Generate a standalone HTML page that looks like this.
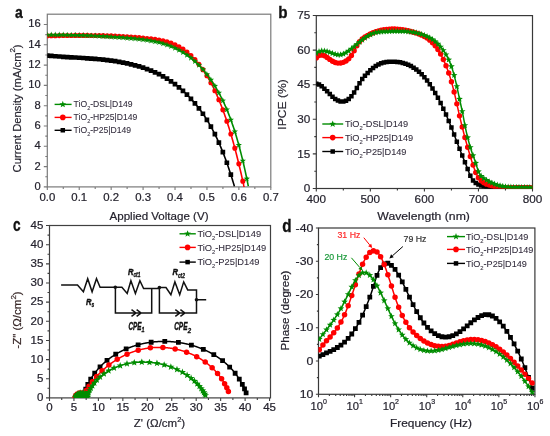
<!DOCTYPE html>
<html><head><meta charset="utf-8"><style>
html,body{margin:0;padding:0;background:#fff;width:550px;height:436px;overflow:hidden}
svg{display:block;filter:blur(0.4px);font-family:"Liberation Sans", sans-serif}
</style></head><body>
<svg width="550" height="436" viewBox="0 0 550 436" font-family='"Liberation Sans", sans-serif'>
<rect width="550" height="436" fill="#ffffff"/>
<defs><clipPath id="ca"><rect x="47.3" y="14.2" width="223.5" height="172.9"/></clipPath><clipPath id="cb"><rect x="316.3" y="15.6" width="216.2" height="173.1"/></clipPath><clipPath id="cc"><rect x="49.5" y="225.5" width="221" height="172.6"/></clipPath><clipPath id="cd"><rect x="318.5" y="228" width="216.4" height="166.5"/></clipPath></defs>
<rect x="47.3" y="14.2" width="223.5" height="172.7" fill="none" stroke="#7a7a7a" stroke-width="1.2"/>
<path d="M43.8,186.9 H47.3M43.8,166.6 H47.3M43.8,146.3 H47.3M43.8,126 H47.3M43.8,105.7 H47.3M43.8,85.4 H47.3M43.8,65.1 H47.3M43.8,44.8 H47.3M43.8,24.5 H47.3" stroke="#7a7a7a" stroke-width="1.1" fill="none"/>
<path d="M45.3,176.75 H47.3M45.3,156.45 H47.3M45.3,136.15 H47.3M45.3,115.85 H47.3M45.3,95.55 H47.3M45.3,75.25 H47.3M45.3,54.95 H47.3M45.3,34.65 H47.3" stroke="#7a7a7a" stroke-width="1.1" fill="none"/>
<path d="M47.3,186.9 V189.9M79.23,186.9 V189.9M111.16,186.9 V189.9M143.09,186.9 V189.9M175.02,186.9 V189.9M206.95,186.9 V189.9M238.88,186.9 V189.9M270.81,186.9 V189.9" stroke="#7a7a7a" stroke-width="1.1" fill="none"/>
<path d="M63.27,186.9 V188.9M95.2,186.9 V188.9M127.12,186.9 V188.9M159.06,186.9 V188.9M190.99,186.9 V188.9M222.92,186.9 V188.9M254.85,186.9 V188.9" stroke="#7a7a7a" stroke-width="1.1" fill="none"/>
<text transform="translate(40.8,189.8) scale(1.12,1.0)" font-size="10" text-anchor="end" fill="#25232e" font-weight="normal" font-style="normal"  stroke="#25232e" stroke-width="0.2">0</text>
<text transform="translate(40.8,169.5) scale(1.12,1.0)" font-size="10" text-anchor="end" fill="#25232e" font-weight="normal" font-style="normal"  stroke="#25232e" stroke-width="0.2">2</text>
<text transform="translate(40.8,149.2) scale(1.12,1.0)" font-size="10" text-anchor="end" fill="#25232e" font-weight="normal" font-style="normal"  stroke="#25232e" stroke-width="0.2">4</text>
<text transform="translate(40.8,128.9) scale(1.12,1.0)" font-size="10" text-anchor="end" fill="#25232e" font-weight="normal" font-style="normal"  stroke="#25232e" stroke-width="0.2">6</text>
<text transform="translate(40.8,108.6) scale(1.12,1.0)" font-size="10" text-anchor="end" fill="#25232e" font-weight="normal" font-style="normal"  stroke="#25232e" stroke-width="0.2">8</text>
<text transform="translate(40.8,88.3) scale(1.12,1.0)" font-size="10" text-anchor="end" fill="#25232e" font-weight="normal" font-style="normal"  stroke="#25232e" stroke-width="0.2">10</text>
<text transform="translate(40.8,68) scale(1.12,1.0)" font-size="10" text-anchor="end" fill="#25232e" font-weight="normal" font-style="normal"  stroke="#25232e" stroke-width="0.2">12</text>
<text transform="translate(40.8,47.7) scale(1.12,1.0)" font-size="10" text-anchor="end" fill="#25232e" font-weight="normal" font-style="normal"  stroke="#25232e" stroke-width="0.2">14</text>
<text transform="translate(40.8,27.4) scale(1.12,1.0)" font-size="10" text-anchor="end" fill="#25232e" font-weight="normal" font-style="normal"  stroke="#25232e" stroke-width="0.2">16</text>
<text transform="translate(47.3,200.5) scale(1.14,1.0)" font-size="10" text-anchor="middle" fill="#25232e" font-weight="normal" font-style="normal"  stroke="#25232e" stroke-width="0.2">0.0</text>
<text transform="translate(79.23,200.5) scale(1.14,1.0)" font-size="10" text-anchor="middle" fill="#25232e" font-weight="normal" font-style="normal"  stroke="#25232e" stroke-width="0.2">0.1</text>
<text transform="translate(111.16,200.5) scale(1.14,1.0)" font-size="10" text-anchor="middle" fill="#25232e" font-weight="normal" font-style="normal"  stroke="#25232e" stroke-width="0.2">0.2</text>
<text transform="translate(143.09,200.5) scale(1.14,1.0)" font-size="10" text-anchor="middle" fill="#25232e" font-weight="normal" font-style="normal"  stroke="#25232e" stroke-width="0.2">0.3</text>
<text transform="translate(175.02,200.5) scale(1.14,1.0)" font-size="10" text-anchor="middle" fill="#25232e" font-weight="normal" font-style="normal"  stroke="#25232e" stroke-width="0.2">0.4</text>
<text transform="translate(206.95,200.5) scale(1.14,1.0)" font-size="10" text-anchor="middle" fill="#25232e" font-weight="normal" font-style="normal"  stroke="#25232e" stroke-width="0.2">0.5</text>
<text transform="translate(238.88,200.5) scale(1.14,1.0)" font-size="10" text-anchor="middle" fill="#25232e" font-weight="normal" font-style="normal"  stroke="#25232e" stroke-width="0.2">0.6</text>
<text transform="translate(270.81,200.5) scale(1.14,1.0)" font-size="10" text-anchor="middle" fill="#25232e" font-weight="normal" font-style="normal"  stroke="#25232e" stroke-width="0.2">0.7</text>
<text x="159" y="220.2" font-size="11.5" text-anchor="middle" fill="#25232e" font-weight="normal" font-style="normal" textLength="99" lengthAdjust="spacingAndGlyphs"  stroke="#25232e" stroke-width="0.2">Applied Voltage (V)</text>
<text transform="translate(20.6,108.4) rotate(-90)" font-size="11.5" text-anchor="middle" fill="#25232e" textLength="128" lengthAdjust="spacingAndGlyphs" stroke="#25232e" stroke-width="0.2">Current Density (mA/cm<tspan font-size="8" dy="-5.5">2</tspan><tspan dy="5.5">)</tspan></text>
<text transform="translate(15,17.7) scale(0.8,0.97)" font-size="17.5" font-weight="bold" fill="#111" stroke="#111" stroke-width="0.35">a</text>
<g clip-path="url(#ca)">
<path d="M47.3,55.54 L47.8,55.59 L48.3,55.63 L48.8,55.68 L49.3,55.73 L49.8,55.77 L50.3,55.82 L50.8,55.86 L51.3,55.9 L51.8,55.95 L52.3,55.99 L52.8,56.03 L53.3,56.07 L53.8,56.11 L54.3,56.15 L54.8,56.19 L55.3,56.23 L55.8,56.27 L56.3,56.31 L56.8,56.35 L57.3,56.38 L57.8,56.42 L58.3,56.45 L58.8,56.49 L59.3,56.53 L59.8,56.56 L60.3,56.6 L60.8,56.63 L61.3,56.66 L61.8,56.7 L62.3,56.73 L62.8,56.76 L63.3,56.8 L63.8,56.83 L64.3,56.86 L64.8,56.89 L65.3,56.92 L65.8,56.95 L66.3,56.99 L66.8,57.02 L67.3,57.05 L67.8,57.08 L68.3,57.11 L68.8,57.14 L69.3,57.17 L69.8,57.2 L70.3,57.23 L70.8,57.26 L71.3,57.29 L71.8,57.32 L72.3,57.35 L72.8,57.38 L73.3,57.41 L73.8,57.44 L74.3,57.47 L74.8,57.5 L75.3,57.53 L75.8,57.56 L76.3,57.59 L76.8,57.62 L77.3,57.65 L77.8,57.68 L78.3,57.71 L78.8,57.74 L79.3,57.77 L79.8,57.8 L80.3,57.83 L80.8,57.86 L81.3,57.89 L81.8,57.92 L82.3,57.95 L82.8,57.99 L83.3,58.02 L83.8,58.05 L84.3,58.08 L84.8,58.12 L85.3,58.15 L85.8,58.18 L86.3,58.22 L86.8,58.25 L87.3,58.29 L87.8,58.32 L88.3,58.36 L88.8,58.39 L89.3,58.43 L89.8,58.46 L90.3,58.5 L90.8,58.54 L91.3,58.58 L91.8,58.62 L92.3,58.66 L92.8,58.7 L93.3,58.74 L93.8,58.78 L94.3,58.82 L94.8,58.86 L95.3,58.9 L95.8,58.94 L96.3,58.99 L96.8,59.03 L97.3,59.08 L97.8,59.12 L98.3,59.17 L98.8,59.22 L99.3,59.26 L99.8,59.31 L100.3,59.36 L100.8,59.41 L101.3,59.46 L101.8,59.51 L102.3,59.56 L102.8,59.62 L103.3,59.67 L103.8,59.73 L104.3,59.78 L104.8,59.84 L105.3,59.89 L105.8,59.95 L106.3,60.01 L106.8,60.07 L107.3,60.13 L107.8,60.19 L108.3,60.25 L108.8,60.32 L109.3,60.38 L109.8,60.45 L110.3,60.51 L110.8,60.58 L111.3,60.65 L111.8,60.72 L112.3,60.79 L112.8,60.86 L113.3,60.93 L113.8,61.01 L114.3,61.08 L114.8,61.16 L115.3,61.24 L115.8,61.31 L116.3,61.39 L116.8,61.47 L117.3,61.56 L117.8,61.64 L118.3,61.72 L118.8,61.81 L119.3,61.89 L119.8,61.98 L120.3,62.07 L120.8,62.16 L121.3,62.25 L121.8,62.35 L122.3,62.44 L122.8,62.54 L123.3,62.63 L123.8,62.73 L124.3,62.83 L124.8,62.93 L125.3,63.04 L125.8,63.14 L126.3,63.25 L126.8,63.35 L127.3,63.46 L127.8,63.57 L128.3,63.68 L128.8,63.79 L129.3,63.91 L129.8,64.03 L130.3,64.14 L130.8,64.26 L131.3,64.38 L131.8,64.5 L132.3,64.63 L132.8,64.75 L133.3,64.88 L133.8,65.01 L134.3,65.14 L134.8,65.27 L135.3,65.41 L135.8,65.54 L136.3,65.68 L136.8,65.82 L137.3,65.96 L137.8,66.1 L138.3,66.24 L138.8,66.39 L139.3,66.54 L139.8,66.69 L140.3,66.84 L140.8,66.99 L141.3,67.15 L141.8,67.3 L142.3,67.46 L142.8,67.62 L143.3,67.79 L143.8,67.95 L144.3,68.12 L144.8,68.29 L145.3,68.46 L145.8,68.64 L146.3,68.81 L146.8,68.99 L147.3,69.17 L147.8,69.36 L148.3,69.55 L148.8,69.73 L149.3,69.93 L149.8,70.12 L150.3,70.32 L150.8,70.52 L151.3,70.72 L151.8,70.93 L152.3,71.13 L152.8,71.34 L153.3,71.56 L153.8,71.78 L154.3,71.99 L154.8,72.22 L155.3,72.44 L155.8,72.67 L156.3,72.9 L156.8,73.14 L157.3,73.38 L157.8,73.62 L158.3,73.86 L158.8,74.11 L159.3,74.36 L159.8,74.62 L160.3,74.88 L160.8,75.14 L161.3,75.4 L161.8,75.67 L162.3,75.94 L162.8,76.22 L163.3,76.5 L163.8,76.78 L164.3,77.07 L164.8,77.36 L165.3,77.65 L165.8,77.95 L166.3,78.26 L166.8,78.56 L167.3,78.87 L167.8,79.19 L168.3,79.5 L168.8,79.83 L169.3,80.15 L169.8,80.48 L170.3,80.82 L170.8,81.16 L171.3,81.5 L171.8,81.85 L172.3,82.2 L172.8,82.56 L173.3,82.92 L173.8,83.28 L174.3,83.65 L174.8,84.03 L175.3,84.41 L175.8,84.79 L176.3,85.18 L176.8,85.57 L177.3,85.97 L177.8,86.37 L178.3,86.78 L178.8,87.19 L179.3,87.61 L179.8,88.03 L180.3,88.46 L180.8,88.89 L181.3,89.33 L181.8,89.77 L182.3,90.22 L182.8,90.67 L183.3,91.13 L183.8,91.59 L184.3,92.06 L184.8,92.53 L185.3,93.01 L185.8,93.49 L186.3,93.98 L186.8,94.48 L187.3,94.98 L187.8,95.49 L188.3,96 L188.8,96.52 L189.3,97.04 L189.8,97.57 L190.3,98.1 L190.8,98.64 L191.3,99.19 L191.8,99.74 L192.3,100.3 L192.8,100.86 L193.3,101.43 L193.8,102.01 L194.3,102.59 L194.8,103.18 L195.3,103.77 L195.8,104.37 L196.3,104.98 L196.8,105.6 L197.3,106.22 L197.8,106.85 L198.3,107.48 L198.8,108.13 L199.3,108.78 L199.8,109.44 L200.3,110.11 L200.8,110.79 L201.3,111.47 L201.8,112.17 L202.3,112.87 L202.8,113.59 L203.3,114.31 L203.8,115.04 L204.3,115.78 L204.8,116.54 L205.3,117.3 L205.8,118.07 L206.3,118.86 L206.8,119.65 L207.3,120.46 L207.8,121.27 L208.3,122.1 L208.8,122.94 L209.3,123.8 L209.8,124.66 L210.3,125.54 L210.8,126.43 L211.3,127.33 L211.8,128.24 L212.3,129.17 L212.8,130.11 L213.3,131.07 L213.8,132.03 L214.3,133.01 L214.8,134.01 L215.3,135.02 L215.8,136.05 L216.3,137.08 L216.8,138.14 L217.3,139.21 L217.8,140.29 L218.3,141.39 L218.8,142.51 L219.3,143.64 L219.8,144.78 L220.3,145.95 L220.8,147.13 L221.3,148.32 L221.8,149.53 L222.3,150.76 L222.8,152.01 L223.3,153.28 L223.8,154.56 L224.3,155.86 L224.8,157.17 L225.3,158.51 L225.8,159.87 L226.3,161.24 L226.8,162.63 L227.3,164.05 L227.8,165.48 L228.3,166.93 L228.8,168.41 L229.3,169.9 L229.8,171.42 L230.3,172.95 L230.8,174.51 L231.3,176.09 L231.8,177.69 L232.3,179.31 L232.8,180.96 L233.3,182.63 L233.8,184.32 L234.3,186.04 L234.4,186.38" fill="none" stroke="#000000" stroke-width="1.6" stroke-linejoin="round"/>
<path d="M44.95,53.19 h4.7 v4.7 h-4.7ZM48.94,53.55 h4.7 v4.7 h-4.7ZM52.93,53.88 h4.7 v4.7 h-4.7ZM56.92,54.17 h4.7 v4.7 h-4.7ZM60.91,54.44 h4.7 v4.7 h-4.7ZM64.9,54.69 h4.7 v4.7 h-4.7ZM68.89,54.94 h4.7 v4.7 h-4.7ZM72.88,55.17 h4.7 v4.7 h-4.7ZM76.87,55.41 h4.7 v4.7 h-4.7ZM80.86,55.66 h4.7 v4.7 h-4.7ZM84.85,55.93 h4.7 v4.7 h-4.7ZM88.84,56.22 h4.7 v4.7 h-4.7ZM92.83,56.54 h4.7 v4.7 h-4.7ZM96.82,56.9 h4.7 v4.7 h-4.7ZM100.81,57.31 h4.7 v4.7 h-4.7ZM104.8,57.76 h4.7 v4.7 h-4.7ZM108.79,58.28 h4.7 v4.7 h-4.7ZM112.78,58.86 h4.7 v4.7 h-4.7ZM116.77,59.51 h4.7 v4.7 h-4.7ZM120.76,60.25 h4.7 v4.7 h-4.7ZM124.75,61.07 h4.7 v4.7 h-4.7ZM128.74,61.98 h4.7 v4.7 h-4.7ZM132.73,63 h4.7 v4.7 h-4.7ZM136.72,64.12 h4.7 v4.7 h-4.7ZM140.71,65.36 h4.7 v4.7 h-4.7ZM144.7,66.73 h4.7 v4.7 h-4.7ZM148.69,68.26 h4.7 v4.7 h-4.7ZM152.68,69.97 h4.7 v4.7 h-4.7ZM156.67,71.87 h4.7 v4.7 h-4.7ZM160.66,73.99 h4.7 v4.7 h-4.7ZM164.65,76.34 h4.7 v4.7 h-4.7ZM168.64,78.94 h4.7 v4.7 h-4.7ZM172.63,81.81 h4.7 v4.7 h-4.7ZM176.62,84.98 h4.7 v4.7 h-4.7ZM180.61,88.46 h4.7 v4.7 h-4.7ZM184.6,92.28 h4.7 v4.7 h-4.7ZM188.59,96.44 h4.7 v4.7 h-4.7ZM192.58,100.98 h4.7 v4.7 h-4.7ZM196.57,105.93 h4.7 v4.7 h-4.7ZM200.56,111.39 h4.7 v4.7 h-4.7ZM204.55,117.46 h4.7 v4.7 h-4.7ZM208.54,124.24 h4.7 v4.7 h-4.7ZM212.53,131.82 h4.7 v4.7 h-4.7ZM216.52,140.31 h4.7 v4.7 h-4.7ZM220.51,149.81 h4.7 v4.7 h-4.7ZM224.5,160.42 h4.7 v4.7 h-4.7ZM228.49,172.28 h4.7 v4.7 h-4.7Z" fill="#000000" stroke="none"/>
<path d="M47.3,35.84 L47.8,35.83 L48.3,35.82 L48.8,35.81 L49.3,35.8 L49.8,35.79 L50.3,35.78 L50.8,35.77 L51.3,35.76 L51.8,35.75 L52.3,35.74 L52.8,35.73 L53.3,35.72 L53.8,35.71 L54.3,35.7 L54.8,35.69 L55.3,35.68 L55.8,35.67 L56.3,35.66 L56.8,35.66 L57.3,35.65 L57.8,35.64 L58.3,35.63 L58.8,35.62 L59.3,35.61 L59.8,35.6 L60.3,35.6 L60.8,35.59 L61.3,35.58 L61.8,35.57 L62.3,35.57 L62.8,35.56 L63.3,35.55 L63.8,35.54 L64.3,35.54 L64.8,35.53 L65.3,35.52 L65.8,35.52 L66.3,35.51 L66.8,35.5 L67.3,35.5 L67.8,35.49 L68.3,35.48 L68.8,35.48 L69.3,35.47 L69.8,35.47 L70.3,35.46 L70.8,35.46 L71.3,35.45 L71.8,35.45 L72.3,35.44 L72.8,35.44 L73.3,35.44 L73.8,35.43 L74.3,35.43 L74.8,35.42 L75.3,35.42 L75.8,35.42 L76.3,35.41 L76.8,35.41 L77.3,35.41 L77.8,35.41 L78.3,35.4 L78.8,35.4 L79.3,35.4 L79.8,35.4 L80.3,35.4 L80.8,35.4 L81.3,35.4 L81.8,35.4 L82.3,35.4 L82.8,35.4 L83.3,35.4 L83.8,35.4 L84.3,35.4 L84.8,35.4 L85.3,35.4 L85.8,35.4 L86.3,35.4 L86.8,35.4 L87.3,35.41 L87.8,35.41 L88.3,35.41 L88.8,35.42 L89.3,35.42 L89.8,35.42 L90.3,35.43 L90.8,35.43 L91.3,35.43 L91.8,35.44 L92.3,35.44 L92.8,35.45 L93.3,35.46 L93.8,35.46 L94.3,35.47 L94.8,35.47 L95.3,35.48 L95.8,35.49 L96.3,35.5 L96.8,35.5 L97.3,35.51 L97.8,35.52 L98.3,35.53 L98.8,35.54 L99.3,35.55 L99.8,35.56 L100.3,35.57 L100.8,35.58 L101.3,35.59 L101.8,35.6 L102.3,35.61 L102.8,35.62 L103.3,35.64 L103.8,35.65 L104.3,35.66 L104.8,35.68 L105.3,35.69 L105.8,35.7 L106.3,35.72 L106.8,35.73 L107.3,35.75 L107.8,35.76 L108.3,35.78 L108.8,35.8 L109.3,35.81 L109.8,35.83 L110.3,35.85 L110.8,35.87 L111.3,35.89 L111.8,35.9 L112.3,35.92 L112.8,35.94 L113.3,35.96 L113.8,35.98 L114.3,36 L114.8,36.03 L115.3,36.05 L115.8,36.07 L116.3,36.09 L116.8,36.12 L117.3,36.14 L117.8,36.16 L118.3,36.19 L118.8,36.21 L119.3,36.24 L119.8,36.26 L120.3,36.29 L120.8,36.32 L121.3,36.34 L121.8,36.37 L122.3,36.4 L122.8,36.43 L123.3,36.46 L123.8,36.49 L124.3,36.52 L124.8,36.55 L125.3,36.58 L125.8,36.61 L126.3,36.64 L126.8,36.67 L127.3,36.71 L127.8,36.74 L128.3,36.77 L128.8,36.81 L129.3,36.84 L129.8,36.88 L130.3,36.91 L130.8,36.95 L131.3,36.99 L131.8,37.02 L132.3,37.06 L132.8,37.1 L133.3,37.14 L133.8,37.18 L134.3,37.22 L134.8,37.26 L135.3,37.3 L135.8,37.34 L136.3,37.38 L136.8,37.43 L137.3,37.47 L137.8,37.51 L138.3,37.56 L138.8,37.6 L139.3,37.65 L139.8,37.7 L140.3,37.74 L140.8,37.79 L141.3,37.84 L141.8,37.89 L142.3,37.94 L142.8,37.98 L143.3,38.04 L143.8,38.09 L144.3,38.14 L144.8,38.19 L145.3,38.24 L145.8,38.3 L146.3,38.35 L146.8,38.4 L147.3,38.46 L147.8,38.51 L148.3,38.57 L148.8,38.63 L149.3,38.68 L149.8,38.74 L150.3,38.8 L150.8,38.86 L151.3,38.92 L151.8,38.98 L152.3,39.04 L152.8,39.11 L153.3,39.17 L153.8,39.24 L154.3,39.3 L154.8,39.37 L155.3,39.44 L155.8,39.52 L156.3,39.59 L156.8,39.67 L157.3,39.74 L157.8,39.83 L158.3,39.91 L158.8,39.99 L159.3,40.08 L159.8,40.17 L160.3,40.26 L160.8,40.36 L161.3,40.46 L161.8,40.56 L162.3,40.66 L162.8,40.77 L163.3,40.88 L163.8,41 L164.3,41.12 L164.8,41.24 L165.3,41.37 L165.8,41.5 L166.3,41.63 L166.8,41.77 L167.3,41.91 L167.8,42.06 L168.3,42.21 L168.8,42.36 L169.3,42.52 L169.8,42.69 L170.3,42.86 L170.8,43.03 L171.3,43.21 L171.8,43.4 L172.3,43.59 L172.8,43.79 L173.3,43.99 L173.8,44.19 L174.3,44.41 L174.8,44.63 L175.3,44.85 L175.8,45.08 L176.3,45.32 L176.8,45.56 L177.3,45.81 L177.8,46.07 L178.3,46.33 L178.8,46.6 L179.3,46.87 L179.8,47.16 L180.3,47.45 L180.8,47.74 L181.3,48.05 L181.8,48.36 L182.3,48.68 L182.8,49 L183.3,49.34 L183.8,49.68 L184.3,50.03 L184.8,50.39 L185.3,50.75 L185.8,51.13 L186.3,51.51 L186.8,51.9 L187.3,52.3 L187.8,52.71 L188.3,53.12 L188.8,53.55 L189.3,53.98 L189.8,54.43 L190.3,54.88 L190.8,55.34 L191.3,55.81 L191.8,56.29 L192.3,56.78 L192.8,57.28 L193.3,57.79 L193.8,58.31 L194.3,58.84 L194.8,59.38 L195.3,59.93 L195.8,60.49 L196.3,61.06 L196.8,61.64 L197.3,62.23 L197.8,62.84 L198.3,63.45 L198.8,64.08 L199.3,64.71 L199.8,65.36 L200.3,66.02 L200.8,66.69 L201.3,67.37 L201.8,68.06 L202.3,68.76 L202.8,69.48 L203.3,70.21 L203.8,70.95 L204.3,71.7 L204.8,72.46 L205.3,73.24 L205.8,74.03 L206.3,74.83 L206.8,75.65 L207.3,76.47 L207.8,77.32 L208.3,78.17 L208.8,79.04 L209.3,79.92 L209.8,80.81 L210.3,81.72 L210.8,82.65 L211.3,83.59 L211.8,84.54 L212.3,85.51 L212.8,86.49 L213.3,87.49 L213.8,88.51 L214.3,89.54 L214.8,90.59 L215.3,91.65 L215.8,92.73 L216.3,93.83 L216.8,94.94 L217.3,96.07 L217.8,97.22 L218.3,98.38 L218.8,99.57 L219.3,100.77 L219.8,101.99 L220.3,103.23 L220.8,104.48 L221.3,105.76 L221.8,107.05 L222.3,108.36 L222.8,109.7 L223.3,111.05 L223.8,112.42 L224.3,113.81 L224.8,115.23 L225.3,116.66 L225.8,118.11 L226.3,119.59 L226.8,121.08 L227.3,122.6 L227.8,124.14 L228.3,125.7 L228.8,127.28 L229.3,128.88 L229.8,130.51 L230.3,132.16 L230.8,133.83 L231.3,135.53 L231.8,137.25 L232.3,138.99 L232.8,140.75 L233.3,142.54 L233.8,144.35 L234.3,146.18 L234.8,148.04 L235.3,149.93 L235.8,151.83 L236.3,153.76 L236.8,155.72 L237.3,157.69 L237.8,159.7 L238.3,161.73 L238.8,163.78 L239.3,165.85 L239.8,167.96 L240.3,170.08 L240.8,172.23 L241.3,174.41 L241.8,176.61 L242.3,178.84 L242.8,181.09 L243.3,183.37 L243.8,185.67 L244.2,186.9" fill="none" stroke="#ff0000" stroke-width="1.6" stroke-linejoin="round"/>
<path d="M44.75,35.84 a2.55,2.55 0 1,0 5.1,0 a2.55,2.55 0 1,0 -5.1,0ZM48.74,35.76 a2.55,2.55 0 1,0 5.1,0 a2.55,2.55 0 1,0 -5.1,0ZM52.73,35.68 a2.55,2.55 0 1,0 5.1,0 a2.55,2.55 0 1,0 -5.1,0ZM56.72,35.61 a2.55,2.55 0 1,0 5.1,0 a2.55,2.55 0 1,0 -5.1,0ZM60.71,35.55 a2.55,2.55 0 1,0 5.1,0 a2.55,2.55 0 1,0 -5.1,0ZM64.7,35.5 a2.55,2.55 0 1,0 5.1,0 a2.55,2.55 0 1,0 -5.1,0ZM68.69,35.45 a2.55,2.55 0 1,0 5.1,0 a2.55,2.55 0 1,0 -5.1,0ZM72.68,35.42 a2.55,2.55 0 1,0 5.1,0 a2.55,2.55 0 1,0 -5.1,0ZM76.67,35.4 a2.55,2.55 0 1,0 5.1,0 a2.55,2.55 0 1,0 -5.1,0ZM80.66,35.4 a2.55,2.55 0 1,0 5.1,0 a2.55,2.55 0 1,0 -5.1,0ZM84.65,35.41 a2.55,2.55 0 1,0 5.1,0 a2.55,2.55 0 1,0 -5.1,0ZM88.64,35.43 a2.55,2.55 0 1,0 5.1,0 a2.55,2.55 0 1,0 -5.1,0ZM92.63,35.48 a2.55,2.55 0 1,0 5.1,0 a2.55,2.55 0 1,0 -5.1,0ZM96.62,35.55 a2.55,2.55 0 1,0 5.1,0 a2.55,2.55 0 1,0 -5.1,0ZM100.61,35.63 a2.55,2.55 0 1,0 5.1,0 a2.55,2.55 0 1,0 -5.1,0ZM104.6,35.74 a2.55,2.55 0 1,0 5.1,0 a2.55,2.55 0 1,0 -5.1,0ZM108.59,35.88 a2.55,2.55 0 1,0 5.1,0 a2.55,2.55 0 1,0 -5.1,0ZM112.58,36.04 a2.55,2.55 0 1,0 5.1,0 a2.55,2.55 0 1,0 -5.1,0ZM116.57,36.23 a2.55,2.55 0 1,0 5.1,0 a2.55,2.55 0 1,0 -5.1,0ZM120.56,36.44 a2.55,2.55 0 1,0 5.1,0 a2.55,2.55 0 1,0 -5.1,0ZM124.55,36.69 a2.55,2.55 0 1,0 5.1,0 a2.55,2.55 0 1,0 -5.1,0ZM128.54,36.97 a2.55,2.55 0 1,0 5.1,0 a2.55,2.55 0 1,0 -5.1,0ZM132.53,37.28 a2.55,2.55 0 1,0 5.1,0 a2.55,2.55 0 1,0 -5.1,0ZM136.52,37.63 a2.55,2.55 0 1,0 5.1,0 a2.55,2.55 0 1,0 -5.1,0ZM140.51,38.01 a2.55,2.55 0 1,0 5.1,0 a2.55,2.55 0 1,0 -5.1,0ZM144.5,38.43 a2.55,2.55 0 1,0 5.1,0 a2.55,2.55 0 1,0 -5.1,0ZM148.49,38.89 a2.55,2.55 0 1,0 5.1,0 a2.55,2.55 0 1,0 -5.1,0ZM152.48,39.41 a2.55,2.55 0 1,0 5.1,0 a2.55,2.55 0 1,0 -5.1,0ZM156.47,40.03 a2.55,2.55 0 1,0 5.1,0 a2.55,2.55 0 1,0 -5.1,0ZM160.46,40.82 a2.55,2.55 0 1,0 5.1,0 a2.55,2.55 0 1,0 -5.1,0ZM164.45,41.82 a2.55,2.55 0 1,0 5.1,0 a2.55,2.55 0 1,0 -5.1,0ZM168.44,43.1 a2.55,2.55 0 1,0 5.1,0 a2.55,2.55 0 1,0 -5.1,0ZM172.43,44.71 a2.55,2.55 0 1,0 5.1,0 a2.55,2.55 0 1,0 -5.1,0ZM176.42,46.69 a2.55,2.55 0 1,0 5.1,0 a2.55,2.55 0 1,0 -5.1,0ZM180.41,49.11 a2.55,2.55 0 1,0 5.1,0 a2.55,2.55 0 1,0 -5.1,0ZM184.4,52.02 a2.55,2.55 0 1,0 5.1,0 a2.55,2.55 0 1,0 -5.1,0ZM188.39,55.47 a2.55,2.55 0 1,0 5.1,0 a2.55,2.55 0 1,0 -5.1,0ZM192.38,59.52 a2.55,2.55 0 1,0 5.1,0 a2.55,2.55 0 1,0 -5.1,0ZM196.37,64.23 a2.55,2.55 0 1,0 5.1,0 a2.55,2.55 0 1,0 -5.1,0ZM200.36,69.64 a2.55,2.55 0 1,0 5.1,0 a2.55,2.55 0 1,0 -5.1,0ZM204.35,75.81 a2.55,2.55 0 1,0 5.1,0 a2.55,2.55 0 1,0 -5.1,0ZM208.34,82.82 a2.55,2.55 0 1,0 5.1,0 a2.55,2.55 0 1,0 -5.1,0ZM212.33,90.76 a2.55,2.55 0 1,0 5.1,0 a2.55,2.55 0 1,0 -5.1,0ZM216.32,99.73 a2.55,2.55 0 1,0 5.1,0 a2.55,2.55 0 1,0 -5.1,0ZM220.31,109.86 a2.55,2.55 0 1,0 5.1,0 a2.55,2.55 0 1,0 -5.1,0ZM224.3,121.23 a2.55,2.55 0 1,0 5.1,0 a2.55,2.55 0 1,0 -5.1,0ZM228.29,133.97 a2.55,2.55 0 1,0 5.1,0 a2.55,2.55 0 1,0 -5.1,0ZM232.28,148.16 a2.55,2.55 0 1,0 5.1,0 a2.55,2.55 0 1,0 -5.1,0ZM236.27,163.86 a2.55,2.55 0 1,0 5.1,0 a2.55,2.55 0 1,0 -5.1,0ZM240.26,181.13 a2.55,2.55 0 1,0 5.1,0 a2.55,2.55 0 1,0 -5.1,0Z" fill="#ff0000" stroke="none"/>
<path d="M47.3,34.8 L47.8,34.8 L48.3,34.8 L48.8,34.8 L49.3,34.8 L49.8,34.8 L50.3,34.81 L50.8,34.81 L51.3,34.81 L51.8,34.81 L52.3,34.81 L52.8,34.81 L53.3,34.81 L53.8,34.82 L54.3,34.82 L54.8,34.82 L55.3,34.83 L55.8,34.83 L56.3,34.83 L56.8,34.84 L57.3,34.84 L57.8,34.84 L58.3,34.85 L58.8,34.85 L59.3,34.86 L59.8,34.86 L60.3,34.87 L60.8,34.88 L61.3,34.88 L61.8,34.89 L62.3,34.89 L62.8,34.9 L63.3,34.91 L63.8,34.91 L64.3,34.92 L64.8,34.93 L65.3,34.94 L65.8,34.95 L66.3,34.95 L66.8,34.96 L67.3,34.97 L67.8,34.98 L68.3,34.99 L68.8,35 L69.3,35.01 L69.8,35.02 L70.3,35.03 L70.8,35.04 L71.3,35.05 L71.8,35.06 L72.3,35.07 L72.8,35.09 L73.3,35.1 L73.8,35.11 L74.3,35.12 L74.8,35.14 L75.3,35.15 L75.8,35.16 L76.3,35.17 L76.8,35.19 L77.3,35.2 L77.8,35.22 L78.3,35.23 L78.8,35.25 L79.3,35.26 L79.8,35.28 L80.3,35.29 L80.8,35.31 L81.3,35.32 L81.8,35.34 L82.3,35.36 L82.8,35.37 L83.3,35.39 L83.8,35.41 L84.3,35.43 L84.8,35.44 L85.3,35.46 L85.8,35.48 L86.3,35.5 L86.8,35.52 L87.3,35.54 L87.8,35.56 L88.3,35.58 L88.8,35.6 L89.3,35.62 L89.8,35.64 L90.3,35.66 L90.8,35.68 L91.3,35.7 L91.8,35.72 L92.3,35.75 L92.8,35.77 L93.3,35.79 L93.8,35.81 L94.3,35.84 L94.8,35.86 L95.3,35.88 L95.8,35.91 L96.3,35.93 L96.8,35.96 L97.3,35.98 L97.8,36.01 L98.3,36.03 L98.8,36.06 L99.3,36.08 L99.8,36.11 L100.3,36.14 L100.8,36.16 L101.3,36.19 L101.8,36.22 L102.3,36.25 L102.8,36.27 L103.3,36.3 L103.8,36.33 L104.3,36.36 L104.8,36.39 L105.3,36.42 L105.8,36.45 L106.3,36.48 L106.8,36.51 L107.3,36.54 L107.8,36.57 L108.3,36.6 L108.8,36.63 L109.3,36.66 L109.8,36.7 L110.3,36.73 L110.8,36.76 L111.3,36.79 L111.8,36.83 L112.3,36.86 L112.8,36.9 L113.3,36.93 L113.8,36.96 L114.3,37 L114.8,37.03 L115.3,37.07 L115.8,37.11 L116.3,37.14 L116.8,37.18 L117.3,37.21 L117.8,37.25 L118.3,37.29 L118.8,37.33 L119.3,37.36 L119.8,37.4 L120.3,37.44 L120.8,37.48 L121.3,37.52 L121.8,37.56 L122.3,37.6 L122.8,37.64 L123.3,37.68 L123.8,37.72 L124.3,37.76 L124.8,37.8 L125.3,37.84 L125.8,37.88 L126.3,37.93 L126.8,37.97 L127.3,38.01 L127.8,38.05 L128.3,38.1 L128.8,38.14 L129.3,38.19 L129.8,38.23 L130.3,38.27 L130.8,38.32 L131.3,38.36 L131.8,38.41 L132.3,38.46 L132.8,38.5 L133.3,38.55 L133.8,38.6 L134.3,38.64 L134.8,38.69 L135.3,38.74 L135.8,38.79 L136.3,38.84 L136.8,38.89 L137.3,38.94 L137.8,38.99 L138.3,39.04 L138.8,39.09 L139.3,39.15 L139.8,39.2 L140.3,39.25 L140.8,39.31 L141.3,39.37 L141.8,39.43 L142.3,39.49 L142.8,39.55 L143.3,39.61 L143.8,39.67 L144.3,39.73 L144.8,39.8 L145.3,39.87 L145.8,39.93 L146.3,40 L146.8,40.07 L147.3,40.15 L147.8,40.22 L148.3,40.3 L148.8,40.38 L149.3,40.46 L149.8,40.54 L150.3,40.62 L150.8,40.71 L151.3,40.79 L151.8,40.88 L152.3,40.97 L152.8,41.07 L153.3,41.16 L153.8,41.26 L154.3,41.36 L154.8,41.46 L155.3,41.56 L155.8,41.67 L156.3,41.78 L156.8,41.89 L157.3,42.01 L157.8,42.12 L158.3,42.24 L158.8,42.36 L159.3,42.49 L159.8,42.62 L160.3,42.75 L160.8,42.88 L161.3,43.01 L161.8,43.15 L162.3,43.3 L162.8,43.44 L163.3,43.59 L163.8,43.74 L164.3,43.89 L164.8,44.05 L165.3,44.21 L165.8,44.38 L166.3,44.54 L166.8,44.71 L167.3,44.89 L167.8,45.07 L168.3,45.25 L168.8,45.43 L169.3,45.62 L169.8,45.81 L170.3,46.01 L170.8,46.21 L171.3,46.41 L171.8,46.62 L172.3,46.83 L172.8,47.05 L173.3,47.27 L173.8,47.49 L174.3,47.72 L174.8,47.95 L175.3,48.19 L175.8,48.43 L176.3,48.67 L176.8,48.92 L177.3,49.17 L177.8,49.43 L178.3,49.69 L178.8,49.96 L179.3,50.23 L179.8,50.51 L180.3,50.79 L180.8,51.08 L181.3,51.37 L181.8,51.66 L182.3,51.96 L182.8,52.27 L183.3,52.58 L183.8,52.89 L184.3,53.21 L184.8,53.54 L185.3,53.87 L185.8,54.2 L186.3,54.54 L186.8,54.89 L187.3,55.24 L187.8,55.6 L188.3,55.96 L188.8,56.33 L189.3,56.7 L189.8,57.08 L190.3,57.47 L190.8,57.86 L191.3,58.26 L191.8,58.66 L192.3,59.07 L192.8,59.49 L193.3,59.92 L193.8,60.35 L194.3,60.78 L194.8,61.23 L195.3,61.68 L195.8,62.14 L196.3,62.6 L196.8,63.08 L197.3,63.56 L197.8,64.05 L198.3,64.54 L198.8,65.04 L199.3,65.56 L199.8,66.07 L200.3,66.6 L200.8,67.14 L201.3,67.68 L201.8,68.23 L202.3,68.79 L202.8,69.36 L203.3,69.94 L203.8,70.53 L204.3,71.12 L204.8,71.73 L205.3,72.34 L205.8,72.96 L206.3,73.59 L206.8,74.23 L207.3,74.89 L207.8,75.55 L208.3,76.22 L208.8,76.9 L209.3,77.59 L209.8,78.29 L210.3,78.99 L210.8,79.72 L211.3,80.45 L211.8,81.19 L212.3,81.94 L212.8,82.7 L213.3,83.47 L213.8,84.26 L214.3,85.05 L214.8,85.86 L215.3,86.67 L215.8,87.5 L216.3,88.34 L216.8,89.2 L217.3,90.06 L217.8,90.94 L218.3,91.84 L218.8,92.74 L219.3,93.67 L219.8,94.6 L220.3,95.55 L220.8,96.52 L221.3,97.5 L221.8,98.5 L222.3,99.52 L222.8,100.55 L223.3,101.6 L223.8,102.67 L224.3,103.75 L224.8,104.86 L225.3,105.98 L225.8,107.12 L226.3,108.28 L226.8,109.46 L227.3,110.66 L227.8,111.88 L228.3,113.13 L228.8,114.39 L229.3,115.68 L229.8,116.99 L230.3,118.33 L230.8,119.69 L231.3,121.07 L231.8,122.48 L232.3,123.91 L232.8,125.37 L233.3,126.86 L233.8,128.37 L234.3,129.91 L234.8,131.47 L235.3,133.07 L235.8,134.69 L236.3,136.35 L236.8,138.03 L237.3,139.74 L237.8,141.49 L238.3,143.26 L238.8,145.07 L239.3,146.91 L239.8,148.78 L240.3,150.68 L240.8,152.62 L241.3,154.6 L241.8,156.6 L242.3,158.65 L242.8,160.73 L243.3,162.84 L243.8,164.99 L244.3,167.18 L244.8,169.41 L245.3,171.68 L245.8,173.98 L246.3,176.33 L246.8,178.71 L247.3,181.13 L247.8,183.6 L248.3,186.11 L248.3,186.11" fill="none" stroke="#008c00" stroke-width="1.6" stroke-linejoin="round"/>
<path d="M47.3,31.5 L48.11,33.68 L50.44,33.78 L48.62,35.23 L49.24,37.47 L47.3,36.19 L45.36,37.47 L45.98,35.23 L44.16,33.78 L46.49,33.68ZM51.29,31.51 L52.1,33.69 L54.43,33.79 L52.61,35.24 L53.23,37.48 L51.29,36.19 L49.35,37.48 L49.97,35.24 L48.15,33.79 L50.48,33.69ZM55.28,31.53 L56.09,33.7 L58.42,33.81 L56.6,35.25 L57.22,37.5 L55.28,36.21 L53.34,37.5 L53.96,35.25 L52.14,33.81 L54.47,33.7ZM59.27,31.56 L60.08,33.74 L62.41,33.84 L60.59,35.29 L61.21,37.53 L59.27,36.24 L57.33,37.53 L57.95,35.29 L56.13,33.84 L58.46,33.74ZM63.26,31.61 L64.07,33.79 L66.4,33.89 L64.58,35.33 L65.2,37.58 L63.26,36.29 L61.32,37.58 L61.94,35.33 L60.12,33.89 L62.45,33.79ZM67.25,31.67 L68.06,33.85 L70.39,33.95 L68.57,35.4 L69.19,37.64 L67.25,36.36 L65.31,37.64 L65.93,35.4 L64.11,33.95 L66.44,33.85ZM71.24,31.75 L72.05,33.93 L74.38,34.03 L72.56,35.48 L73.18,37.72 L71.24,36.44 L69.3,37.72 L69.92,35.48 L68.1,34.03 L70.43,33.93ZM75.23,31.85 L76.04,34.02 L78.37,34.13 L76.55,35.57 L77.17,37.82 L75.23,36.53 L73.29,37.82 L73.91,35.57 L72.09,34.13 L74.42,34.02ZM79.22,31.96 L80.03,34.14 L82.36,34.24 L80.54,35.69 L81.16,37.93 L79.22,36.64 L77.28,37.93 L77.9,35.69 L76.08,34.24 L78.41,34.14ZM83.21,32.09 L84.02,34.27 L86.35,34.37 L84.53,35.82 L85.15,38.06 L83.21,36.77 L81.27,38.06 L81.89,35.82 L80.07,34.37 L82.4,34.27ZM87.2,32.23 L88.01,34.41 L90.34,34.51 L88.52,35.96 L89.14,38.2 L87.2,36.92 L85.26,38.2 L85.88,35.96 L84.06,34.51 L86.39,34.41ZM91.19,32.4 L92,34.58 L94.33,34.68 L92.51,36.13 L93.13,38.37 L91.19,37.08 L89.25,38.37 L89.87,36.13 L88.05,34.68 L90.38,34.58ZM95.18,32.58 L95.99,34.76 L98.32,34.86 L96.5,36.31 L97.12,38.55 L95.18,37.26 L93.24,38.55 L93.86,36.31 L92.04,34.86 L94.37,34.76ZM99.17,32.78 L99.98,34.96 L102.31,35.06 L100.49,36.51 L101.11,38.75 L99.17,37.46 L97.23,38.75 L97.85,36.51 L96.03,35.06 L98.36,34.96ZM103.16,32.99 L103.97,35.17 L106.3,35.27 L104.48,36.72 L105.1,38.96 L103.16,37.68 L101.22,38.96 L101.84,36.72 L100.02,35.27 L102.35,35.17ZM107.15,33.23 L107.96,35.41 L110.29,35.51 L108.47,36.96 L109.09,39.2 L107.15,37.92 L105.21,39.2 L105.83,36.96 L104.01,35.51 L106.34,35.41ZM111.14,33.48 L111.95,35.66 L114.28,35.76 L112.46,37.21 L113.08,39.45 L111.14,38.17 L109.2,39.45 L109.82,37.21 L108,35.76 L110.33,35.66ZM115.13,33.76 L115.94,35.94 L118.27,36.04 L116.45,37.49 L117.07,39.73 L115.13,38.44 L113.19,39.73 L113.81,37.49 L111.99,36.04 L114.32,35.94ZM119.12,34.05 L119.93,36.23 L122.26,36.33 L120.44,37.78 L121.06,40.02 L119.12,38.74 L117.18,40.02 L117.8,37.78 L115.98,36.33 L118.31,36.23ZM123.11,34.36 L123.92,36.54 L126.25,36.64 L124.43,38.09 L125.05,40.33 L123.11,39.05 L121.17,40.33 L121.79,38.09 L119.97,36.64 L122.3,36.54ZM127.1,34.69 L127.91,36.87 L130.24,36.97 L128.42,38.42 L129.04,40.66 L127.1,39.38 L125.16,40.66 L125.78,38.42 L123.96,36.97 L126.29,36.87ZM131.09,35.05 L131.9,37.22 L134.23,37.33 L132.41,38.77 L133.03,41.02 L131.09,39.73 L129.15,41.02 L129.77,38.77 L127.95,37.33 L130.28,37.22ZM135.08,35.42 L135.89,37.6 L138.22,37.7 L136.4,39.15 L137.02,41.39 L135.08,40.1 L133.14,41.39 L133.76,39.15 L131.94,37.7 L134.27,37.6ZM139.07,35.82 L139.88,38 L142.21,38.1 L140.39,39.55 L141.01,41.79 L139.07,40.51 L137.13,41.79 L137.75,39.55 L135.93,38.1 L138.26,38ZM143.06,36.28 L143.87,38.46 L146.2,38.56 L144.38,40.01 L145,42.25 L143.06,40.96 L141.12,42.25 L141.74,40.01 L139.92,38.56 L142.25,38.46ZM147.05,36.81 L147.86,38.99 L150.19,39.09 L148.37,40.54 L148.99,42.78 L147.05,41.5 L145.11,42.78 L145.73,40.54 L143.91,39.09 L146.24,38.99ZM151.04,37.45 L151.85,39.63 L154.18,39.73 L152.36,41.17 L152.98,43.42 L151.04,42.13 L149.1,43.42 L149.72,41.17 L147.9,39.73 L150.23,39.63ZM155.03,38.21 L155.84,40.39 L158.17,40.49 L156.35,41.94 L156.97,44.18 L155.03,42.89 L153.09,44.18 L153.71,41.94 L151.89,40.49 L154.22,40.39ZM159.02,39.12 L159.83,41.3 L162.16,41.4 L160.34,42.85 L160.96,45.09 L159.02,43.8 L157.08,45.09 L157.7,42.85 L155.88,41.4 L158.21,41.3ZM163.01,40.2 L163.82,42.38 L166.15,42.48 L164.33,43.93 L164.95,46.17 L163.01,44.89 L161.07,46.17 L161.69,43.93 L159.87,42.48 L162.2,42.38ZM167,41.48 L167.81,43.66 L170.14,43.76 L168.32,45.21 L168.94,47.45 L167,46.17 L165.06,47.45 L165.68,45.21 L163.86,43.76 L166.19,43.66ZM170.99,42.99 L171.8,45.17 L174.13,45.27 L172.31,46.71 L172.93,48.96 L170.99,47.67 L169.05,48.96 L169.67,46.71 L167.85,45.27 L170.18,45.17ZM174.98,44.74 L175.79,46.91 L178.12,47.02 L176.3,48.46 L176.92,50.71 L174.98,49.42 L173.04,50.71 L173.66,48.46 L171.84,47.02 L174.17,46.91ZM178.97,46.75 L179.78,48.93 L182.11,49.03 L180.29,50.48 L180.91,52.72 L178.97,51.44 L177.03,52.72 L177.65,50.48 L175.83,49.03 L178.16,48.93ZM182.96,49.07 L183.77,51.24 L186.1,51.35 L184.28,52.79 L184.9,55.04 L182.96,53.75 L181.02,55.04 L181.64,52.79 L179.82,51.35 L182.15,51.24ZM186.95,51.7 L187.76,53.87 L190.09,53.98 L188.27,55.42 L188.89,57.67 L186.95,56.38 L185.01,57.67 L185.63,55.42 L183.81,53.98 L186.14,53.87ZM190.94,54.67 L191.75,56.85 L194.08,56.95 L192.26,58.4 L192.88,60.64 L190.94,59.36 L189,60.64 L189.62,58.4 L187.8,56.95 L190.13,56.85ZM194.93,58.05 L195.74,60.22 L198.07,60.33 L196.25,61.77 L196.87,64.01 L194.93,62.73 L192.99,64.01 L193.61,61.77 L191.79,60.33 L194.12,60.22ZM198.92,61.87 L199.73,64.05 L202.06,64.15 L200.24,65.59 L200.86,67.84 L198.92,66.55 L196.98,67.84 L197.6,65.59 L195.78,64.15 L198.11,64.05ZM202.91,66.19 L203.72,68.37 L206.05,68.47 L204.23,69.92 L204.85,72.16 L202.91,70.87 L200.97,72.16 L201.59,69.92 L199.77,68.47 L202.1,68.37ZM206.9,71.06 L207.71,73.24 L210.04,73.34 L208.22,74.79 L208.84,77.03 L206.9,75.75 L204.96,77.03 L205.58,74.79 L203.76,73.34 L206.09,73.24ZM210.89,76.55 L211.7,78.72 L214.03,78.83 L212.21,80.27 L212.83,82.52 L210.89,81.23 L208.95,82.52 L209.57,80.27 L207.75,78.83 L210.08,78.72ZM214.88,82.69 L215.69,84.86 L218.02,84.97 L216.2,86.41 L216.82,88.66 L214.88,87.37 L212.94,88.66 L213.56,86.41 L211.74,84.97 L214.07,84.86ZM218.87,89.57 L219.68,91.75 L222.01,91.85 L220.19,93.3 L220.81,95.54 L218.87,94.26 L216.93,95.54 L217.55,93.3 L215.73,91.85 L218.06,91.75ZM222.86,97.37 L223.67,99.55 L226,99.66 L224.18,101.1 L224.8,103.34 L222.86,102.06 L220.92,103.34 L221.54,101.1 L219.72,99.66 L222.05,99.55ZM226.85,106.28 L227.66,108.46 L229.99,108.56 L228.17,110.01 L228.79,112.25 L226.85,110.97 L224.91,112.25 L225.53,110.01 L223.71,108.56 L226.04,108.46ZM230.84,116.5 L231.65,118.68 L233.98,118.78 L232.16,120.23 L232.78,122.47 L230.84,121.18 L228.9,122.47 L229.52,120.23 L227.7,118.78 L230.03,118.68ZM234.83,128.27 L235.64,130.45 L237.97,130.55 L236.15,132 L236.77,134.24 L234.83,132.96 L232.89,134.24 L233.51,132 L231.69,130.55 L234.02,130.45ZM238.82,141.84 L239.63,144.02 L241.96,144.12 L240.14,145.57 L240.76,147.81 L238.82,146.53 L236.88,147.81 L237.5,145.57 L235.68,144.12 L238.01,144.02ZM242.81,157.47 L243.62,159.65 L245.95,159.75 L244.13,161.2 L244.75,163.44 L242.81,162.15 L240.87,163.44 L241.49,161.2 L239.67,159.75 L242,159.65ZM246.8,175.41 L247.61,177.59 L249.94,177.69 L248.12,179.14 L248.74,181.38 L246.8,180.1 L244.86,181.38 L245.48,179.14 L243.66,177.69 L245.99,177.59Z" fill="#008c00" stroke="none"/>
</g>
<path d="M54.6,104.4 L71.6,104.4" fill="none" stroke="#008c00" stroke-width="1.4" stroke-linejoin="round"/>
<path d="M62.8,100.8 L63.69,103.18 L66.22,103.29 L64.24,104.87 L64.92,107.31 L62.8,105.91 L60.68,107.31 L61.36,104.87 L59.38,103.29 L61.91,103.18Z" fill="#008c00" stroke="none"/>
<text x="73.6" y="107.4" font-size="8.6" fill="#322c3c" stroke="#322c3c" stroke-width="0.08">TiO<tspan font-size="5.5" dy="2.8">2</tspan><tspan dy="-2.8">-DSL|D149</tspan></text>
<path d="M54.6,117.4 L71.6,117.4" fill="none" stroke="#ff0000" stroke-width="1.4" stroke-linejoin="round"/>
<path d="M60,117.4 a2.8,2.8 0 1,0 5.6,0 a2.8,2.8 0 1,0 -5.6,0Z" fill="#ff0000" stroke="none"/>
<text x="73.6" y="120.4" font-size="8.6" fill="#322c3c" stroke="#322c3c" stroke-width="0.08">TiO<tspan font-size="5.5" dy="2.8">2</tspan><tspan dy="-2.8">-HP25|D149</tspan></text>
<path d="M54.6,130.3 L71.6,130.3" fill="none" stroke="#000000" stroke-width="1.4" stroke-linejoin="round"/>
<path d="M60.55,128.05 h4.5 v4.5 h-4.5Z" fill="#000000" stroke="none"/>
<text x="73.6" y="133.3" font-size="8.6" fill="#322c3c" stroke="#322c3c" stroke-width="0.08">TiO<tspan font-size="5.5" dy="2.8">2</tspan><tspan dy="-2.8">-P25|D149</tspan></text>
<rect x="316.3" y="15.6" width="216.2" height="172.9" fill="none" stroke="#383838" stroke-width="1.2"/>
<path d="M312.8,188.5 H316.3M312.8,153.9 H316.3M312.8,119.29 H316.3M312.8,84.69 H316.3M312.8,50.08 H316.3M312.8,15.47 H316.3" stroke="#383838" stroke-width="1.1" fill="none"/>
<path d="M314.3,171.2 H316.3M314.3,136.59 H316.3M314.3,101.99 H316.3M314.3,67.38 H316.3M314.3,32.78 H316.3" stroke="#383838" stroke-width="1.1" fill="none"/>
<path d="M316.3,188.5 V191.5M370.35,188.5 V191.5M424.4,188.5 V191.5M478.45,188.5 V191.5M532.5,188.5 V191.5" stroke="#383838" stroke-width="1.1" fill="none"/>
<path d="M343.32,188.5 V190.5M397.38,188.5 V190.5M451.43,188.5 V190.5M505.48,188.5 V190.5" stroke="#383838" stroke-width="1.1" fill="none"/>
<text transform="translate(310.2,192.3) scale(1.02,1.0)" font-size="11.5" text-anchor="end" fill="#25232e" font-weight="normal" font-style="normal"  stroke="#25232e" stroke-width="0.2">0</text>
<text transform="translate(310.2,157.7) scale(1.02,1.0)" font-size="11.5" text-anchor="end" fill="#25232e" font-weight="normal" font-style="normal"  stroke="#25232e" stroke-width="0.2">15</text>
<text transform="translate(310.2,123.09) scale(1.02,1.0)" font-size="11.5" text-anchor="end" fill="#25232e" font-weight="normal" font-style="normal"  stroke="#25232e" stroke-width="0.2">30</text>
<text transform="translate(310.2,88.48) scale(1.02,1.0)" font-size="11.5" text-anchor="end" fill="#25232e" font-weight="normal" font-style="normal"  stroke="#25232e" stroke-width="0.2">45</text>
<text transform="translate(310.2,53.88) scale(1.02,1.0)" font-size="11.5" text-anchor="end" fill="#25232e" font-weight="normal" font-style="normal"  stroke="#25232e" stroke-width="0.2">60</text>
<text transform="translate(310.2,19.27) scale(1.02,1.0)" font-size="11.5" text-anchor="end" fill="#25232e" font-weight="normal" font-style="normal"  stroke="#25232e" stroke-width="0.2">75</text>
<text transform="translate(316.3,203.4) scale(1.02,1.0)" font-size="11.5" text-anchor="middle" fill="#25232e" font-weight="normal" font-style="normal"  stroke="#25232e" stroke-width="0.2">400</text>
<text transform="translate(370.35,203.4) scale(1.02,1.0)" font-size="11.5" text-anchor="middle" fill="#25232e" font-weight="normal" font-style="normal"  stroke="#25232e" stroke-width="0.2">500</text>
<text transform="translate(424.4,203.4) scale(1.02,1.0)" font-size="11.5" text-anchor="middle" fill="#25232e" font-weight="normal" font-style="normal"  stroke="#25232e" stroke-width="0.2">600</text>
<text transform="translate(478.45,203.4) scale(1.02,1.0)" font-size="11.5" text-anchor="middle" fill="#25232e" font-weight="normal" font-style="normal"  stroke="#25232e" stroke-width="0.2">700</text>
<text transform="translate(532.5,203.4) scale(1.02,1.0)" font-size="11.5" text-anchor="middle" fill="#25232e" font-weight="normal" font-style="normal"  stroke="#25232e" stroke-width="0.2">800</text>
<text x="423.6" y="220.4" font-size="11.5" text-anchor="middle" fill="#25232e" font-weight="normal" font-style="normal" textLength="92.6" lengthAdjust="spacingAndGlyphs"  stroke="#25232e" stroke-width="0.2">Wavelength (nm)</text>
<text transform="translate(286.2,104.5) rotate(-90)" font-size="11.5" text-anchor="middle" fill="#25232e" textLength="50.3" lengthAdjust="spacingAndGlyphs" stroke="#25232e" stroke-width="0.2">IPCE (%)</text>
<text transform="translate(278.3,18.2) scale(0.87,0.98)" font-size="17.5" font-weight="bold" fill="#111" stroke="#111" stroke-width="0.35">b</text>
<g clip-path="url(#cb)">
<path d="M316.3,83.68 L316.8,83.77 L317.3,83.91 L317.8,84.07 L318.3,84.27 L318.8,84.5 L319.3,84.75 L319.8,85.04 L320.3,85.35 L320.8,85.68 L321.3,86.03 L321.8,86.41 L322.3,86.81 L322.8,87.22 L323.3,87.65 L323.8,88.1 L324.3,88.55 L324.8,89.02 L325.3,89.51 L325.8,89.99 L326.3,90.49 L326.8,90.99 L327.3,91.5 L327.8,92.01 L328.3,92.52 L328.8,93.03 L329.3,93.54 L329.8,94.05 L330.3,94.55 L330.8,95.04 L331.3,95.53 L331.8,96.01 L332.3,96.48 L332.8,96.93 L333.3,97.37 L333.8,97.8 L334.3,98.2 L334.8,98.59 L335.3,98.96 L335.8,99.31 L336.3,99.64 L336.8,99.94 L337.3,100.22 L337.8,100.47 L338.3,100.7 L338.8,100.91 L339.3,101.09 L339.8,101.24 L340.3,101.36 L340.8,101.46 L341.3,101.53 L341.8,101.58 L342.3,101.59 L342.8,101.58 L343.3,101.53 L343.8,101.46 L344.3,101.36 L344.8,101.22 L345.3,101.05 L345.8,100.86 L346.3,100.63 L346.8,100.36 L347.3,100.07 L347.8,99.74 L348.3,99.37 L348.8,98.97 L349.3,98.54 L349.8,98.07 L350.3,97.56 L350.8,97.02 L351.3,96.44 L351.8,95.83 L352.3,95.17 L352.8,94.48 L353.3,93.75 L353.8,92.99 L354.3,92.2 L354.8,91.38 L355.3,90.55 L355.8,89.7 L356.3,88.83 L356.8,87.96 L357.3,87.08 L357.8,86.21 L358.3,85.33 L358.8,84.47 L359.3,83.61 L359.8,82.77 L360.3,81.95 L360.8,81.15 L361.3,80.37 L361.8,79.63 L362.3,78.93 L362.8,78.26 L363.3,77.64 L363.8,77.06 L364.3,76.51 L364.8,75.99 L365.3,75.48 L365.8,74.97 L366.3,74.45 L366.8,73.94 L367.3,73.42 L367.8,72.9 L368.3,72.38 L368.8,71.87 L369.3,71.37 L369.8,70.87 L370.3,70.38 L370.8,69.9 L371.3,69.43 L371.8,68.97 L372.3,68.53 L372.8,68.11 L373.3,67.71 L373.8,67.32 L374.3,66.95 L374.8,66.59 L375.3,66.26 L375.8,65.93 L376.3,65.63 L376.8,65.33 L377.3,65.06 L377.8,64.79 L378.3,64.54 L378.8,64.31 L379.3,64.08 L379.8,63.87 L380.3,63.68 L380.8,63.49 L381.3,63.32 L381.8,63.15 L382.3,63 L382.8,62.86 L383.3,62.73 L383.8,62.61 L384.3,62.5 L384.8,62.4 L385.3,62.3 L385.8,62.22 L386.3,62.14 L386.8,62.07 L387.3,62.01 L387.8,61.96 L388.3,61.91 L388.8,61.87 L389.3,61.84 L389.8,61.81 L390.3,61.78 L390.8,61.76 L391.3,61.75 L391.8,61.74 L392.3,61.73 L392.8,61.73 L393.3,61.74 L393.8,61.75 L394.3,61.76 L394.8,61.78 L395.3,61.81 L395.8,61.84 L396.3,61.88 L396.8,61.92 L397.3,61.97 L397.8,62.03 L398.3,62.09 L398.8,62.16 L399.3,62.23 L399.8,62.31 L400.3,62.4 L400.8,62.5 L401.3,62.6 L401.8,62.71 L402.3,62.83 L402.8,62.95 L403.3,63.08 L403.8,63.22 L404.3,63.37 L404.8,63.52 L405.3,63.69 L405.8,63.86 L406.3,64.04 L406.8,64.23 L407.3,64.43 L407.8,64.63 L408.3,64.85 L408.8,65.07 L409.3,65.3 L409.8,65.55 L410.3,65.8 L410.8,66.06 L411.3,66.33 L411.8,66.61 L412.3,66.9 L412.8,67.2 L413.3,67.51 L413.8,67.83 L414.3,68.16 L414.8,68.51 L415.3,68.86 L415.8,69.22 L416.3,69.6 L416.8,69.98 L417.3,70.38 L417.8,70.79 L418.3,71.21 L418.8,71.64 L419.3,72.08 L419.8,72.54 L420.3,73 L420.8,73.48 L421.3,73.97 L421.8,74.48 L422.3,74.99 L422.8,75.52 L423.3,76.06 L423.8,76.62 L424.3,77.18 L424.8,77.76 L425.3,78.36 L425.8,78.96 L426.3,79.58 L426.8,80.22 L427.3,80.87 L427.8,81.53 L428.3,82.2 L428.8,82.89 L429.3,83.59 L429.8,84.31 L430.3,85.04 L430.8,85.78 L431.3,86.54 L431.8,87.31 L432.3,88.09 L432.8,88.89 L433.3,89.7 L433.8,90.52 L434.3,91.35 L434.8,92.2 L435.3,93.07 L435.8,93.94 L436.3,94.83 L436.8,95.73 L437.3,96.64 L437.8,97.57 L438.3,98.51 L438.8,99.46 L439.3,100.42 L439.8,101.4 L440.3,102.39 L440.8,103.39 L441.3,104.41 L441.8,105.43 L442.3,106.47 L442.8,107.53 L443.3,108.59 L443.8,109.67 L444.3,110.76 L444.8,111.86 L445.3,112.97 L445.8,114.1 L446.3,115.24 L446.8,116.39 L447.3,117.55 L447.8,118.72 L448.3,119.91 L448.8,121.1 L449.3,122.31 L449.8,123.54 L450.3,124.77 L450.8,126.01 L451.3,127.27 L451.8,128.54 L452.3,129.82 L452.8,131.11 L453.3,132.41 L453.8,133.72 L454.3,135.03 L454.8,136.35 L455.3,137.67 L455.8,138.99 L456.3,140.32 L456.8,141.64 L457.3,142.96 L457.8,144.28 L458.3,145.6 L458.8,146.9 L459.3,148.2 L459.8,149.49 L460.3,150.77 L460.8,152.03 L461.3,153.29 L461.8,154.52 L462.3,155.75 L462.8,156.97 L463.3,158.18 L463.8,159.39 L464.3,160.6 L464.8,161.82 L465.3,163.04 L465.8,164.28 L466.3,165.54 L466.8,166.82 L467.3,168.12 L467.8,169.44 L468.3,170.76 L468.8,172.06 L469.3,173.34 L469.8,174.57 L470.3,175.75 L470.8,176.85 L471.3,177.86 L471.8,178.77 L472.3,179.56 L472.8,180.26 L473.3,180.86 L473.8,181.39 L474.3,181.85 L474.8,182.25 L475.3,182.62 L475.8,182.95 L476.3,183.26 L476.8,183.56 L477.3,183.84 L477.8,184.1 L478.3,184.35 L478.8,184.58 L479.3,184.8 L479.8,185 L480.3,185.2 L480.8,185.38 L481.3,185.55 L481.8,185.71 L482.3,185.86 L482.8,186 L483.3,186.13 L483.8,186.26 L484.3,186.38 L484.8,186.49 L485.3,186.6 L485.8,186.71 L486.3,186.81 L486.8,186.9 L487.3,186.99 L487.8,187.08 L488.3,187.16 L488.8,187.24 L489.3,187.32 L489.8,187.39 L490.3,187.45 L490.8,187.52 L491.3,187.58 L491.8,187.63 L492.3,187.68 L492.8,187.73 L493.3,187.78 L493.8,187.82 L494.3,187.86 L494.8,187.89 L495.3,187.93 L495.8,187.96 L496.3,187.98 L496.8,188.01 L497.3,188.03 L497.8,188.05 L498.3,188.06 L498.8,188.08 L499.3,188.09 L499.8,188.1 L500.3,188.11 L500.8,188.11 L501.3,188.12 L501.8,188.12 L502.3,188.12 L502.8,188.11 L503.3,188.11 L503.8,188.1 L504.3,188.1 L504.8,188.09 L505.3,188.08 L505.8,188.07 L506.3,188.06 L506.8,188.04 L507.3,188.03 L507.8,188.01 L508.3,188 L508.8,187.98 L509.3,187.96 L509.8,187.94 L510.3,187.93 L510.8,187.91 L511.3,187.89 L511.8,187.87 L512.3,187.85 L512.8,187.83 L513.3,187.81 L513.8,187.79 L514.3,187.77 L514.8,187.75 L515.3,187.73 L515.8,187.71 L516.3,187.69 L516.8,187.68 L517.3,187.66 L517.8,187.64 L518.3,187.63 L518.8,187.61 L519.3,187.6 L519.8,187.59 L520.3,187.58 L520.8,187.57 L521.3,187.56 L521.8,187.55 L522.3,187.55 L522.8,187.54 L523.3,187.54 L523.8,187.54 L524.3,187.54 L524.8,187.54 L525.3,187.55 L525.8,187.56 L526.3,187.57 L526.8,187.58 L527.3,187.59 L527.8,187.61 L528.3,187.63 L528.8,187.65 L529.3,187.67 L529.8,187.7 L530.3,187.73 L530.8,187.77 L531.3,187.8 L531.8,187.84 L532.3,187.88" fill="none" stroke="#000000" stroke-width="1.5" stroke-linejoin="round"/>
<path d="M314.05,81.43 h4.5 v4.5 h-4.5ZM316.75,82.35 h4.5 v4.5 h-4.5ZM319.45,84.09 h4.5 v4.5 h-4.5ZM322.16,86.4 h4.5 v4.5 h-4.5ZM324.86,89.06 h4.5 v4.5 h-4.5ZM327.56,91.81 h4.5 v4.5 h-4.5ZM330.26,94.42 h4.5 v4.5 h-4.5ZM332.97,96.65 h4.5 v4.5 h-4.5ZM335.67,98.28 h4.5 v4.5 h-4.5ZM338.37,99.18 h4.5 v4.5 h-4.5ZM341.07,99.28 h4.5 v4.5 h-4.5ZM343.78,98.51 h4.5 v4.5 h-4.5ZM346.48,96.78 h4.5 v4.5 h-4.5ZM349.18,94.03 h4.5 v4.5 h-4.5ZM351.88,90.21 h4.5 v4.5 h-4.5ZM354.59,85.65 h4.5 v4.5 h-4.5ZM357.29,80.95 h4.5 v4.5 h-4.5ZM359.99,76.76 h4.5 v4.5 h-4.5ZM362.69,73.59 h4.5 v4.5 h-4.5ZM365.4,70.81 h4.5 v4.5 h-4.5ZM368.1,68.08 h4.5 v4.5 h-4.5ZM370.8,65.66 h4.5 v4.5 h-4.5ZM373.5,63.71 h4.5 v4.5 h-4.5ZM376.21,62.22 h4.5 v4.5 h-4.5ZM378.91,61.11 h4.5 v4.5 h-4.5ZM381.61,60.35 h4.5 v4.5 h-4.5ZM384.31,59.86 h4.5 v4.5 h-4.5ZM387.02,59.59 h4.5 v4.5 h-4.5ZM389.72,59.49 h4.5 v4.5 h-4.5ZM392.42,59.53 h4.5 v4.5 h-4.5ZM395.12,59.73 h4.5 v4.5 h-4.5ZM397.83,60.11 h4.5 v4.5 h-4.5ZM400.53,60.7 h4.5 v4.5 h-4.5ZM403.23,61.5 h4.5 v4.5 h-4.5ZM405.94,62.55 h4.5 v4.5 h-4.5ZM408.64,63.85 h4.5 v4.5 h-4.5ZM411.34,65.45 h4.5 v4.5 h-4.5ZM414.04,67.34 h4.5 v4.5 h-4.5ZM416.75,69.56 h4.5 v4.5 h-4.5ZM419.45,72.12 h4.5 v4.5 h-4.5ZM422.15,75.05 h4.5 v4.5 h-4.5ZM424.85,78.36 h4.5 v4.5 h-4.5ZM427.56,82.07 h4.5 v4.5 h-4.5ZM430.26,86.17 h4.5 v4.5 h-4.5ZM432.96,90.66 h4.5 v4.5 h-4.5ZM435.66,95.53 h4.5 v4.5 h-4.5ZM438.37,100.77 h4.5 v4.5 h-4.5ZM441.07,106.38 h4.5 v4.5 h-4.5ZM443.77,112.35 h4.5 v4.5 h-4.5ZM446.47,118.67 h4.5 v4.5 h-4.5ZM449.18,125.34 h4.5 v4.5 h-4.5ZM451.88,132.33 h4.5 v4.5 h-4.5ZM454.58,139.47 h4.5 v4.5 h-4.5ZM457.28,146.55 h4.5 v4.5 h-4.5ZM459.99,153.34 h4.5 v4.5 h-4.5ZM462.69,159.9 h4.5 v4.5 h-4.5ZM465.39,166.77 h4.5 v4.5 h-4.5ZM468.09,173.6 h4.5 v4.5 h-4.5ZM470.8,178.31 h4.5 v4.5 h-4.5ZM473.5,180.67 h4.5 v4.5 h-4.5ZM476.2,182.17 h4.5 v4.5 h-4.5ZM478.9,183.25 h4.5 v4.5 h-4.5ZM481.61,184.02 h4.5 v4.5 h-4.5ZM484.31,184.61 h4.5 v4.5 h-4.5ZM487.01,185.06 h4.5 v4.5 h-4.5ZM489.71,185.4 h4.5 v4.5 h-4.5ZM492.41,185.63 h4.5 v4.5 h-4.5ZM495.12,185.78 h4.5 v4.5 h-4.5ZM497.82,185.85 h4.5 v4.5 h-4.5ZM500.52,185.86 h4.5 v4.5 h-4.5ZM503.23,185.83 h4.5 v4.5 h-4.5ZM505.93,185.75 h4.5 v4.5 h-4.5ZM508.63,185.65 h4.5 v4.5 h-4.5ZM511.33,185.55 h4.5 v4.5 h-4.5ZM514.03,185.44 h4.5 v4.5 h-4.5ZM516.74,185.36 h4.5 v4.5 h-4.5ZM519.44,185.3 h4.5 v4.5 h-4.5ZM522.14,185.29 h4.5 v4.5 h-4.5ZM524.85,185.34 h4.5 v4.5 h-4.5ZM527.55,185.45 h4.5 v4.5 h-4.5ZM530.25,185.65 h4.5 v4.5 h-4.5Z" fill="#000000" stroke="none"/>
<path d="M316.3,57.9 L316.8,57.3 L317.3,56.77 L317.8,56.32 L318.3,55.94 L318.8,55.63 L319.3,55.38 L319.8,55.19 L320.3,55.06 L320.8,54.99 L321.3,54.96 L321.8,54.99 L322.3,55.06 L322.8,55.17 L323.3,55.32 L323.8,55.51 L324.3,55.73 L324.8,55.98 L325.3,56.26 L325.8,56.56 L326.3,56.88 L326.8,57.21 L327.3,57.56 L327.8,57.92 L328.3,58.29 L328.8,58.66 L329.3,59.03 L329.8,59.41 L330.3,59.77 L330.8,60.13 L331.3,60.47 L331.8,60.8 L332.3,61.12 L332.8,61.41 L333.3,61.68 L333.8,61.92 L334.3,62.15 L334.8,62.35 L335.3,62.53 L335.8,62.68 L336.3,62.82 L336.8,62.93 L337.3,63.02 L337.8,63.09 L338.3,63.13 L338.8,63.16 L339.3,63.16 L339.8,63.14 L340.3,63.09 L340.8,63.03 L341.3,62.94 L341.8,62.83 L342.3,62.7 L342.8,62.55 L343.3,62.38 L343.8,62.18 L344.3,61.96 L344.8,61.72 L345.3,61.46 L345.8,61.18 L346.3,60.86 L346.8,60.52 L347.3,60.15 L347.8,59.74 L348.3,59.29 L348.8,58.8 L349.3,58.27 L349.8,57.69 L350.3,57.06 L350.8,56.37 L351.3,55.63 L351.8,54.84 L352.3,54.01 L352.8,53.14 L353.3,52.25 L353.8,51.33 L354.3,50.41 L354.8,49.47 L355.3,48.55 L355.8,47.63 L356.3,46.73 L356.8,45.85 L357.3,45.01 L357.8,44.21 L358.3,43.46 L358.8,42.76 L359.3,42.1 L359.8,41.49 L360.3,40.91 L360.8,40.37 L361.3,39.87 L361.8,39.4 L362.3,38.96 L362.8,38.54 L363.3,38.15 L363.8,37.78 L364.3,37.42 L364.8,37.09 L365.3,36.76 L365.8,36.44 L366.3,36.13 L366.8,35.83 L367.3,35.54 L367.8,35.26 L368.3,34.98 L368.8,34.71 L369.3,34.45 L369.8,34.2 L370.3,33.96 L370.8,33.72 L371.3,33.49 L371.8,33.26 L372.3,33.05 L372.8,32.84 L373.3,32.63 L373.8,32.44 L374.3,32.25 L374.8,32.06 L375.3,31.89 L375.8,31.72 L376.3,31.55 L376.8,31.39 L377.3,31.24 L377.8,31.09 L378.3,30.95 L378.8,30.81 L379.3,30.68 L379.8,30.55 L380.3,30.43 L380.8,30.32 L381.3,30.21 L381.8,30.1 L382.3,30 L382.8,29.9 L383.3,29.81 L383.8,29.73 L384.3,29.64 L384.8,29.57 L385.3,29.5 L385.8,29.43 L386.3,29.37 L386.8,29.31 L387.3,29.25 L387.8,29.2 L388.3,29.16 L388.8,29.12 L389.3,29.09 L389.8,29.05 L390.3,29.03 L390.8,29.01 L391.3,28.99 L391.8,28.98 L392.3,28.97 L392.8,28.96 L393.3,28.96 L393.8,28.97 L394.3,28.98 L394.8,28.99 L395.3,29.01 L395.8,29.03 L396.3,29.05 L396.8,29.08 L397.3,29.11 L397.8,29.15 L398.3,29.19 L398.8,29.24 L399.3,29.29 L399.8,29.34 L400.3,29.4 L400.8,29.46 L401.3,29.52 L401.8,29.59 L402.3,29.66 L402.8,29.74 L403.3,29.82 L403.8,29.9 L404.3,29.99 L404.8,30.08 L405.3,30.18 L405.8,30.28 L406.3,30.38 L406.8,30.48 L407.3,30.59 L407.8,30.7 L408.3,30.82 L408.8,30.94 L409.3,31.06 L409.8,31.19 L410.3,31.31 L410.8,31.45 L411.3,31.58 L411.8,31.72 L412.3,31.86 L412.8,32.01 L413.3,32.16 L413.8,32.31 L414.3,32.46 L414.8,32.62 L415.3,32.78 L415.8,32.95 L416.3,33.11 L416.8,33.28 L417.3,33.46 L417.8,33.63 L418.3,33.81 L418.8,33.99 L419.3,34.18 L419.8,34.37 L420.3,34.57 L420.8,34.78 L421.3,34.99 L421.8,35.21 L422.3,35.43 L422.8,35.67 L423.3,35.91 L423.8,36.16 L424.3,36.43 L424.8,36.7 L425.3,36.98 L425.8,37.28 L426.3,37.59 L426.8,37.91 L427.3,38.25 L427.8,38.6 L428.3,38.96 L428.8,39.34 L429.3,39.73 L429.8,40.14 L430.3,40.57 L430.8,41.02 L431.3,41.48 L431.8,41.96 L432.3,42.46 L432.8,42.98 L433.3,43.52 L433.8,44.08 L434.3,44.66 L434.8,45.26 L435.3,45.89 L435.8,46.54 L436.3,47.21 L436.8,47.91 L437.3,48.63 L437.8,49.37 L438.3,50.14 L438.8,50.94 L439.3,51.77 L439.8,52.62 L440.3,53.5 L440.8,54.4 L441.3,55.34 L441.8,56.31 L442.3,57.31 L442.8,58.33 L443.3,59.39 L443.8,60.48 L444.3,61.61 L444.8,62.76 L445.3,63.95 L445.8,65.17 L446.3,66.43 L446.8,67.73 L447.3,69.06 L447.8,70.43 L448.3,71.84 L448.8,73.3 L449.3,74.8 L449.8,76.35 L450.3,77.95 L450.8,79.6 L451.3,81.3 L451.8,83.05 L452.3,84.87 L452.8,86.74 L453.3,88.67 L453.8,90.67 L454.3,92.72 L454.8,94.84 L455.3,97.01 L455.8,99.22 L456.3,101.45 L456.8,103.71 L457.3,105.96 L457.8,108.21 L458.3,110.45 L458.8,112.65 L459.3,114.83 L459.8,116.98 L460.3,119.1 L460.8,121.19 L461.3,123.26 L461.8,125.3 L462.3,127.31 L462.8,129.3 L463.3,131.27 L463.8,133.21 L464.3,135.12 L464.8,137.01 L465.3,138.88 L465.8,140.72 L466.3,142.55 L466.8,144.35 L467.3,146.12 L467.8,147.88 L468.3,149.61 L468.8,151.33 L469.3,153.02 L469.8,154.7 L470.3,156.35 L470.8,157.99 L471.3,159.61 L471.8,161.2 L472.3,162.78 L472.8,164.33 L473.3,165.85 L473.8,167.32 L474.3,168.74 L474.8,170.11 L475.3,171.4 L475.8,172.62 L476.3,173.76 L476.8,174.81 L477.3,175.76 L477.8,176.62 L478.3,177.4 L478.8,178.11 L479.3,178.75 L479.8,179.34 L480.3,179.89 L480.8,180.4 L481.3,180.87 L481.8,181.3 L482.3,181.71 L482.8,182.08 L483.3,182.43 L483.8,182.75 L484.3,183.05 L484.8,183.32 L485.3,183.57 L485.8,183.81 L486.3,184.03 L486.8,184.23 L487.3,184.42 L487.8,184.6 L488.3,184.78 L488.8,184.95 L489.3,185.11 L489.8,185.26 L490.3,185.41 L490.8,185.56 L491.3,185.69 L491.8,185.83 L492.3,185.95 L492.8,186.07 L493.3,186.19 L493.8,186.3 L494.3,186.41 L494.8,186.51 L495.3,186.6 L495.8,186.7 L496.3,186.78 L496.8,186.87 L497.3,186.94 L497.8,187.02 L498.3,187.09 L498.8,187.15 L499.3,187.21 L499.8,187.27 L500.3,187.33 L500.8,187.38 L501.3,187.42 L501.8,187.47 L502.3,187.51 L502.8,187.54 L503.3,187.58 L503.8,187.61 L504.3,187.63 L504.8,187.66 L505.3,187.68 L505.8,187.7 L506.3,187.72 L506.8,187.73 L507.3,187.75 L507.8,187.76 L508.3,187.76 L508.8,187.77 L509.3,187.77 L509.8,187.78 L510.3,187.78 L510.8,187.78 L511.3,187.78 L511.8,187.77 L512.3,187.77 L512.8,187.76 L513.3,187.76 L513.8,187.75 L514.3,187.74 L514.8,187.73 L515.3,187.72 L515.8,187.72 L516.3,187.71 L516.8,187.7 L517.3,187.69 L517.8,187.67 L518.3,187.66 L518.8,187.65 L519.3,187.64 L519.8,187.64 L520.3,187.63 L520.8,187.62 L521.3,187.61 L521.8,187.6 L522.3,187.6 L522.8,187.59 L523.3,187.59 L523.8,187.59 L524.3,187.59 L524.8,187.59 L525.3,187.59 L525.8,187.6 L526.3,187.6 L526.8,187.61 L527.3,187.62 L527.8,187.63 L528.3,187.64 L528.8,187.66 L529.3,187.68 L529.8,187.7 L530.3,187.72 L530.8,187.75 L531.3,187.78 L531.8,187.81 L532.3,187.85" fill="none" stroke="#ff0000" stroke-width="1.5" stroke-linejoin="round"/>
<path d="M313.6,57.9 a2.7,2.7 0 1,0 5.4,0 a2.7,2.7 0 1,0 -5.4,0ZM316.3,55.52 a2.7,2.7 0 1,0 5.4,0 a2.7,2.7 0 1,0 -5.4,0ZM319,54.98 a2.7,2.7 0 1,0 5.4,0 a2.7,2.7 0 1,0 -5.4,0ZM321.71,55.78 a2.7,2.7 0 1,0 5.4,0 a2.7,2.7 0 1,0 -5.4,0ZM324.41,57.43 a2.7,2.7 0 1,0 5.4,0 a2.7,2.7 0 1,0 -5.4,0ZM327.11,59.41 a2.7,2.7 0 1,0 5.4,0 a2.7,2.7 0 1,0 -5.4,0ZM329.81,61.24 a2.7,2.7 0 1,0 5.4,0 a2.7,2.7 0 1,0 -5.4,0ZM332.52,62.5 a2.7,2.7 0 1,0 5.4,0 a2.7,2.7 0 1,0 -5.4,0ZM335.22,63.1 a2.7,2.7 0 1,0 5.4,0 a2.7,2.7 0 1,0 -5.4,0ZM337.92,63.05 a2.7,2.7 0 1,0 5.4,0 a2.7,2.7 0 1,0 -5.4,0ZM340.62,62.37 a2.7,2.7 0 1,0 5.4,0 a2.7,2.7 0 1,0 -5.4,0ZM343.33,61.04 a2.7,2.7 0 1,0 5.4,0 a2.7,2.7 0 1,0 -5.4,0ZM346.03,58.87 a2.7,2.7 0 1,0 5.4,0 a2.7,2.7 0 1,0 -5.4,0ZM348.73,55.43 a2.7,2.7 0 1,0 5.4,0 a2.7,2.7 0 1,0 -5.4,0ZM351.44,50.71 a2.7,2.7 0 1,0 5.4,0 a2.7,2.7 0 1,0 -5.4,0ZM354.14,45.79 a2.7,2.7 0 1,0 5.4,0 a2.7,2.7 0 1,0 -5.4,0ZM356.84,41.8 a2.7,2.7 0 1,0 5.4,0 a2.7,2.7 0 1,0 -5.4,0ZM359.54,39.01 a2.7,2.7 0 1,0 5.4,0 a2.7,2.7 0 1,0 -5.4,0ZM362.25,36.99 a2.7,2.7 0 1,0 5.4,0 a2.7,2.7 0 1,0 -5.4,0ZM364.95,35.34 a2.7,2.7 0 1,0 5.4,0 a2.7,2.7 0 1,0 -5.4,0ZM367.65,33.93 a2.7,2.7 0 1,0 5.4,0 a2.7,2.7 0 1,0 -5.4,0ZM370.35,32.73 a2.7,2.7 0 1,0 5.4,0 a2.7,2.7 0 1,0 -5.4,0ZM373.06,31.73 a2.7,2.7 0 1,0 5.4,0 a2.7,2.7 0 1,0 -5.4,0ZM375.76,30.91 a2.7,2.7 0 1,0 5.4,0 a2.7,2.7 0 1,0 -5.4,0ZM378.46,30.24 a2.7,2.7 0 1,0 5.4,0 a2.7,2.7 0 1,0 -5.4,0ZM381.16,29.72 a2.7,2.7 0 1,0 5.4,0 a2.7,2.7 0 1,0 -5.4,0ZM383.87,29.33 a2.7,2.7 0 1,0 5.4,0 a2.7,2.7 0 1,0 -5.4,0ZM386.57,29.09 a2.7,2.7 0 1,0 5.4,0 a2.7,2.7 0 1,0 -5.4,0ZM389.27,28.97 a2.7,2.7 0 1,0 5.4,0 a2.7,2.7 0 1,0 -5.4,0ZM391.97,28.99 a2.7,2.7 0 1,0 5.4,0 a2.7,2.7 0 1,0 -5.4,0ZM394.68,29.12 a2.7,2.7 0 1,0 5.4,0 a2.7,2.7 0 1,0 -5.4,0ZM397.38,29.37 a2.7,2.7 0 1,0 5.4,0 a2.7,2.7 0 1,0 -5.4,0ZM400.08,29.74 a2.7,2.7 0 1,0 5.4,0 a2.7,2.7 0 1,0 -5.4,0ZM402.78,30.21 a2.7,2.7 0 1,0 5.4,0 a2.7,2.7 0 1,0 -5.4,0ZM405.49,30.79 a2.7,2.7 0 1,0 5.4,0 a2.7,2.7 0 1,0 -5.4,0ZM408.19,31.47 a2.7,2.7 0 1,0 5.4,0 a2.7,2.7 0 1,0 -5.4,0ZM410.89,32.25 a2.7,2.7 0 1,0 5.4,0 a2.7,2.7 0 1,0 -5.4,0ZM413.59,33.11 a2.7,2.7 0 1,0 5.4,0 a2.7,2.7 0 1,0 -5.4,0ZM416.3,34.07 a2.7,2.7 0 1,0 5.4,0 a2.7,2.7 0 1,0 -5.4,0ZM419,35.16 a2.7,2.7 0 1,0 5.4,0 a2.7,2.7 0 1,0 -5.4,0ZM421.7,36.48 a2.7,2.7 0 1,0 5.4,0 a2.7,2.7 0 1,0 -5.4,0ZM424.4,38.11 a2.7,2.7 0 1,0 5.4,0 a2.7,2.7 0 1,0 -5.4,0ZM427.11,40.15 a2.7,2.7 0 1,0 5.4,0 a2.7,2.7 0 1,0 -5.4,0ZM429.81,42.67 a2.7,2.7 0 1,0 5.4,0 a2.7,2.7 0 1,0 -5.4,0ZM432.51,45.78 a2.7,2.7 0 1,0 5.4,0 a2.7,2.7 0 1,0 -5.4,0ZM435.21,49.54 a2.7,2.7 0 1,0 5.4,0 a2.7,2.7 0 1,0 -5.4,0ZM437.92,54.07 a2.7,2.7 0 1,0 5.4,0 a2.7,2.7 0 1,0 -5.4,0ZM440.62,59.43 a2.7,2.7 0 1,0 5.4,0 a2.7,2.7 0 1,0 -5.4,0ZM443.32,65.72 a2.7,2.7 0 1,0 5.4,0 a2.7,2.7 0 1,0 -5.4,0ZM446.02,73.07 a2.7,2.7 0 1,0 5.4,0 a2.7,2.7 0 1,0 -5.4,0ZM448.73,81.73 a2.7,2.7 0 1,0 5.4,0 a2.7,2.7 0 1,0 -5.4,0ZM451.43,92.01 a2.7,2.7 0 1,0 5.4,0 a2.7,2.7 0 1,0 -5.4,0ZM454.13,103.84 a2.7,2.7 0 1,0 5.4,0 a2.7,2.7 0 1,0 -5.4,0ZM456.83,115.83 a2.7,2.7 0 1,0 5.4,0 a2.7,2.7 0 1,0 -5.4,0ZM459.54,127.05 a2.7,2.7 0 1,0 5.4,0 a2.7,2.7 0 1,0 -5.4,0ZM462.24,137.53 a2.7,2.7 0 1,0 5.4,0 a2.7,2.7 0 1,0 -5.4,0ZM464.94,147.32 a2.7,2.7 0 1,0 5.4,0 a2.7,2.7 0 1,0 -5.4,0ZM467.64,156.49 a2.7,2.7 0 1,0 5.4,0 a2.7,2.7 0 1,0 -5.4,0ZM470.35,165.08 a2.7,2.7 0 1,0 5.4,0 a2.7,2.7 0 1,0 -5.4,0ZM473.05,172.5 a2.7,2.7 0 1,0 5.4,0 a2.7,2.7 0 1,0 -5.4,0ZM475.75,177.62 a2.7,2.7 0 1,0 5.4,0 a2.7,2.7 0 1,0 -5.4,0ZM478.45,180.73 a2.7,2.7 0 1,0 5.4,0 a2.7,2.7 0 1,0 -5.4,0ZM481.16,182.78 a2.7,2.7 0 1,0 5.4,0 a2.7,2.7 0 1,0 -5.4,0ZM483.86,184.13 a2.7,2.7 0 1,0 5.4,0 a2.7,2.7 0 1,0 -5.4,0ZM486.56,185.09 a2.7,2.7 0 1,0 5.4,0 a2.7,2.7 0 1,0 -5.4,0ZM489.26,185.87 a2.7,2.7 0 1,0 5.4,0 a2.7,2.7 0 1,0 -5.4,0ZM491.96,186.48 a2.7,2.7 0 1,0 5.4,0 a2.7,2.7 0 1,0 -5.4,0ZM494.67,186.95 a2.7,2.7 0 1,0 5.4,0 a2.7,2.7 0 1,0 -5.4,0ZM497.37,187.3 a2.7,2.7 0 1,0 5.4,0 a2.7,2.7 0 1,0 -5.4,0ZM500.07,187.54 a2.7,2.7 0 1,0 5.4,0 a2.7,2.7 0 1,0 -5.4,0ZM502.78,187.69 a2.7,2.7 0 1,0 5.4,0 a2.7,2.7 0 1,0 -5.4,0ZM505.48,187.76 a2.7,2.7 0 1,0 5.4,0 a2.7,2.7 0 1,0 -5.4,0ZM508.18,187.78 a2.7,2.7 0 1,0 5.4,0 a2.7,2.7 0 1,0 -5.4,0ZM510.88,187.75 a2.7,2.7 0 1,0 5.4,0 a2.7,2.7 0 1,0 -5.4,0ZM513.58,187.71 a2.7,2.7 0 1,0 5.4,0 a2.7,2.7 0 1,0 -5.4,0ZM516.29,187.65 a2.7,2.7 0 1,0 5.4,0 a2.7,2.7 0 1,0 -5.4,0ZM518.99,187.61 a2.7,2.7 0 1,0 5.4,0 a2.7,2.7 0 1,0 -5.4,0ZM521.69,187.59 a2.7,2.7 0 1,0 5.4,0 a2.7,2.7 0 1,0 -5.4,0ZM524.39,187.61 a2.7,2.7 0 1,0 5.4,0 a2.7,2.7 0 1,0 -5.4,0ZM527.1,187.7 a2.7,2.7 0 1,0 5.4,0 a2.7,2.7 0 1,0 -5.4,0ZM529.8,187.86 a2.7,2.7 0 1,0 5.4,0 a2.7,2.7 0 1,0 -5.4,0Z" fill="#ff0000" stroke="none"/>
<path d="M316.3,53.31 L316.8,52.91 L317.3,52.55 L317.8,52.22 L318.3,51.94 L318.8,51.68 L319.3,51.47 L319.8,51.28 L320.3,51.13 L320.8,51.01 L321.3,50.92 L321.8,50.85 L322.3,50.82 L322.8,50.8 L323.3,50.81 L323.8,50.84 L324.3,50.89 L324.8,50.96 L325.3,51.05 L325.8,51.15 L326.3,51.27 L326.8,51.4 L327.3,51.54 L327.8,51.69 L328.3,51.85 L328.8,52.02 L329.3,52.19 L329.8,52.37 L330.3,52.55 L330.8,52.74 L331.3,52.92 L331.8,53.1 L332.3,53.28 L332.8,53.46 L333.3,53.63 L333.8,53.79 L334.3,53.94 L334.8,54.09 L335.3,54.22 L335.8,54.34 L336.3,54.44 L336.8,54.54 L337.3,54.61 L337.8,54.67 L338.3,54.71 L338.8,54.74 L339.3,54.74 L339.8,54.73 L340.3,54.7 L340.8,54.64 L341.3,54.57 L341.8,54.47 L342.3,54.35 L342.8,54.21 L343.3,54.04 L343.8,53.85 L344.3,53.64 L344.8,53.4 L345.3,53.14 L345.8,52.87 L346.3,52.57 L346.8,52.26 L347.3,51.93 L347.8,51.59 L348.3,51.24 L348.8,50.88 L349.3,50.5 L349.8,50.12 L350.3,49.73 L350.8,49.34 L351.3,48.94 L351.8,48.54 L352.3,48.13 L352.8,47.72 L353.3,47.31 L353.8,46.9 L354.3,46.49 L354.8,46.07 L355.3,45.65 L355.8,45.24 L356.3,44.82 L356.8,44.4 L357.3,43.99 L357.8,43.57 L358.3,43.16 L358.8,42.75 L359.3,42.34 L359.8,41.93 L360.3,41.53 L360.8,41.13 L361.3,40.73 L361.8,40.34 L362.3,39.95 L362.8,39.57 L363.3,39.19 L363.8,38.82 L364.3,38.45 L364.8,38.09 L365.3,37.74 L365.8,37.4 L366.3,37.06 L366.8,36.73 L367.3,36.41 L367.8,36.1 L368.3,35.8 L368.8,35.5 L369.3,35.22 L369.8,34.95 L370.3,34.69 L370.8,34.44 L371.3,34.2 L371.8,33.97 L372.3,33.76 L372.8,33.56 L373.3,33.37 L373.8,33.19 L374.3,33.03 L374.8,32.88 L375.3,32.74 L375.8,32.6 L376.3,32.48 L376.8,32.37 L377.3,32.27 L377.8,32.17 L378.3,32.09 L378.8,32.01 L379.3,31.94 L379.8,31.87 L380.3,31.81 L380.8,31.76 L381.3,31.72 L381.8,31.67 L382.3,31.64 L382.8,31.6 L383.3,31.57 L383.8,31.55 L384.3,31.53 L384.8,31.5 L385.3,31.48 L385.8,31.47 L386.3,31.45 L386.8,31.43 L387.3,31.42 L387.8,31.4 L388.3,31.39 L388.8,31.37 L389.3,31.35 L389.8,31.34 L390.3,31.32 L390.8,31.3 L391.3,31.29 L391.8,31.27 L392.3,31.26 L392.8,31.25 L393.3,31.23 L393.8,31.22 L394.3,31.21 L394.8,31.2 L395.3,31.19 L395.8,31.18 L396.3,31.17 L396.8,31.17 L397.3,31.17 L397.8,31.16 L398.3,31.16 L398.8,31.16 L399.3,31.16 L399.8,31.17 L400.3,31.17 L400.8,31.18 L401.3,31.19 L401.8,31.2 L402.3,31.22 L402.8,31.23 L403.3,31.25 L403.8,31.27 L404.3,31.3 L404.8,31.32 L405.3,31.35 L405.8,31.39 L406.3,31.42 L406.8,31.46 L407.3,31.5 L407.8,31.54 L408.3,31.59 L408.8,31.64 L409.3,31.7 L409.8,31.75 L410.3,31.81 L410.8,31.88 L411.3,31.95 L411.8,32.02 L412.3,32.09 L412.8,32.17 L413.3,32.26 L413.8,32.35 L414.3,32.44 L414.8,32.54 L415.3,32.64 L415.8,32.74 L416.3,32.85 L416.8,32.97 L417.3,33.09 L417.8,33.21 L418.3,33.34 L418.8,33.47 L419.3,33.61 L419.8,33.76 L420.3,33.9 L420.8,34.06 L421.3,34.22 L421.8,34.38 L422.3,34.56 L422.8,34.73 L423.3,34.91 L423.8,35.1 L424.3,35.3 L424.8,35.5 L425.3,35.7 L425.8,35.91 L426.3,36.13 L426.8,36.36 L427.3,36.59 L427.8,36.83 L428.3,37.07 L428.8,37.33 L429.3,37.59 L429.8,37.86 L430.3,38.14 L430.8,38.43 L431.3,38.73 L431.8,39.04 L432.3,39.37 L432.8,39.7 L433.3,40.05 L433.8,40.41 L434.3,40.78 L434.8,41.17 L435.3,41.57 L435.8,41.99 L436.3,42.42 L436.8,42.87 L437.3,43.34 L437.8,43.82 L438.3,44.32 L438.8,44.83 L439.3,45.37 L439.8,45.92 L440.3,46.49 L440.8,47.08 L441.3,47.7 L441.8,48.33 L442.3,48.98 L442.8,49.66 L443.3,50.36 L443.8,51.08 L444.3,51.82 L444.8,52.59 L445.3,53.38 L445.8,54.2 L446.3,55.05 L446.8,55.93 L447.3,56.85 L447.8,57.82 L448.3,58.83 L448.8,59.89 L449.3,61 L449.8,62.18 L450.3,63.41 L450.8,64.71 L451.3,66.08 L451.8,67.52 L452.3,69.04 L452.8,70.64 L453.3,72.32 L453.8,74.08 L454.3,75.91 L454.8,77.83 L455.3,79.81 L455.8,81.87 L456.3,84 L456.8,86.2 L457.3,88.46 L457.8,90.79 L458.3,93.16 L458.8,95.54 L459.3,97.91 L459.8,100.23 L460.3,102.5 L460.8,104.74 L461.3,106.98 L461.8,109.27 L462.3,111.65 L462.8,114.14 L463.3,116.73 L463.8,119.38 L464.3,122.03 L464.8,124.62 L465.3,127.11 L465.8,129.51 L466.3,131.81 L466.8,134.02 L467.3,136.14 L467.8,138.17 L468.3,140.13 L468.8,142.01 L469.3,143.82 L469.8,145.56 L470.3,147.24 L470.8,148.86 L471.3,150.43 L471.8,151.94 L472.3,153.41 L472.8,154.84 L473.3,156.23 L473.8,157.59 L474.3,158.95 L474.8,160.32 L475.3,161.73 L475.8,163.21 L476.3,164.77 L476.8,166.43 L477.3,168.1 L477.8,169.68 L478.3,171.1 L478.8,172.32 L479.3,173.37 L479.8,174.28 L480.3,175.05 L480.8,175.71 L481.3,176.27 L481.8,176.76 L482.3,177.19 L482.8,177.58 L483.3,177.95 L483.8,178.32 L484.3,178.67 L484.8,179.01 L485.3,179.35 L485.8,179.67 L486.3,179.99 L486.8,180.3 L487.3,180.6 L487.8,180.89 L488.3,181.17 L488.8,181.45 L489.3,181.71 L489.8,181.97 L490.3,182.22 L490.8,182.46 L491.3,182.7 L491.8,182.93 L492.3,183.14 L492.8,183.36 L493.3,183.56 L493.8,183.76 L494.3,183.95 L494.8,184.13 L495.3,184.31 L495.8,184.48 L496.3,184.64 L496.8,184.8 L497.3,184.95 L497.8,185.09 L498.3,185.23 L498.8,185.36 L499.3,185.49 L499.8,185.61 L500.3,185.73 L500.8,185.84 L501.3,185.94 L501.8,186.04 L502.3,186.14 L502.8,186.23 L503.3,186.31 L503.8,186.39 L504.3,186.47 L504.8,186.54 L505.3,186.61 L505.8,186.67 L506.3,186.73 L506.8,186.79 L507.3,186.84 L507.8,186.89 L508.3,186.93 L508.8,186.97 L509.3,187.01 L509.8,187.05 L510.3,187.08 L510.8,187.11 L511.3,187.14 L511.8,187.16 L512.3,187.18 L512.8,187.2 L513.3,187.22 L513.8,187.24 L514.3,187.25 L514.8,187.26 L515.3,187.27 L515.8,187.28 L516.3,187.29 L516.8,187.3 L517.3,187.3 L517.8,187.31 L518.3,187.31 L518.8,187.31 L519.3,187.31 L519.8,187.32 L520.3,187.32 L520.8,187.32 L521.3,187.32 L521.8,187.32 L522.3,187.32 L522.8,187.33 L523.3,187.33 L523.8,187.33 L524.3,187.34 L524.8,187.34 L525.3,187.35 L525.8,187.35 L526.3,187.36 L526.8,187.37 L527.3,187.38 L527.8,187.4 L528.3,187.41 L528.8,187.43 L529.3,187.45 L529.8,187.47 L530.3,187.49 L530.8,187.51 L531.3,187.54 L531.8,187.57 L532.3,187.61" fill="none" stroke="#008c00" stroke-width="1.5" stroke-linejoin="round"/>
<path d="M316.3,49.81 L317.16,52.12 L319.63,52.23 L317.7,53.77 L318.36,56.15 L316.3,54.78 L314.24,56.15 L314.9,53.77 L312.97,52.23 L315.44,52.12ZM319,48.09 L319.87,50.4 L322.33,50.51 L320.4,52.05 L321.06,54.42 L319,53.06 L316.95,54.42 L317.6,52.05 L315.67,50.51 L318.14,50.4ZM321.7,47.37 L322.57,49.68 L325.03,49.78 L323.1,51.32 L323.76,53.7 L321.7,52.34 L319.65,53.7 L320.31,51.32 L318.38,49.78 L320.84,49.68ZM324.41,47.4 L325.27,49.72 L327.74,49.82 L325.81,51.36 L326.46,53.74 L324.41,52.37 L322.35,53.74 L323.01,51.36 L321.08,49.82 L323.54,49.72ZM327.11,47.98 L327.97,50.29 L330.44,50.4 L328.51,51.94 L329.17,54.32 L327.11,52.95 L325.05,54.32 L325.71,51.94 L323.78,50.4 L326.25,50.29ZM329.81,48.88 L330.68,51.19 L333.14,51.3 L331.21,52.83 L331.87,55.21 L329.81,53.85 L327.76,55.21 L328.41,52.83 L326.48,51.3 L328.95,51.19ZM332.51,49.86 L333.38,52.17 L335.84,52.28 L333.91,53.81 L334.57,56.19 L332.51,54.83 L330.46,56.19 L331.12,53.81 L329.19,52.28 L331.65,52.17ZM335.22,50.7 L336.08,53.01 L338.55,53.12 L336.62,54.65 L337.27,57.03 L335.22,55.67 L333.16,57.03 L333.82,54.65 L331.89,53.12 L334.35,53.01ZM337.92,51.18 L338.78,53.49 L341.25,53.6 L339.32,55.14 L339.98,57.51 L337.92,56.15 L335.86,57.51 L336.52,55.14 L334.59,53.6 L337.06,53.49ZM340.62,51.16 L341.49,53.48 L343.95,53.58 L342.02,55.12 L342.68,57.5 L340.62,56.13 L338.57,57.5 L339.22,55.12 L337.29,53.58 L339.76,53.48ZM343.32,50.53 L344.19,52.85 L346.65,52.95 L344.72,54.49 L345.38,56.87 L343.32,55.5 L341.27,56.87 L341.93,54.49 L340,52.95 L342.46,52.85ZM346.03,49.24 L346.89,51.55 L349.36,51.65 L347.43,53.19 L348.08,55.57 L346.03,54.21 L343.97,55.57 L344.63,53.19 L342.7,51.65 L345.16,51.55ZM348.73,47.43 L349.59,49.74 L352.06,49.85 L350.13,51.38 L350.79,53.76 L348.73,52.4 L346.67,53.76 L347.33,51.38 L345.4,49.85 L347.87,49.74ZM351.43,45.33 L352.3,47.65 L354.76,47.75 L352.83,49.29 L353.49,51.67 L351.43,50.3 L349.38,51.67 L350.03,49.29 L348.1,47.75 L350.57,47.65ZM354.13,43.12 L355,45.43 L357.46,45.54 L355.53,47.08 L356.19,49.46 L354.13,48.09 L352.08,49.46 L352.74,47.08 L350.81,45.54 L353.27,45.43ZM356.84,40.87 L357.7,43.18 L360.17,43.29 L358.24,44.83 L358.89,47.2 L356.84,45.84 L354.78,47.2 L355.44,44.83 L353.51,43.29 L355.97,43.18ZM359.54,38.64 L360.4,40.95 L362.87,41.06 L360.94,42.6 L361.6,44.97 L359.54,43.61 L357.48,44.97 L358.14,42.6 L356.21,41.06 L358.68,40.95ZM362.24,36.49 L363.11,38.81 L365.57,38.91 L363.64,40.45 L364.3,42.83 L362.24,41.46 L360.19,42.83 L360.84,40.45 L358.91,38.91 L361.38,38.81ZM364.94,34.49 L365.81,36.8 L368.27,36.91 L366.34,38.45 L367,40.82 L364.94,39.46 L362.89,40.82 L363.55,38.45 L361.62,36.91 L364.08,36.8ZM367.65,32.69 L368.51,35 L370.98,35.11 L369.05,36.65 L369.7,39.02 L367.65,37.66 L365.59,39.02 L366.25,36.65 L364.32,35.11 L366.78,35ZM370.35,31.16 L371.21,33.47 L373.68,33.58 L371.75,35.12 L372.41,37.5 L370.35,36.13 L368.29,37.5 L368.95,35.12 L367.02,33.58 L369.49,33.47ZM373.05,29.96 L373.92,32.27 L376.38,32.38 L374.45,33.92 L375.11,36.29 L373.05,34.93 L371,36.29 L371.65,33.92 L369.72,32.38 L372.19,32.27ZM375.75,29.12 L376.62,31.43 L379.08,31.53 L377.15,33.07 L377.81,35.45 L375.75,34.09 L373.7,35.45 L374.36,33.07 L372.43,31.53 L374.89,31.43ZM378.46,28.56 L379.32,30.87 L381.79,30.98 L379.86,32.51 L380.51,34.89 L378.46,33.53 L376.4,34.89 L377.06,32.51 L375.13,30.98 L377.59,30.87ZM381.16,28.23 L382.02,30.54 L384.49,30.65 L382.56,32.18 L383.22,34.56 L381.16,33.2 L379.1,34.56 L379.76,32.18 L377.83,30.65 L380.3,30.54ZM383.86,28.05 L384.73,30.36 L387.19,30.46 L385.26,32 L385.92,34.38 L383.86,33.02 L381.81,34.38 L382.46,32 L380.53,30.46 L383,30.36ZM386.56,27.94 L387.43,30.25 L389.89,30.36 L387.96,31.9 L388.62,34.27 L386.56,32.91 L384.51,34.27 L385.17,31.9 L383.24,30.36 L385.7,30.25ZM389.27,27.85 L390.13,30.16 L392.6,30.27 L390.67,31.81 L391.32,34.19 L389.27,32.82 L387.21,34.19 L387.87,31.81 L385.94,30.27 L388.4,30.16ZM391.97,27.77 L392.83,30.08 L395.3,30.19 L393.37,31.72 L394.03,34.1 L391.97,32.74 L389.91,34.1 L390.57,31.72 L388.64,30.19 L391.11,30.08ZM394.67,27.7 L395.54,30.01 L398,30.12 L396.07,31.66 L396.73,34.03 L394.67,32.67 L392.62,34.03 L393.27,31.66 L391.34,30.12 L393.81,30.01ZM397.38,27.66 L398.24,29.98 L400.7,30.08 L398.77,31.62 L399.43,34 L397.38,32.63 L395.32,34 L395.98,31.62 L394.05,30.08 L396.51,29.98ZM400.08,27.67 L400.94,29.98 L403.41,30.09 L401.48,31.62 L402.13,34 L400.08,32.64 L398.02,34 L398.68,31.62 L396.75,30.09 L399.21,29.98ZM402.78,27.73 L403.64,30.04 L406.11,30.15 L404.18,31.69 L404.84,34.06 L402.78,32.7 L400.72,34.06 L401.38,31.69 L399.45,30.15 L401.92,30.04ZM405.48,27.87 L406.35,30.18 L408.81,30.28 L406.88,31.82 L407.54,34.2 L405.48,32.84 L403.43,34.2 L404.08,31.82 L402.15,30.28 L404.62,30.18ZM408.19,28.08 L409.05,30.39 L411.51,30.5 L409.58,32.03 L410.24,34.41 L408.19,33.05 L406.13,34.41 L406.79,32.03 L404.86,30.5 L407.32,30.39ZM410.89,28.39 L411.75,30.7 L414.22,30.81 L412.29,32.34 L412.94,34.72 L410.89,33.36 L408.83,34.72 L409.49,32.34 L407.56,30.81 L410.02,30.7ZM413.59,28.81 L414.45,31.12 L416.92,31.23 L414.99,32.76 L415.65,35.14 L413.59,33.78 L411.53,35.14 L412.19,32.76 L410.26,31.23 L412.73,31.12ZM416.29,29.35 L417.16,31.66 L419.62,31.77 L417.69,33.3 L418.35,35.68 L416.29,34.32 L414.24,35.68 L414.89,33.3 L412.96,31.77 L415.43,31.66ZM419,30.03 L419.86,32.34 L422.32,32.44 L420.39,33.98 L421.05,36.36 L419,35 L416.94,36.36 L417.6,33.98 L415.67,32.44 L418.13,32.34ZM421.7,30.85 L422.56,33.16 L425.03,33.27 L423.1,34.8 L423.75,37.18 L421.7,35.82 L419.64,37.18 L420.3,34.8 L418.37,33.27 L420.83,33.16ZM424.4,31.84 L425.26,34.15 L427.73,34.25 L425.8,35.79 L426.46,38.17 L424.4,36.81 L422.34,38.17 L423,35.79 L421.07,34.25 L423.54,34.15ZM427.1,33 L427.97,35.31 L430.43,35.41 L428.5,36.95 L429.16,39.33 L427.1,37.97 L425.05,39.33 L425.7,36.95 L423.77,35.41 L426.24,35.31ZM429.81,34.36 L430.67,36.67 L433.13,36.78 L431.2,38.32 L431.86,40.69 L429.81,39.33 L427.75,40.69 L428.41,38.32 L426.48,36.78 L428.94,36.67ZM432.51,36 L433.37,38.31 L435.84,38.42 L433.91,39.96 L434.56,42.34 L432.51,40.97 L430.45,42.34 L431.11,39.96 L429.18,38.42 L431.64,38.31ZM435.21,38 L436.07,40.31 L438.54,40.42 L436.61,41.95 L437.27,44.33 L435.21,42.97 L433.15,44.33 L433.81,41.95 L431.88,40.42 L434.35,40.31ZM437.91,40.43 L438.78,42.74 L441.24,42.85 L439.31,44.38 L439.97,46.76 L437.91,45.4 L435.86,46.76 L436.51,44.38 L434.58,42.85 L437.05,42.74ZM440.62,43.36 L441.48,45.67 L443.94,45.78 L442.01,47.32 L442.67,49.69 L440.62,48.33 L438.56,49.69 L439.22,47.32 L437.29,45.78 L439.75,45.67ZM443.32,46.88 L444.18,49.19 L446.65,49.3 L444.72,50.84 L445.37,53.21 L443.32,51.85 L441.26,53.21 L441.92,50.84 L439.99,49.3 L442.45,49.19ZM446.02,51.07 L446.88,53.38 L449.35,53.49 L447.42,55.02 L448.08,57.4 L446.02,56.04 L443.96,57.4 L444.62,55.02 L442.69,53.49 L445.16,53.38ZM448.72,56.22 L449.59,58.53 L452.05,58.64 L450.12,60.18 L450.78,62.55 L448.72,61.19 L446.67,62.55 L447.32,60.18 L445.39,58.64 L447.86,58.53ZM451.43,62.93 L452.29,65.24 L454.75,65.35 L452.82,66.89 L453.48,69.26 L451.43,67.9 L449.37,69.26 L450.03,66.89 L448.1,65.35 L450.56,65.24ZM454.13,71.77 L454.99,74.08 L457.46,74.19 L455.53,75.72 L456.18,78.1 L454.13,76.74 L452.07,78.1 L452.73,75.72 L450.8,74.19 L453.26,74.08ZM456.83,82.83 L457.69,85.14 L460.16,85.25 L458.23,86.79 L458.89,89.16 L456.83,87.8 L454.77,89.16 L455.43,86.79 L453.5,85.25 L455.97,85.14ZM459.53,95.49 L460.4,97.81 L462.86,97.91 L460.93,99.45 L461.59,101.83 L459.53,100.46 L457.48,101.83 L458.13,99.45 L456.2,97.91 L458.67,97.81ZM462.24,107.83 L463.1,110.14 L465.56,110.25 L463.63,111.79 L464.29,114.16 L462.24,112.8 L460.18,114.16 L460.84,111.79 L458.91,110.25 L461.37,110.14ZM464.94,121.81 L465.8,124.13 L468.27,124.23 L466.34,125.77 L466.99,128.15 L464.94,126.78 L462.88,128.15 L463.54,125.77 L461.61,124.23 L464.07,124.13ZM467.64,134.03 L468.5,136.34 L470.97,136.45 L469.04,137.98 L469.7,140.36 L467.64,139 L465.58,140.36 L466.24,137.98 L464.31,136.45 L466.78,136.34ZM470.34,143.88 L471.21,146.19 L473.67,146.3 L471.74,147.83 L472.4,150.21 L470.34,148.85 L468.29,150.21 L468.94,147.83 L467.01,146.3 L469.48,146.19ZM473.05,152.03 L473.91,154.34 L476.37,154.44 L474.44,155.98 L475.1,158.36 L473.05,157 L470.99,158.36 L471.65,155.98 L469.72,154.44 L472.18,154.34ZM475.75,159.55 L476.61,161.86 L479.08,161.97 L477.15,163.5 L477.8,165.88 L475.75,164.52 L473.69,165.88 L474.35,163.5 L472.42,161.97 L474.88,161.86ZM478.45,167.98 L479.31,170.29 L481.78,170.4 L479.85,171.94 L480.51,174.31 L478.45,172.95 L476.39,174.31 L477.05,171.94 L475.12,170.4 L477.59,170.29ZM481.15,172.62 L482.02,174.93 L484.48,175.03 L482.55,176.57 L483.21,178.95 L481.15,177.59 L479.1,178.95 L479.75,176.57 L477.82,175.03 L480.29,174.93ZM483.86,174.85 L484.72,177.17 L487.18,177.27 L485.25,178.81 L485.91,181.19 L483.86,179.82 L481.8,181.19 L482.46,178.81 L480.53,177.27 L482.99,177.17ZM486.56,176.65 L487.42,178.96 L489.89,179.07 L487.96,180.6 L488.61,182.98 L486.56,181.62 L484.5,182.98 L485.16,180.6 L483.23,179.07 L485.69,178.96ZM489.26,178.19 L490.12,180.5 L492.59,180.61 L490.66,182.15 L491.32,184.52 L489.26,183.16 L487.2,184.52 L487.86,182.15 L485.93,180.61 L488.4,180.5ZM491.96,179.5 L492.83,181.81 L495.29,181.92 L493.36,183.45 L494.02,185.83 L491.96,184.47 L489.91,185.83 L490.56,183.45 L488.63,181.92 L491.1,181.81ZM494.66,180.58 L495.53,182.89 L497.99,183 L496.06,184.54 L496.72,186.91 L494.66,185.55 L492.61,186.91 L493.27,184.54 L491.34,183 L493.8,182.89ZM497.37,181.47 L498.23,183.78 L500.7,183.89 L498.77,185.42 L499.42,187.8 L497.37,186.44 L495.31,187.8 L495.97,185.42 L494.04,183.89 L496.5,183.78ZM500.07,182.17 L500.93,184.48 L503.4,184.59 L501.47,186.13 L502.13,188.51 L500.07,187.14 L498.01,188.51 L498.67,186.13 L496.74,184.59 L499.21,184.48ZM502.77,182.72 L503.64,185.03 L506.1,185.14 L504.17,186.68 L504.83,189.05 L502.77,187.69 L500.72,189.05 L501.37,186.68 L499.44,185.14 L501.91,185.03ZM505.48,183.13 L506.34,185.44 L508.8,185.55 L506.87,187.08 L507.53,189.46 L505.48,188.1 L503.42,189.46 L504.08,187.08 L502.15,185.55 L504.61,185.44ZM508.18,183.42 L509.04,185.73 L511.51,185.84 L509.58,187.37 L510.23,189.75 L508.18,188.39 L506.12,189.75 L506.78,187.37 L504.85,185.84 L507.31,185.73ZM510.88,183.61 L511.74,185.92 L514.21,186.03 L512.28,187.57 L512.94,189.94 L510.88,188.58 L508.82,189.94 L509.48,187.57 L507.55,186.03 L510.02,185.92ZM513.58,183.73 L514.45,186.04 L516.91,186.15 L514.98,187.68 L515.64,190.06 L513.58,188.7 L511.53,190.06 L512.18,187.68 L510.25,186.15 L512.72,186.04ZM516.28,183.79 L517.15,186.1 L519.61,186.21 L517.68,187.74 L518.34,190.12 L516.28,188.76 L514.23,190.12 L514.89,187.74 L512.96,186.21 L515.42,186.1ZM518.99,183.81 L519.85,186.12 L522.32,186.23 L520.39,187.77 L521.04,190.14 L518.99,188.78 L516.93,190.14 L517.59,187.77 L515.66,186.23 L518.12,186.12ZM521.69,183.82 L522.55,186.13 L525.02,186.24 L523.09,187.78 L523.75,190.15 L521.69,188.79 L519.63,190.15 L520.29,187.78 L518.36,186.24 L520.83,186.13ZM524.39,183.84 L525.26,186.15 L527.72,186.26 L525.79,187.79 L526.45,190.17 L524.39,188.81 L522.34,190.17 L522.99,187.79 L521.06,186.26 L523.53,186.15ZM527.1,183.88 L527.96,186.19 L530.42,186.3 L528.49,187.83 L529.15,190.21 L527.1,188.85 L525.04,190.21 L525.7,187.83 L523.77,186.3 L526.23,186.19ZM529.8,183.97 L530.66,186.28 L533.13,186.38 L531.2,187.92 L531.85,190.3 L529.8,188.94 L527.74,190.3 L528.4,187.92 L526.47,186.38 L528.93,186.28ZM532.5,184.12 L533.36,186.43 L535.83,186.54 L533.9,188.08 L534.56,190.45 L532.5,189.09 L530.44,190.45 L531.1,188.08 L529.17,186.54 L531.64,186.43Z" fill="#008c00" stroke="none"/>
</g>
<path d="M322.3,124 L343.2,124" fill="none" stroke="#008c00" stroke-width="1.4" stroke-linejoin="round"/>
<path d="M332.7,120.4 L333.59,122.78 L336.12,122.89 L334.14,124.47 L334.82,126.91 L332.7,125.51 L330.58,126.91 L331.26,124.47 L329.28,122.89 L331.81,122.78Z" fill="#008c00" stroke="none"/>
<text x="345" y="127.3" font-size="9.2" fill="#322c3c" stroke="#322c3c" stroke-width="0.08">TiO<tspan font-size="5.8" dy="3.0">2</tspan><tspan dy="-3.0">-DSL|D149</tspan></text>
<path d="M322.3,137.6 L343.2,137.6" fill="none" stroke="#ff0000" stroke-width="1.4" stroke-linejoin="round"/>
<path d="M329.9,137.6 a2.8,2.8 0 1,0 5.6,0 a2.8,2.8 0 1,0 -5.6,0Z" fill="#ff0000" stroke="none"/>
<text x="345" y="140.9" font-size="9.2" fill="#322c3c" stroke="#322c3c" stroke-width="0.08">TiO<tspan font-size="5.8" dy="3.0">2</tspan><tspan dy="-3.0">-HP25|D149</tspan></text>
<path d="M322.3,151.5 L343.2,151.5" fill="none" stroke="#000000" stroke-width="1.4" stroke-linejoin="round"/>
<path d="M330.45,149.25 h4.5 v4.5 h-4.5Z" fill="#000000" stroke="none"/>
<text x="345" y="154.8" font-size="9.2" fill="#322c3c" stroke="#322c3c" stroke-width="0.08">TiO<tspan font-size="5.8" dy="3.0">2</tspan><tspan dy="-3.0">-P25|D149</tspan></text>
<rect x="49.5" y="225.5" width="221" height="172.4" fill="none" stroke="#404040" stroke-width="1.2"/>
<path d="M46,397.9 H49.5M46,378.75 H49.5M46,359.6 H49.5M46,340.45 H49.5M46,321.3 H49.5M46,302.15 H49.5M46,283 H49.5M46,263.85 H49.5M46,244.7 H49.5M46,225.55 H49.5" stroke="#404040" stroke-width="1.1" fill="none"/>
<path d="M47.5,388.32 H49.5M47.5,369.17 H49.5M47.5,350.02 H49.5M47.5,330.88 H49.5M47.5,311.72 H49.5M47.5,292.57 H49.5M47.5,273.42 H49.5M47.5,254.27 H49.5M47.5,235.12 H49.5" stroke="#404040" stroke-width="1.1" fill="none"/>
<path d="M49.5,397.9 V400.9M73.95,397.9 V400.9M98.4,397.9 V400.9M122.85,397.9 V400.9M147.3,397.9 V400.9M171.75,397.9 V400.9M196.2,397.9 V400.9M220.65,397.9 V400.9M245.1,397.9 V400.9M269.55,397.9 V400.9" stroke="#404040" stroke-width="1.1" fill="none"/>
<path d="M61.73,397.9 V399.9M86.17,397.9 V399.9M110.62,397.9 V399.9M135.07,397.9 V399.9M159.52,397.9 V399.9M183.97,397.9 V399.9M208.42,397.9 V399.9M232.88,397.9 V399.9M257.32,397.9 V399.9" stroke="#404040" stroke-width="1.1" fill="none"/>
<text transform="translate(43.4,401.2) scale(1.12,1.0)" font-size="10.3" text-anchor="end" fill="#25232e" font-weight="normal" font-style="normal"  stroke="#25232e" stroke-width="0.2">0</text>
<text transform="translate(49.5,411.3) scale(1.12,1.0)" font-size="10.3" text-anchor="middle" fill="#25232e" font-weight="normal" font-style="normal"  stroke="#25232e" stroke-width="0.2">0</text>
<text transform="translate(43.4,382.05) scale(1.12,1.0)" font-size="10.3" text-anchor="end" fill="#25232e" font-weight="normal" font-style="normal"  stroke="#25232e" stroke-width="0.2">5</text>
<text transform="translate(73.95,411.3) scale(1.12,1.0)" font-size="10.3" text-anchor="middle" fill="#25232e" font-weight="normal" font-style="normal"  stroke="#25232e" stroke-width="0.2">5</text>
<text transform="translate(43.4,362.9) scale(1.12,1.0)" font-size="10.3" text-anchor="end" fill="#25232e" font-weight="normal" font-style="normal"  stroke="#25232e" stroke-width="0.2">10</text>
<text transform="translate(98.4,411.3) scale(1.12,1.0)" font-size="10.3" text-anchor="middle" fill="#25232e" font-weight="normal" font-style="normal"  stroke="#25232e" stroke-width="0.2">10</text>
<text transform="translate(43.4,343.75) scale(1.12,1.0)" font-size="10.3" text-anchor="end" fill="#25232e" font-weight="normal" font-style="normal"  stroke="#25232e" stroke-width="0.2">15</text>
<text transform="translate(122.85,411.3) scale(1.12,1.0)" font-size="10.3" text-anchor="middle" fill="#25232e" font-weight="normal" font-style="normal"  stroke="#25232e" stroke-width="0.2">15</text>
<text transform="translate(43.4,324.6) scale(1.12,1.0)" font-size="10.3" text-anchor="end" fill="#25232e" font-weight="normal" font-style="normal"  stroke="#25232e" stroke-width="0.2">20</text>
<text transform="translate(147.3,411.3) scale(1.12,1.0)" font-size="10.3" text-anchor="middle" fill="#25232e" font-weight="normal" font-style="normal"  stroke="#25232e" stroke-width="0.2">20</text>
<text transform="translate(43.4,305.45) scale(1.12,1.0)" font-size="10.3" text-anchor="end" fill="#25232e" font-weight="normal" font-style="normal"  stroke="#25232e" stroke-width="0.2">25</text>
<text transform="translate(171.75,411.3) scale(1.12,1.0)" font-size="10.3" text-anchor="middle" fill="#25232e" font-weight="normal" font-style="normal"  stroke="#25232e" stroke-width="0.2">25</text>
<text transform="translate(43.4,286.3) scale(1.12,1.0)" font-size="10.3" text-anchor="end" fill="#25232e" font-weight="normal" font-style="normal"  stroke="#25232e" stroke-width="0.2">30</text>
<text transform="translate(196.2,411.3) scale(1.12,1.0)" font-size="10.3" text-anchor="middle" fill="#25232e" font-weight="normal" font-style="normal"  stroke="#25232e" stroke-width="0.2">30</text>
<text transform="translate(43.4,267.15) scale(1.12,1.0)" font-size="10.3" text-anchor="end" fill="#25232e" font-weight="normal" font-style="normal"  stroke="#25232e" stroke-width="0.2">35</text>
<text transform="translate(220.65,411.3) scale(1.12,1.0)" font-size="10.3" text-anchor="middle" fill="#25232e" font-weight="normal" font-style="normal"  stroke="#25232e" stroke-width="0.2">35</text>
<text transform="translate(43.4,248) scale(1.12,1.0)" font-size="10.3" text-anchor="end" fill="#25232e" font-weight="normal" font-style="normal"  stroke="#25232e" stroke-width="0.2">40</text>
<text transform="translate(245.1,411.3) scale(1.12,1.0)" font-size="10.3" text-anchor="middle" fill="#25232e" font-weight="normal" font-style="normal"  stroke="#25232e" stroke-width="0.2">40</text>
<text transform="translate(43.4,228.85) scale(1.12,1.0)" font-size="10.3" text-anchor="end" fill="#25232e" font-weight="normal" font-style="normal"  stroke="#25232e" stroke-width="0.2">45</text>
<text transform="translate(269.55,411.3) scale(1.12,1.0)" font-size="10.3" text-anchor="middle" fill="#25232e" font-weight="normal" font-style="normal"  stroke="#25232e" stroke-width="0.2">45</text>
<text x="159.5" y="426.6" font-size="11.5" text-anchor="middle" fill="#25232e" stroke="#25232e" stroke-width="0.2">Z' (&#937;/cm<tspan font-size="7.5" dy="-4.5">2</tspan><tspan dy="4.5">)</tspan></text>
<text transform="translate(21.2,320) rotate(-90)" font-size="11.5" text-anchor="middle" fill="#3a2a2a" stroke="#3a2a2a" stroke-width="0.2">-Z" (&#937;/cm<tspan font-size="8" dy="-5.5">2</tspan><tspan dy="5.5">)</tspan></text>
<text transform="translate(12.9,230.6) scale(0.78,1.03)" font-size="17.5" font-weight="bold" fill="#111" stroke="#111" stroke-width="0.35">c</text>
<g clip-path="url(#cc)">
<path d="M76,397.9 L76.03,397.45 L76.12,397 L76.26,396.56 L76.46,396.14 L76.72,395.73 L77.02,395.36 L77.37,395.01 L77.76,394.7 L78.19,394.42 L78.66,394.19 L79.15,394 L79.66,393.85 L80.19,393.76 L80.73,393.71 L81.27,393.71 L81.81,393.76 L82.34,393.85 L82.85,394 L83.34,394.19 L83.81,394.42 L84.24,394.7 L84.63,395.01 L84.98,395.36 L85.28,395.73 L85.54,396.14 L85.74,396.56 L85.88,397 L85.97,397.45 L86,397.9 L84.25,393.06 L84.37,392.71 L84.49,392.36 L84.61,392.01 L84.74,391.67 L84.87,391.32 L85,390.98 L85.13,390.63 L85.26,390.29 L85.39,389.95 L85.52,389.61 L85.66,389.27 L85.8,388.94 L85.94,388.6 L86.08,388.27 L86.22,387.93 L86.36,387.6 L86.5,387.27 L86.65,386.94 L86.8,386.61 L86.95,386.29 L87.1,385.96 L87.25,385.63 L87.4,385.31 L87.55,384.99 L87.71,384.67 L87.87,384.35 L88.02,384.03 L88.18,383.71 L88.34,383.39 L88.51,383.08 L88.67,382.77 L88.83,382.45 L89,382.14 L89.17,381.83 L89.34,381.52 L89.51,381.21 L89.68,380.91 L89.85,380.6 L90.02,380.3 L90.2,379.99 L90.38,379.69 L90.55,379.39 L90.73,379.09 L90.91,378.79 L91.1,378.5 L91.28,378.2 L91.46,377.91 L91.65,377.61 L91.83,377.32 L92.02,377.03 L92.21,376.74 L92.4,376.45 L92.59,376.16 L92.79,375.88 L92.98,375.59 L93.18,375.31 L93.37,375.02 L93.57,374.74 L93.77,374.46 L93.97,374.18 L94.17,373.91 L94.37,373.63 L94.58,373.35 L94.78,373.08 L94.99,372.81 L95.19,372.53 L95.4,372.26 L95.61,371.99 L95.82,371.73 L96.03,371.46 L96.25,371.19 L96.46,370.93 L96.68,370.66 L96.89,370.4 L97.11,370.14 L97.33,369.88 L97.55,369.62 L97.77,369.36 L97.99,369.11 L98.21,368.85 L98.44,368.6 L98.66,368.35 L98.89,368.09 L99.12,367.84 L99.34,367.6 L99.57,367.35 L99.8,367.1 L100.04,366.86 L100.27,366.61 L100.5,366.37 L100.74,366.13 L100.97,365.88 L101.21,365.65 L101.45,365.41 L101.69,365.17 L101.93,364.93 L102.17,364.7 L102.41,364.47 L102.65,364.23 L102.89,364 L103.14,363.77 L103.39,363.54 L103.63,363.31 L103.88,363.09 L104.13,362.86 L104.38,362.64 L104.63,362.42 L104.88,362.19 L105.13,361.97 L105.39,361.75 L105.64,361.54 L105.9,361.32 L106.15,361.1 L106.41,360.89 L106.67,360.68 L106.93,360.46 L107.19,360.25 L107.45,360.04 L107.71,359.83 L107.97,359.63 L108.24,359.42 L108.5,359.22 L108.77,359.01 L109.03,358.81 L109.3,358.61 L109.57,358.41 L109.84,358.21 L110.11,358.01 L110.38,357.81 L110.65,357.62 L110.92,357.42 L111.19,357.23 L111.47,357.04 L111.74,356.85 L112.02,356.66 L112.29,356.47 L112.57,356.28 L112.85,356.1 L113.13,355.91 L113.41,355.73 L113.69,355.54 L113.97,355.36 L114.25,355.18 L114.53,355 L114.82,354.83 L115.1,354.65 L115.39,354.47 L115.67,354.3 L115.96,354.13 L116.25,353.95 L116.53,353.78 L116.82,353.61 L117.11,353.45 L117.4,353.28 L117.69,353.11 L117.99,352.95 L118.28,352.78 L118.57,352.62 L118.86,352.46 L119.16,352.3 L119.45,352.14 L119.75,351.98 L120.05,351.83 L120.34,351.67 L120.64,351.52 L120.94,351.36 L121.24,351.21 L121.54,351.06 L121.84,350.91 L122.14,350.76 L122.44,350.62 L122.75,350.47 L123.05,350.33 L123.35,350.18 L123.66,350.04 L123.96,349.9 L124.27,349.76 L124.58,349.62 L124.88,349.48 L125.19,349.35 L125.5,349.21 L125.81,349.08 L126.12,348.94 L126.43,348.81 L126.74,348.68 L127.05,348.55 L127.36,348.42 L127.67,348.29 L127.98,348.17 L128.3,348.04 L128.61,347.92 L128.93,347.8 L129.24,347.68 L129.56,347.56 L129.87,347.44 L130.19,347.32 L130.51,347.2 L130.82,347.09 L131.14,346.97 L131.46,346.86 L131.78,346.75 L132.1,346.64 L132.42,346.53 L132.74,346.42 L133.06,346.31 L133.38,346.21 L133.7,346.1 L134.03,346 L134.35,345.89 L134.67,345.79 L135,345.69 L135.32,345.59 L135.64,345.5 L135.97,345.4 L136.29,345.3 L136.62,345.21 L136.95,345.12 L137.27,345.02 L137.6,344.93 L137.93,344.84 L138.26,344.75 L138.59,344.67 L138.91,344.58 L139.24,344.5 L139.57,344.41 L139.9,344.33 L140.23,344.25 L140.56,344.17 L140.89,344.09 L141.23,344.01 L141.56,343.93 L141.89,343.86 L142.22,343.78 L142.55,343.71 L142.89,343.64 L143.22,343.57 L143.55,343.5 L143.89,343.43 L144.22,343.36 L144.56,343.29 L144.89,343.23 L145.23,343.16 L145.56,343.1 L145.9,343.04 L146.24,342.98 L146.57,342.92 L146.91,342.86 L147.25,342.8 L147.58,342.75 L147.92,342.69 L148.26,342.64 L148.6,342.59 L148.93,342.53 L149.27,342.48 L149.61,342.43 L149.95,342.39 L150.29,342.34 L150.63,342.29 L150.97,342.25 L151.31,342.21 L151.65,342.16 L151.99,342.12 L152.33,342.08 L152.67,342.05 L153.01,342.01 L153.35,341.97 L153.69,341.94 L154.03,341.9 L154.37,341.87 L154.71,341.84 L155.06,341.81 L155.4,341.78 L155.74,341.75 L156.08,341.72 L156.42,341.7 L156.77,341.67 L157.11,341.65 L157.45,341.63 L157.79,341.6 L158.14,341.58 L158.48,341.56 L158.82,341.55 L159.17,341.53 L159.51,341.51 L159.85,341.5 L160.2,341.49 L160.54,341.47 L160.88,341.46 L161.23,341.45 L161.57,341.45 L161.91,341.44 L162.26,341.43 L162.6,341.43 L162.95,341.42 L163.29,341.42 L163.63,341.42 L163.98,341.42 L164.32,341.42 L164.66,341.42 L165.01,341.42 L165.35,341.43 L165.7,341.43 L166.04,341.44 L166.38,341.44 L166.73,341.45 L167.07,341.46 L167.42,341.47 L167.76,341.49 L168.1,341.5 L168.45,341.51 L168.79,341.53 L169.14,341.55 L169.48,341.56 L169.82,341.58 L170.17,341.6 L170.51,341.62 L170.85,341.65 L171.2,341.67 L171.54,341.69 L171.88,341.72 L172.23,341.75 L172.57,341.77 L172.91,341.8 L173.25,341.83 L173.6,341.87 L173.94,341.9 L174.28,341.93 L174.62,341.97 L174.97,342 L175.31,342.04 L175.65,342.08 L175.99,342.12 L176.33,342.16 L176.67,342.2 L177.02,342.24 L177.36,342.29 L177.7,342.33 L178.04,342.38 L178.38,342.43 L178.72,342.47 L179.06,342.52 L179.4,342.58 L179.74,342.63 L180.08,342.68 L180.42,342.74 L180.76,342.79 L181.1,342.85 L181.43,342.9 L181.77,342.96 L182.11,343.02 L182.45,343.08 L182.79,343.15 L183.12,343.21 L183.46,343.28 L183.8,343.34 L184.14,343.41 L184.47,343.48 L184.81,343.54 L185.14,343.62 L185.48,343.69 L185.81,343.76 L186.15,343.83 L186.48,343.91 L186.82,343.98 L187.15,344.06 L187.49,344.14 L187.82,344.22 L188.15,344.3 L188.49,344.38 L188.82,344.46 L189.15,344.55 L189.48,344.63 L189.81,344.72 L190.14,344.8 L190.47,344.89 L190.81,344.98 L191.13,345.07 L191.46,345.17 L191.79,345.26 L192.12,345.35 L192.45,345.45 L192.78,345.54 L193.11,345.64 L193.43,345.74 L193.76,345.84 L194.09,345.94 L194.41,346.04 L194.74,346.15 L195.06,346.25 L195.39,346.35 L195.71,346.46 L196.04,346.57 L196.36,346.68 L196.68,346.79 L197.01,346.9 L197.33,347.01 L197.65,347.12 L197.97,347.24 L198.29,347.35 L198.61,347.47 L198.93,347.59 L199.25,347.71 L199.57,347.83 L199.89,347.95 L200.2,348.07 L200.52,348.19 L200.84,348.32 L201.15,348.44 L201.47,348.57 L201.78,348.7 L202.1,348.83 L202.41,348.96 L202.73,349.09 L203.04,349.22 L203.35,349.36 L203.66,349.49 L203.97,349.63 L204.28,349.76 L204.59,349.9 L204.9,350.04 L205.21,350.18 L205.52,350.32 L205.83,350.46 L206.13,350.61 L206.44,350.75 L206.75,350.9 L207.05,351.05 L207.36,351.19 L207.66,351.34 L207.96,351.49 L208.27,351.64 L208.57,351.8 L208.87,351.95 L209.17,352.11 L209.47,352.26 L209.77,352.42 L210.07,352.58 L210.37,352.74 L210.66,352.9 L210.96,353.06 L211.26,353.22 L211.55,353.38 L211.85,353.55 L212.14,353.72 L212.43,353.88 L212.73,354.05 L213.02,354.22 L213.31,354.39 L213.6,354.56 L213.89,354.74 L214.18,354.91 L214.47,355.08 L214.75,355.26 L215.04,355.44 L215.33,355.62 L215.61,355.79 L215.9,355.98 L216.18,356.16 L216.46,356.34 L216.74,356.52 L217.03,356.71 L217.31,356.89 L217.59,357.08 L217.86,357.27 L218.14,357.46 L218.42,357.65 L218.7,357.84 L218.97,358.03 L219.25,358.23 L219.52,358.42 L219.79,358.62 L220.07,358.82 L220.34,359.02 L220.61,359.22 L220.88,359.42 L221.15,359.62 L221.42,359.82 L221.68,360.02 L221.95,360.23 L222.21,360.44 L222.48,360.64 L222.74,360.85 L223.01,361.06 L223.27,361.27 L223.53,361.48 L223.79,361.7 L224.05,361.91 L224.31,362.12 L224.56,362.34 L224.82,362.56 L225.08,362.78 L225.33,363 L225.58,363.22 L225.84,363.44 L226.09,363.66 L226.34,363.88 L226.59,364.11 L226.84,364.34 L227.09,364.56 L227.33,364.79 L227.58,365.02 L227.82,365.25 L228.07,365.48 L228.31,365.71 L228.55,365.95 L228.79,366.18 L229.03,366.42 L229.27,366.66 L229.51,366.89 L229.75,367.13 L229.98,367.37 L230.22,367.62 L230.45,367.86 L230.68,368.1 L230.91,368.35 L231.15,368.59 L231.37,368.84 L231.6,369.09 L231.83,369.34 L232.06,369.59 L232.28,369.84 L232.51,370.09 L232.73,370.35 L232.95,370.6 L233.17,370.86 L233.39,371.11 L233.61,371.37 L233.83,371.63 L234.04,371.89 L234.26,372.15 L234.47,372.41 L234.69,372.68 L234.9,372.94 L235.11,373.21 L235.32,373.48 L235.53,373.74 L235.73,374.01 L235.94,374.28 L236.15,374.55 L236.35,374.83 L236.55,375.1 L236.75,375.37 L236.95,375.65 L237.15,375.93 L237.35,376.2 L237.55,376.48 L237.74,376.76 L237.94,377.04 L238.13,377.33 L238.32,377.61 L238.51,377.89 L238.7,378.18 L238.89,378.47 L239.08,378.75 L239.26,379.04 L239.45,379.33 L239.63,379.62 L239.81,379.92 L239.99,380.21 L240.17,380.5 L240.35,380.8 L240.53,381.09 L240.7,381.39 L240.88,381.69 L241.05,381.99 L241.22,382.29 L241.39,382.59 L241.56,382.9 L241.73,383.2 L241.89,383.51 L242.06,383.81 L242.22,384.12 L242.38,384.43 L242.54,384.74 L242.7,385.05 L242.86,385.36 L243.02,385.67 L243.17,385.99 L243.33,386.3 L243.48,386.62 L243.63,386.93 L243.78,387.25 L243.93,387.57 L244.08,387.89 L244.23,388.21 L244.37,388.54 L244.51,388.86 L244.65,389.18 L244.79,389.51 L244.93,389.84 L245.07,390.16 L245.21,390.49 L245.34,390.82 L245.47,391.16 L245.61,391.49 L245.74,391.82 L245.86,392.16 L245.99,392.49 L246.12,392.83" fill="none" stroke="#000000" stroke-width="1.5" stroke-linejoin="round"/>
<path d="M73.62,395.08 h4.8 v4.8 h-4.8ZM74.68,392.9 h4.8 v4.8 h-4.8ZM76.96,391.53 h4.8 v4.8 h-4.8ZM79.76,391.41 h4.8 v4.8 h-4.8ZM82.2,392.58 h4.8 v4.8 h-4.8ZM83.5,394.67 h4.8 v4.8 h-4.8ZM81.85,390.66 h4.8 v4.8 h-4.8ZM83.33,386.7 h4.8 v4.8 h-4.8ZM85.42,382.05 h4.8 v4.8 h-4.8ZM88.31,376.72 h4.8 v4.8 h-4.8ZM92.3,370.79 h4.8 v4.8 h-4.8ZM97.64,364.45 h4.8 v4.8 h-4.8ZM104.6,358 h4.8 v4.8 h-4.8ZM113.32,351.87 h4.8 v4.8 h-4.8ZM123.76,346.52 h4.8 v4.8 h-4.8ZM135.71,342.39 h4.8 v4.8 h-4.8ZM148.76,339.83 h4.8 v4.8 h-4.8ZM162.38,339.02 h4.8 v4.8 h-4.8ZM175.99,340.03 h4.8 v4.8 h-4.8ZM189,342.75 h4.8 v4.8 h-4.8ZM200.93,346.95 h4.8 v4.8 h-4.8ZM211.39,352.27 h4.8 v4.8 h-4.8ZM220.17,358.31 h4.8 v4.8 h-4.8ZM227.25,364.63 h4.8 v4.8 h-4.8ZM232.74,370.85 h4.8 v4.8 h-4.8ZM236.88,376.67 h4.8 v4.8 h-4.8ZM239.92,381.91 h4.8 v4.8 h-4.8ZM242.13,386.5 h4.8 v4.8 h-4.8ZM243.72,390.43 h4.8 v4.8 h-4.8Z" fill="#000000" stroke="none"/>
<path d="M75,397.9 L75.03,397.36 L75.13,396.83 L75.3,396.3 L75.53,395.8 L75.82,395.32 L76.17,394.87 L76.58,394.46 L77.03,394.09 L77.52,393.76 L78.06,393.48 L78.62,393.26 L79.21,393.08 L79.82,392.97 L80.44,392.91 L81.06,392.91 L81.68,392.97 L82.29,393.08 L82.88,393.26 L83.44,393.48 L83.98,393.76 L84.47,394.09 L84.92,394.46 L85.33,394.87 L85.68,395.32 L85.97,395.8 L86.2,396.3 L86.37,396.83 L86.47,397.36 L86.5,397.9 L84.65,393.71 L84.79,393.45 L84.93,393.18 L85.08,392.92 L85.22,392.65 L85.36,392.39 L85.51,392.13 L85.65,391.87 L85.8,391.6 L85.95,391.34 L86.1,391.08 L86.25,390.82 L86.4,390.56 L86.55,390.3 L86.7,390.04 L86.85,389.79 L87.01,389.53 L87.16,389.27 L87.32,389.02 L87.48,388.76 L87.63,388.51 L87.79,388.25 L87.95,388 L88.11,387.74 L88.27,387.49 L88.44,387.24 L88.6,386.98 L88.76,386.73 L88.93,386.48 L89.09,386.23 L89.26,385.98 L89.43,385.73 L89.6,385.48 L89.77,385.24 L89.94,384.99 L90.11,384.74 L90.28,384.5 L90.45,384.25 L90.62,384.01 L90.8,383.76 L90.97,383.52 L91.15,383.27 L91.33,383.03 L91.5,382.79 L91.68,382.55 L91.86,382.31 L92.04,382.07 L92.22,381.83 L92.41,381.59 L92.59,381.35 L92.77,381.11 L92.96,380.87 L93.14,380.64 L93.33,380.4 L93.51,380.17 L93.7,379.93 L93.89,379.7 L94.08,379.46 L94.27,379.23 L94.46,379 L94.65,378.77 L94.84,378.54 L95.04,378.31 L95.23,378.08 L95.42,377.85 L95.62,377.62 L95.81,377.39 L96.01,377.16 L96.21,376.94 L96.41,376.71 L96.61,376.49 L96.81,376.26 L97.01,376.04 L97.21,375.82 L97.41,375.59 L97.61,375.37 L97.82,375.15 L98.02,374.93 L98.23,374.71 L98.43,374.49 L98.64,374.27 L98.85,374.06 L99.05,373.84 L99.26,373.62 L99.47,373.41 L99.68,373.19 L99.89,372.98 L100.11,372.77 L100.32,372.55 L100.53,372.34 L100.74,372.13 L100.96,371.92 L101.17,371.71 L101.39,371.5 L101.61,371.29 L101.82,371.09 L102.04,370.88 L102.26,370.67 L102.48,370.47 L102.7,370.26 L102.92,370.06 L103.14,369.86 L103.36,369.65 L103.59,369.45 L103.81,369.25 L104.03,369.05 L104.26,368.85 L104.48,368.65 L104.71,368.46 L104.93,368.26 L105.16,368.06 L105.39,367.87 L105.62,367.67 L105.85,367.48 L106.08,367.28 L106.31,367.09 L106.54,366.9 L106.77,366.71 L107,366.52 L107.23,366.33 L107.47,366.14 L107.7,365.95 L107.94,365.77 L108.17,365.58 L108.41,365.39 L108.64,365.21 L108.88,365.03 L109.12,364.84 L109.36,364.66 L109.59,364.48 L109.83,364.3 L110.07,364.12 L110.31,363.94 L110.56,363.76 L110.8,363.59 L111.04,363.41 L111.28,363.23 L111.53,363.06 L111.77,362.88 L112.01,362.71 L112.26,362.54 L112.51,362.37 L112.75,362.2 L113,362.03 L113.25,361.86 L113.49,361.69 L113.74,361.52 L113.99,361.36 L114.24,361.19 L114.49,361.03 L114.74,360.86 L114.99,360.7 L115.24,360.54 L115.49,360.38 L115.75,360.22 L116,360.06 L116.25,359.9 L116.51,359.74 L116.76,359.58 L117.02,359.43 L117.27,359.27 L117.53,359.12 L117.79,358.97 L118.04,358.81 L118.3,358.66 L118.56,358.51 L118.82,358.36 L119.08,358.21 L119.34,358.07 L119.6,357.92 L119.86,357.77 L120.12,357.63 L120.38,357.48 L120.64,357.34 L120.9,357.2 L121.17,357.06 L121.43,356.92 L121.69,356.78 L121.96,356.64 L122.22,356.5 L122.49,356.36 L122.75,356.23 L123.02,356.09 L123.28,355.96 L123.55,355.83 L123.82,355.69 L124.09,355.56 L124.35,355.43 L124.62,355.3 L124.89,355.17 L125.16,355.05 L125.43,354.92 L125.7,354.8 L125.97,354.67 L126.24,354.55 L126.51,354.43 L126.78,354.3 L127.06,354.18 L127.33,354.06 L127.6,353.95 L127.88,353.83 L128.15,353.71 L128.42,353.6 L128.7,353.48 L128.97,353.37 L129.25,353.26 L129.52,353.14 L129.8,353.03 L130.08,352.92 L130.35,352.81 L130.63,352.71 L130.91,352.6 L131.18,352.5 L131.46,352.39 L131.74,352.29 L132.02,352.18 L132.3,352.08 L132.58,351.98 L132.86,351.88 L133.14,351.79 L133.42,351.69 L133.7,351.59 L133.98,351.5 L134.26,351.4 L134.54,351.31 L134.82,351.22 L135.11,351.13 L135.39,351.04 L135.67,350.95 L135.96,350.86 L136.24,350.77 L136.52,350.69 L136.81,350.6 L137.09,350.52 L137.38,350.44 L137.66,350.35 L137.95,350.27 L138.23,350.19 L138.52,350.12 L138.8,350.04 L139.09,349.96 L139.38,349.89 L139.66,349.81 L139.95,349.74 L140.24,349.67 L140.53,349.6 L140.81,349.53 L141.1,349.46 L141.39,349.39 L141.68,349.33 L141.97,349.26 L142.26,349.2 L142.55,349.13 L142.84,349.07 L143.13,349.01 L143.42,348.95 L143.71,348.89 L144,348.84 L144.29,348.78 L144.58,348.72 L144.87,348.67 L145.16,348.62 L145.45,348.57 L145.74,348.52 L146.04,348.47 L146.33,348.42 L146.62,348.37 L146.91,348.32 L147.21,348.28 L147.5,348.23 L147.79,348.19 L148.08,348.15 L148.38,348.11 L148.67,348.07 L148.97,348.03 L149.26,347.99 L149.55,347.96 L149.85,347.92 L150.14,347.89 L150.44,347.86 L150.73,347.82 L151.02,347.79 L151.32,347.76 L151.61,347.74 L151.91,347.71 L152.2,347.68 L152.5,347.66 L152.79,347.63 L153.09,347.61 L153.38,347.59 L153.68,347.57 L153.98,347.55 L154.27,347.53 L154.57,347.51 L154.86,347.49 L155.16,347.48 L155.45,347.47 L155.75,347.45 L156.05,347.44 L156.34,347.43 L156.64,347.42 L156.93,347.41 L157.23,347.4 L157.53,347.4 L157.82,347.39 L158.12,347.39 L158.41,347.38 L158.71,347.38 L159.01,347.38 L159.3,347.38 L159.6,347.38 L159.9,347.38 L160.19,347.39 L160.49,347.39 L160.78,347.4 L161.08,347.4 L161.38,347.41 L161.67,347.42 L161.97,347.43 L162.26,347.44 L162.56,347.45 L162.86,347.47 L163.15,347.48 L163.45,347.49 L163.74,347.51 L164.04,347.53 L164.34,347.55 L164.63,347.57 L164.93,347.59 L165.22,347.61 L165.52,347.63 L165.81,347.66 L166.11,347.68 L166.4,347.71 L166.7,347.73 L166.99,347.76 L167.29,347.79 L167.58,347.82 L167.88,347.85 L168.17,347.89 L168.46,347.92 L168.76,347.95 L169.05,347.99 L169.35,348.03 L169.64,348.06 L169.93,348.1 L170.23,348.14 L170.52,348.18 L170.81,348.23 L171.11,348.27 L171.4,348.31 L171.69,348.36 L171.99,348.41 L172.28,348.45 L172.57,348.5 L172.86,348.55 L173.15,348.6 L173.44,348.65 L173.74,348.71 L174.03,348.76 L174.32,348.82 L174.61,348.87 L174.9,348.93 L175.19,348.99 L175.48,349.05 L175.77,349.11 L176.06,349.17 L176.35,349.23 L176.64,349.29 L176.93,349.36 L177.22,349.42 L177.5,349.49 L177.79,349.56 L178.08,349.63 L178.37,349.7 L178.65,349.77 L178.94,349.84 L179.23,349.91 L179.51,349.99 L179.8,350.06 L180.09,350.14 L180.37,350.22 L180.66,350.29 L180.94,350.37 L181.23,350.45 L181.51,350.54 L181.8,350.62 L182.08,350.7 L182.36,350.79 L182.65,350.87 L182.93,350.96 L183.21,351.05 L183.49,351.14 L183.78,351.23 L184.06,351.32 L184.34,351.41 L184.62,351.5 L184.9,351.6 L185.18,351.69 L185.46,351.79 L185.74,351.88 L186.02,351.98 L186.3,352.08 L186.57,352.18 L186.85,352.28 L187.13,352.39 L187.41,352.49 L187.68,352.59 L187.96,352.7 L188.23,352.81 L188.51,352.91 L188.78,353.02 L189.06,353.13 L189.33,353.24 L189.61,353.35 L189.88,353.47 L190.15,353.58 L190.43,353.7 L190.7,353.81 L190.97,353.93 L191.24,354.05 L191.51,354.17 L191.78,354.29 L192.05,354.41 L192.32,354.53 L192.59,354.65 L192.86,354.78 L193.12,354.9 L193.39,355.03 L193.66,355.16 L193.92,355.28 L194.19,355.41 L194.45,355.54 L194.72,355.68 L194.98,355.81 L195.25,355.94 L195.51,356.08 L195.77,356.21 L196.03,356.35 L196.3,356.49 L196.56,356.62 L196.82,356.76 L197.08,356.91 L197.34,357.05 L197.6,357.19 L197.85,357.33 L198.11,357.48 L198.37,357.62 L198.63,357.77 L198.88,357.92 L199.14,358.07 L199.39,358.22 L199.65,358.37 L199.9,358.52 L200.15,358.67 L200.4,358.83 L200.66,358.98 L200.91,359.14 L201.16,359.3 L201.41,359.45 L201.66,359.61 L201.91,359.77 L202.15,359.93 L202.4,360.1 L202.65,360.26 L202.9,360.42 L203.14,360.59 L203.39,360.75 L203.63,360.92 L203.87,361.09 L204.12,361.26 L204.36,361.43 L204.6,361.6 L204.84,361.77 L205.08,361.95 L205.32,362.12 L205.56,362.3 L205.8,362.47 L206.04,362.65 L206.27,362.83 L206.51,363.01 L206.74,363.19 L206.98,363.37 L207.21,363.55 L207.45,363.73 L207.68,363.92 L207.91,364.1 L208.14,364.29 L208.37,364.48 L208.6,364.67 L208.83,364.85 L209.06,365.04 L209.29,365.24 L209.51,365.43 L209.74,365.62 L209.96,365.82 L210.19,366.01 L210.41,366.21 L210.63,366.41 L210.86,366.6 L211.08,366.8 L211.3,367 L211.52,367.2 L211.74,367.41 L211.95,367.61 L212.17,367.81 L212.39,368.02 L212.6,368.23 L212.82,368.43 L213.03,368.64 L213.25,368.85 L213.46,369.06 L213.67,369.27 L213.88,369.48 L214.09,369.7 L214.3,369.91 L214.51,370.13 L214.71,370.34 L214.92,370.56 L215.13,370.78 L215.33,371 L215.53,371.22 L215.74,371.44 L215.94,371.66 L216.14,371.88 L216.34,372.11 L216.54,372.33 L216.74,372.56 L216.94,372.79 L217.13,373.01 L217.33,373.24 L217.52,373.47 L217.72,373.7 L217.91,373.94 L218.1,374.17 L218.29,374.4 L218.48,374.64 L218.67,374.87 L218.86,375.11 L219.05,375.35 L219.23,375.59 L219.42,375.83 L219.6,376.07 L219.79,376.31 L219.97,376.55 L220.15,376.8 L220.33,377.04 L220.51,377.29 L220.69,377.53 L220.87,377.78 L221.05,378.03 L221.22,378.28 L221.4,378.53 L221.57,378.78 L221.74,379.03 L221.91,379.29 L222.08,379.54 L222.25,379.79 L222.42,380.05 L222.59,380.31 L222.76,380.57 L222.92,380.83 L223.09,381.09 L223.25,381.35 L223.41,381.61 L223.57,381.87 L223.73,382.14 L223.89,382.4 L224.05,382.67 L224.21,382.93 L224.36,383.2 L224.52,383.47 L224.67,383.74 L224.83,384.01 L224.98,384.28 L225.13,384.55 L225.28,384.83 L225.43,385.1 L225.57,385.38 L225.72,385.66 L225.86,385.93 L226.01,386.21 L226.15,386.49 L226.29,386.77 L226.43,387.05 L226.57,387.33 L226.71,387.62 L226.85,387.9 L226.98,388.19 L227.12,388.47 L227.25,388.76 L227.38,389.05 L227.51,389.34 L227.64,389.63 L227.77,389.92 L227.9,390.21 L228.03,390.5 L228.15,390.79 L228.28,391.09 L228.4,391.38" fill="none" stroke="#ff0000" stroke-width="1.5" stroke-linejoin="round"/>
<path d="M72.28,397.4 a2.75,2.75 0 1,0 5.5,0 a2.75,2.75 0 1,0 -5.5,0ZM72.97,395.48 a2.75,2.75 0 1,0 5.5,0 a2.75,2.75 0 1,0 -5.5,0ZM74.48,393.95 a2.75,2.75 0 1,0 5.5,0 a2.75,2.75 0 1,0 -5.5,0ZM76.56,393.06 a2.75,2.75 0 1,0 5.5,0 a2.75,2.75 0 1,0 -5.5,0ZM78.88,392.96 a2.75,2.75 0 1,0 5.5,0 a2.75,2.75 0 1,0 -5.5,0ZM81.05,393.66 a2.75,2.75 0 1,0 5.5,0 a2.75,2.75 0 1,0 -5.5,0ZM82.73,395.05 a2.75,2.75 0 1,0 5.5,0 a2.75,2.75 0 1,0 -5.5,0ZM83.64,396.91 a2.75,2.75 0 1,0 5.5,0 a2.75,2.75 0 1,0 -5.5,0ZM81.9,393.71 a2.75,2.75 0 1,0 5.5,0 a2.75,2.75 0 1,0 -5.5,0ZM83.8,390.3 a2.75,2.75 0 1,0 5.5,0 a2.75,2.75 0 1,0 -5.5,0ZM86.3,386.29 a2.75,2.75 0 1,0 5.5,0 a2.75,2.75 0 1,0 -5.5,0ZM89.59,381.67 a2.75,2.75 0 1,0 5.5,0 a2.75,2.75 0 1,0 -5.5,0ZM93.86,376.48 a2.75,2.75 0 1,0 5.5,0 a2.75,2.75 0 1,0 -5.5,0ZM99.32,370.85 a2.75,2.75 0 1,0 5.5,0 a2.75,2.75 0 1,0 -5.5,0ZM106.15,365.01 a2.75,2.75 0 1,0 5.5,0 a2.75,2.75 0 1,0 -5.5,0ZM114.47,359.31 a2.75,2.75 0 1,0 5.5,0 a2.75,2.75 0 1,0 -5.5,0ZM124.29,354.19 a2.75,2.75 0 1,0 5.5,0 a2.75,2.75 0 1,0 -5.5,0ZM135.46,350.2 a2.75,2.75 0 1,0 5.5,0 a2.75,2.75 0 1,0 -5.5,0ZM147.6,347.87 a2.75,2.75 0 1,0 5.5,0 a2.75,2.75 0 1,0 -5.5,0ZM160.14,347.47 a2.75,2.75 0 1,0 5.5,0 a2.75,2.75 0 1,0 -5.5,0ZM172.41,348.98 a2.75,2.75 0 1,0 5.5,0 a2.75,2.75 0 1,0 -5.5,0ZM183.83,352.18 a2.75,2.75 0 1,0 5.5,0 a2.75,2.75 0 1,0 -5.5,0ZM193.94,356.7 a2.75,2.75 0 1,0 5.5,0 a2.75,2.75 0 1,0 -5.5,0ZM202.48,362.06 a2.75,2.75 0 1,0 5.5,0 a2.75,2.75 0 1,0 -5.5,0ZM209.4,367.79 a2.75,2.75 0 1,0 5.5,0 a2.75,2.75 0 1,0 -5.5,0ZM214.78,373.48 a2.75,2.75 0 1,0 5.5,0 a2.75,2.75 0 1,0 -5.5,0ZM218.85,378.83 a2.75,2.75 0 1,0 5.5,0 a2.75,2.75 0 1,0 -5.5,0ZM221.86,383.64 a2.75,2.75 0 1,0 5.5,0 a2.75,2.75 0 1,0 -5.5,0ZM224.06,387.82 a2.75,2.75 0 1,0 5.5,0 a2.75,2.75 0 1,0 -5.5,0ZM225.65,391.38 a2.75,2.75 0 1,0 5.5,0 a2.75,2.75 0 1,0 -5.5,0Z" fill="#ff0000" stroke="none"/>
<path d="M75.5,397.9 L75.54,397.36 L75.65,396.83 L75.83,396.3 L76.08,395.8 L76.39,395.32 L76.77,394.87 L77.21,394.46 L77.7,394.09 L78.24,393.76 L78.82,393.48 L79.44,393.26 L80.08,393.08 L80.74,392.97 L81.41,392.91 L82.09,392.91 L82.76,392.97 L83.42,393.08 L84.06,393.26 L84.68,393.48 L85.26,393.76 L85.8,394.09 L86.29,394.46 L86.73,394.87 L87.11,395.32 L87.42,395.8 L87.67,396.3 L87.85,396.83 L87.96,397.36 L88,397.9 L87.29,395.24 L87.39,395 L87.48,394.77 L87.58,394.54 L87.68,394.3 L87.78,394.07 L87.88,393.84 L87.98,393.61 L88.08,393.38 L88.19,393.15 L88.29,392.93 L88.39,392.7 L88.5,392.47 L88.61,392.25 L88.72,392.02 L88.83,391.8 L88.94,391.58 L89.05,391.36 L89.16,391.14 L89.27,390.92 L89.38,390.7 L89.5,390.48 L89.61,390.27 L89.73,390.05 L89.85,389.83 L89.97,389.62 L90.09,389.41 L90.21,389.19 L90.33,388.98 L90.45,388.77 L90.57,388.56 L90.7,388.35 L90.82,388.15 L90.95,387.94 L91.07,387.73 L91.2,387.53 L91.33,387.32 L91.46,387.12 L91.59,386.92 L91.72,386.71 L91.85,386.51 L91.98,386.31 L92.11,386.11 L92.25,385.91 L92.38,385.72 L92.52,385.52 L92.66,385.32 L92.79,385.13 L92.93,384.94 L93.07,384.74 L93.21,384.55 L93.35,384.36 L93.49,384.17 L93.64,383.98 L93.78,383.79 L93.92,383.6 L94.07,383.41 L94.21,383.23 L94.36,383.04 L94.51,382.86 L94.66,382.67 L94.81,382.49 L94.96,382.31 L95.11,382.13 L95.26,381.95 L95.41,381.77 L95.56,381.59 L95.72,381.41 L95.87,381.23 L96.03,381.06 L96.18,380.88 L96.34,380.71 L96.5,380.53 L96.65,380.36 L96.81,380.19 L96.97,380.02 L97.13,379.85 L97.29,379.68 L97.46,379.51 L97.62,379.34 L97.78,379.18 L97.95,379.01 L98.11,378.84 L98.28,378.68 L98.44,378.52 L98.61,378.35 L98.78,378.19 L98.95,378.03 L99.11,377.87 L99.28,377.71 L99.45,377.55 L99.63,377.4 L99.8,377.24 L99.97,377.09 L100.14,376.93 L100.32,376.78 L100.49,376.62 L100.67,376.47 L100.84,376.32 L101.02,376.17 L101.2,376.02 L101.38,375.87 L101.55,375.72 L101.73,375.57 L101.91,375.43 L102.09,375.28 L102.28,375.14 L102.46,374.99 L102.64,374.85 L102.82,374.71 L103.01,374.57 L103.19,374.42 L103.38,374.28 L103.56,374.15 L103.75,374.01 L103.93,373.87 L104.12,373.73 L104.31,373.6 L104.5,373.46 L104.69,373.33 L104.88,373.2 L105.07,373.06 L105.26,372.93 L105.45,372.8 L105.64,372.67 L105.84,372.54 L106.03,372.41 L106.22,372.29 L106.42,372.16 L106.61,372.03 L106.81,371.91 L107.01,371.78 L107.2,371.66 L107.4,371.54 L107.6,371.42 L107.8,371.3 L108,371.18 L108.2,371.06 L108.4,370.94 L108.6,370.82 L108.8,370.7 L109,370.59 L109.2,370.47 L109.4,370.36 L109.61,370.24 L109.81,370.13 L110.02,370.02 L110.22,369.91 L110.43,369.8 L110.63,369.69 L110.84,369.58 L111.04,369.47 L111.25,369.36 L111.46,369.26 L111.67,369.15 L111.88,369.05 L112.09,368.94 L112.3,368.84 L112.51,368.74 L112.72,368.64 L112.93,368.54 L113.14,368.44 L113.35,368.34 L113.56,368.24 L113.78,368.14 L113.99,368.05 L114.21,367.95 L114.42,367.86 L114.63,367.76 L114.85,367.67 L115.07,367.57 L115.28,367.48 L115.5,367.39 L115.72,367.3 L115.93,367.21 L116.15,367.12 L116.37,367.04 L116.59,366.95 L116.81,366.86 L117.03,366.78 L117.25,366.69 L117.47,366.61 L117.69,366.53 L117.91,366.44 L118.13,366.36 L118.35,366.28 L118.57,366.2 L118.8,366.12 L119.02,366.04 L119.24,365.97 L119.47,365.89 L119.69,365.81 L119.91,365.74 L120.14,365.67 L120.36,365.59 L120.59,365.52 L120.82,365.45 L121.04,365.38 L121.27,365.31 L121.5,365.24 L121.72,365.17 L121.95,365.1 L122.18,365.03 L122.41,364.96 L122.63,364.9 L122.86,364.83 L123.09,364.77 L123.32,364.71 L123.55,364.64 L123.78,364.58 L124.01,364.52 L124.24,364.46 L124.47,364.4 L124.71,364.34 L124.94,364.29 L125.17,364.23 L125.4,364.17 L125.63,364.12 L125.87,364.06 L126.1,364.01 L126.33,363.95 L126.57,363.9 L126.8,363.85 L127.03,363.8 L127.27,363.75 L127.5,363.7 L127.74,363.65 L127.97,363.6 L128.21,363.56 L128.44,363.51 L128.68,363.46 L128.91,363.42 L129.15,363.38 L129.39,363.33 L129.62,363.29 L129.86,363.25 L130.1,363.21 L130.34,363.17 L130.57,363.13 L130.81,363.09 L131.05,363.05 L131.29,363.01 L131.53,362.98 L131.76,362.94 L132,362.91 L132.24,362.87 L132.48,362.84 L132.72,362.81 L132.96,362.78 L133.2,362.74 L133.44,362.71 L133.68,362.68 L133.92,362.66 L134.16,362.63 L134.4,362.6 L134.64,362.57 L134.88,362.55 L135.12,362.52 L135.36,362.5 L135.61,362.48 L135.85,362.45 L136.09,362.43 L136.33,362.41 L136.57,362.39 L136.81,362.37 L137.06,362.35 L137.3,362.33 L137.54,362.31 L137.78,362.3 L138.02,362.28 L138.27,362.27 L138.51,362.25 L138.75,362.24 L139,362.23 L139.24,362.21 L139.48,362.2 L139.73,362.19 L139.97,362.18 L140.21,362.17 L140.46,362.16 L140.7,362.16 L140.94,362.15 L141.19,362.14 L141.43,362.14 L141.67,362.13 L141.92,362.13 L142.16,362.12 L142.4,362.12 L142.65,362.12 L142.89,362.12 L143.14,362.12 L143.38,362.12 L143.63,362.12 L143.87,362.12 L144.11,362.12 L144.36,362.13 L144.6,362.13 L144.85,362.14 L145.09,362.14 L145.33,362.15 L145.58,362.15 L145.82,362.16 L146.07,362.17 L146.31,362.18 L146.56,362.19 L146.8,362.2 L147.04,362.21 L147.29,362.22 L147.53,362.24 L147.78,362.25 L148.02,362.26 L148.27,362.28 L148.51,362.3 L148.75,362.31 L149,362.33 L149.24,362.35 L149.49,362.37 L149.73,362.38 L149.98,362.4 L150.22,362.43 L150.46,362.45 L150.71,362.47 L150.95,362.49 L151.19,362.52 L151.44,362.54 L151.68,362.57 L151.93,362.59 L152.17,362.62 L152.41,362.65 L152.66,362.67 L152.9,362.7 L153.14,362.73 L153.38,362.76 L153.63,362.79 L153.87,362.82 L154.11,362.86 L154.36,362.89 L154.6,362.92 L154.84,362.96 L155.08,362.99 L155.33,363.03 L155.57,363.07 L155.81,363.1 L156.05,363.14 L156.29,363.18 L156.54,363.22 L156.78,363.26 L157.02,363.3 L157.26,363.34 L157.5,363.39 L157.74,363.43 L157.98,363.47 L158.22,363.52 L158.46,363.56 L158.7,363.61 L158.95,363.65 L159.19,363.7 L159.43,363.75 L159.67,363.8 L159.9,363.85 L160.14,363.9 L160.38,363.95 L160.62,364 L160.86,364.05 L161.1,364.11 L161.34,364.16 L161.58,364.21 L161.82,364.27 L162.05,364.33 L162.29,364.38 L162.53,364.44 L162.77,364.5 L163,364.56 L163.24,364.62 L163.48,364.68 L163.71,364.74 L163.95,364.8 L164.19,364.86 L164.42,364.92 L164.66,364.99 L164.89,365.05 L165.13,365.12 L165.36,365.18 L165.6,365.25 L165.83,365.31 L166.07,365.38 L166.3,365.45 L166.53,365.52 L166.77,365.59 L167,365.66 L167.23,365.73 L167.47,365.8 L167.7,365.88 L167.93,365.95 L168.16,366.02 L168.39,366.1 L168.63,366.17 L168.86,366.25 L169.09,366.33 L169.32,366.4 L169.55,366.48 L169.78,366.56 L170.01,366.64 L170.24,366.72 L170.47,366.8 L170.69,366.88 L170.92,366.97 L171.15,367.05 L171.38,367.13 L171.61,367.22 L171.83,367.3 L172.06,367.39 L172.29,367.48 L172.51,367.56 L172.74,367.65 L172.96,367.74 L173.19,367.83 L173.41,367.92 L173.64,368.01 L173.86,368.1 L174.09,368.19 L174.31,368.28 L174.53,368.38 L174.75,368.47 L174.98,368.57 L175.2,368.66 L175.42,368.76 L175.64,368.85 L175.86,368.95 L176.08,369.05 L176.3,369.15 L176.52,369.25 L176.74,369.35 L176.96,369.45 L177.18,369.55 L177.4,369.65 L177.61,369.76 L177.83,369.86 L178.05,369.96 L178.27,370.07 L178.48,370.17 L178.7,370.28 L178.91,370.39 L179.13,370.49 L179.34,370.6 L179.55,370.71 L179.77,370.82 L179.98,370.93 L180.19,371.04 L180.41,371.15 L180.62,371.27 L180.83,371.38 L181.04,371.49 L181.25,371.61 L181.46,371.72 L181.67,371.84 L181.88,371.95 L182.09,372.07 L182.3,372.19 L182.5,372.31 L182.71,372.43 L182.92,372.55 L183.12,372.67 L183.33,372.79 L183.53,372.91 L183.74,373.03 L183.94,373.15 L184.15,373.28 L184.35,373.4 L184.55,373.53 L184.75,373.65 L184.96,373.78 L185.16,373.91 L185.36,374.03 L185.56,374.16 L185.76,374.29 L185.96,374.42 L186.16,374.55 L186.35,374.68 L186.55,374.81 L186.75,374.95 L186.94,375.08 L187.14,375.21 L187.34,375.35 L187.53,375.48 L187.73,375.62 L187.92,375.75 L188.11,375.89 L188.3,376.03 L188.5,376.16 L188.69,376.3 L188.88,376.44 L189.07,376.58 L189.26,376.72 L189.45,376.87 L189.64,377.01 L189.83,377.15 L190.01,377.29 L190.2,377.44 L190.39,377.58 L190.57,377.73 L190.76,377.87 L190.94,378.02 L191.12,378.17 L191.31,378.32 L191.49,378.46 L191.67,378.61 L191.85,378.76 L192.04,378.91 L192.22,379.06 L192.39,379.22 L192.57,379.37 L192.75,379.52 L192.93,379.68 L193.11,379.83 L193.28,379.99 L193.46,380.14 L193.63,380.3 L193.81,380.45 L193.98,380.61 L194.16,380.77 L194.33,380.93 L194.5,381.09 L194.67,381.25 L194.84,381.41 L195.01,381.57 L195.18,381.73 L195.35,381.9 L195.52,382.06 L195.68,382.22 L195.85,382.39 L196.02,382.55 L196.18,382.72 L196.35,382.89 L196.51,383.05 L196.67,383.22 L196.83,383.39 L197,383.56 L197.16,383.73 L197.32,383.9 L197.48,384.07 L197.63,384.24 L197.79,384.41 L197.95,384.59 L198.11,384.76 L198.26,384.93 L198.42,385.11 L198.57,385.28 L198.72,385.46 L198.88,385.64 L199.03,385.82 L199.18,385.99 L199.33,386.17 L199.48,386.35 L199.63,386.53 L199.78,386.71 L199.93,386.89 L200.07,387.07 L200.22,387.26 L200.36,387.44 L200.51,387.62 L200.65,387.81 L200.79,387.99 L200.94,388.18 L201.08,388.36 L201.22,388.55 L201.36,388.74 L201.5,388.93 L201.64,389.11 L201.77,389.3 L201.91,389.49 L202.04,389.68 L202.18,389.88 L202.31,390.07 L202.45,390.26 L202.58,390.45 L202.71,390.65 L202.84,390.84 L202.97,391.04 L203.1,391.23 L203.23,391.43 L203.36,391.62 L203.48,391.82 L203.61,392.02 L203.73,392.22 L203.86,392.42 L203.98,392.62 L204.1,392.82 L204.22,393.02 L204.34,393.22 L204.46,393.42 L204.58,393.62 L204.7,393.83 L204.82,394.03 L204.93,394.24 L205.05,394.44 L205.16,394.65 L205.28,394.85 L205.39,395.06 L205.5,395.27" fill="none" stroke="#008c00" stroke-width="1.5" stroke-linejoin="round"/>
<path d="M75.5,397.9 A6.25,5 0 0,1 88,397.9Z" fill="#008c00"/>
<path d="M75.53,393.7 L76.44,396.14 L79.05,396.26 L77.01,397.88 L77.71,400.39 L75.53,398.95 L73.36,400.39 L74.05,397.88 L72.01,396.26 L74.62,396.14ZM75.9,392.45 L76.81,394.89 L79.42,395 L77.37,396.63 L78.07,399.14 L75.9,397.7 L73.72,399.14 L74.42,396.63 L72.38,395 L74.98,394.89ZM76.65,391.31 L77.56,393.75 L80.17,393.87 L78.13,395.49 L78.83,398 L76.65,396.56 L74.48,398 L75.17,395.49 L73.13,393.87 L75.74,393.75ZM77.74,390.36 L78.66,392.81 L81.26,392.92 L79.22,394.54 L79.92,397.06 L77.74,395.62 L75.57,397.06 L76.27,394.54 L74.22,392.92 L76.83,392.81ZM79.1,389.67 L80.02,392.11 L82.62,392.23 L80.58,393.85 L81.28,396.36 L79.1,394.92 L76.93,396.36 L77.62,393.85 L75.58,392.23 L78.19,392.11ZM80.64,389.28 L81.55,391.72 L84.16,391.84 L82.11,393.46 L82.81,395.97 L80.64,394.53 L78.46,395.97 L79.16,393.46 L77.12,391.84 L79.72,391.72ZM82.24,389.22 L83.16,391.66 L85.76,391.77 L83.72,393.4 L84.42,395.91 L82.24,394.47 L80.07,395.91 L80.77,393.4 L78.73,391.77 L81.33,391.66ZM83.82,389.48 L84.73,391.92 L87.34,392.04 L85.3,393.66 L85.99,396.18 L83.82,394.74 L81.64,396.18 L82.34,393.66 L80.3,392.04 L82.91,391.92ZM85.26,390.06 L86.17,392.5 L88.78,392.62 L86.74,394.24 L87.43,396.75 L85.26,395.32 L83.08,396.75 L83.78,394.24 L81.74,392.62 L84.34,392.5ZM86.46,390.92 L87.38,393.36 L89.98,393.47 L87.94,395.1 L88.64,397.61 L86.46,396.17 L84.29,397.61 L84.98,395.1 L82.94,393.47 L85.55,393.36ZM87.35,391.99 L88.27,394.43 L90.87,394.54 L88.83,396.17 L89.53,398.68 L87.35,397.24 L85.18,398.68 L85.88,396.17 L83.84,394.54 L86.44,394.43ZM87.88,393.21 L88.79,395.65 L91.39,395.76 L89.35,397.39 L90.05,399.9 L87.88,398.46 L85.7,399.9 L86.4,397.39 L84.36,395.76 L86.96,395.65ZM87.29,391.54 L88.2,393.98 L90.81,394.1 L88.77,395.72 L89.47,398.23 L87.29,396.79 L85.12,398.23 L85.81,395.72 L83.77,394.1 L86.38,393.98ZM87.88,390.15 L88.79,392.59 L91.39,392.7 L89.35,394.33 L90.05,396.84 L87.88,395.4 L85.7,396.84 L86.4,394.33 L84.36,392.7 L86.96,392.59ZM88.62,388.52 L89.54,390.96 L92.14,391.08 L90.1,392.7 L90.8,395.21 L88.62,393.77 L86.45,395.21 L87.14,392.7 L85.1,391.08 L87.71,390.96ZM89.58,386.63 L90.49,389.07 L93.1,389.19 L91.06,390.81 L91.76,393.32 L89.58,391.88 L87.41,393.32 L88.1,390.81 L86.06,389.19 L88.67,389.07ZM90.81,384.46 L91.72,386.91 L94.33,387.02 L92.29,388.65 L92.98,391.16 L90.81,389.72 L88.63,391.16 L89.33,388.65 L87.29,387.02 L89.9,386.91ZM92.38,382.02 L93.3,384.46 L95.9,384.58 L93.86,386.2 L94.56,388.71 L92.38,387.27 L90.21,388.71 L90.9,386.2 L88.86,384.58 L91.47,384.46ZM94.39,379.31 L95.3,381.75 L97.91,381.86 L95.87,383.49 L96.56,386 L94.39,384.56 L92.21,386 L92.91,383.49 L90.87,381.86 L93.48,381.75ZM96.93,376.37 L97.84,378.81 L100.44,378.92 L98.4,380.55 L99.1,383.06 L96.93,381.62 L94.75,383.06 L95.45,380.55 L93.41,378.92 L96.01,378.81ZM100.09,373.28 L101,375.72 L103.61,375.83 L101.57,377.46 L102.27,379.97 L100.09,378.53 L97.92,379.97 L98.61,377.46 L96.57,375.83 L99.18,375.72ZM103.97,370.14 L104.88,372.59 L107.49,372.7 L105.45,374.32 L106.14,376.84 L103.97,375.4 L101.79,376.84 L102.49,374.32 L100.45,372.7 L103.06,372.59ZM108.62,367.11 L109.53,369.55 L112.14,369.66 L110.1,371.29 L110.79,373.8 L108.62,372.36 L106.44,373.8 L107.14,371.29 L105.1,369.66 L107.7,369.55ZM114.05,364.32 L114.96,366.76 L117.56,366.88 L115.52,368.5 L116.22,371.02 L114.05,369.58 L111.87,371.02 L112.57,368.5 L110.53,366.88 L113.13,366.76ZM120.2,361.94 L121.12,364.39 L123.72,364.5 L121.68,366.12 L122.38,368.64 L120.2,367.2 L118.03,368.64 L118.73,366.12 L116.69,364.5 L119.29,364.39ZM126.99,360.11 L127.91,362.55 L130.51,362.66 L128.47,364.29 L129.17,366.8 L126.99,365.36 L124.82,366.8 L125.52,364.29 L123.47,362.66 L126.08,362.55ZM134.26,358.92 L135.17,361.36 L137.78,361.47 L135.74,363.1 L136.43,365.61 L134.26,364.17 L132.08,365.61 L132.78,363.1 L130.74,361.47 L133.34,361.36ZM141.81,358.43 L142.73,360.87 L145.33,360.99 L143.29,362.61 L143.99,365.12 L141.81,363.68 L139.64,365.12 L140.33,362.61 L138.29,360.99 L140.9,360.87ZM149.45,358.66 L150.36,361.11 L152.97,361.22 L150.93,362.84 L151.62,365.36 L149.45,363.92 L147.27,365.36 L147.97,362.84 L145.93,361.22 L148.54,361.11ZM156.96,359.59 L157.88,362.03 L160.48,362.15 L158.44,363.77 L159.14,366.29 L156.96,364.85 L154.79,366.29 L155.48,363.77 L153.44,362.15 L156.05,362.03ZM164.16,361.15 L165.07,363.6 L167.68,363.71 L165.64,365.33 L166.33,367.85 L164.16,366.41 L161.98,367.85 L162.68,365.33 L160.64,363.71 L163.24,363.6ZM170.87,363.25 L171.78,365.69 L174.39,365.8 L172.35,367.43 L173.05,369.94 L170.87,368.5 L168.7,369.94 L169.39,367.43 L167.35,365.8 L169.96,365.69ZM176.98,365.76 L177.89,368.2 L180.5,368.31 L178.46,369.94 L179.15,372.45 L176.98,371.01 L174.8,372.45 L175.5,369.94 L173.46,368.31 L176.07,368.2ZM182.4,368.55 L183.32,370.99 L185.92,371.11 L183.88,372.73 L184.58,375.24 L182.4,373.8 L180.23,375.24 L180.93,372.73 L178.88,371.11 L181.49,370.99ZM187.11,371.49 L188.03,373.94 L190.63,374.05 L188.59,375.67 L189.29,378.19 L187.11,376.75 L184.94,378.19 L185.64,375.67 L183.59,374.05 L186.2,373.94ZM191.12,374.46 L192.03,376.91 L194.64,377.02 L192.6,378.64 L193.29,381.16 L191.12,379.72 L188.95,381.16 L189.64,378.64 L187.6,377.02 L190.21,376.91ZM194.47,377.36 L195.38,379.8 L197.98,379.91 L195.94,381.54 L196.64,384.05 L194.47,382.61 L192.29,384.05 L192.99,381.54 L190.95,379.91 L193.55,379.8ZM197.22,380.09 L198.13,382.54 L200.74,382.65 L198.7,384.28 L199.39,386.79 L197.22,385.35 L195.04,386.79 L195.74,384.28 L193.7,382.65 L196.31,382.54ZM199.46,382.62 L200.37,385.06 L202.97,385.18 L200.93,386.8 L201.63,389.31 L199.46,387.87 L197.28,389.31 L197.98,386.8 L195.94,385.18 L198.54,385.06ZM201.26,384.9 L202.17,387.35 L204.78,387.46 L202.74,389.08 L203.43,391.6 L201.26,390.16 L199.08,391.6 L199.78,389.08 L197.74,387.46 L200.34,387.35ZM202.7,386.93 L203.61,389.37 L206.22,389.49 L204.18,391.11 L204.88,393.63 L202.7,392.19 L200.53,393.63 L201.22,391.11 L199.18,389.49 L201.79,389.37ZM203.85,388.71 L204.77,391.15 L207.37,391.27 L205.33,392.89 L206.03,395.4 L203.85,393.96 L201.68,395.4 L202.37,392.89 L200.33,391.27 L202.94,391.15ZM204.77,390.25 L205.68,392.69 L208.29,392.81 L206.25,394.43 L206.95,396.94 L204.77,395.5 L202.6,396.94 L203.29,394.43 L201.25,392.81 L203.86,392.69ZM205.5,391.57 L206.42,394.01 L209.02,394.13 L206.98,395.75 L207.68,398.26 L205.5,396.82 L203.33,398.26 L204.02,395.75 L201.98,394.13 L204.59,394.01Z" fill="#008c00" stroke="none"/>
</g>
<path d="M179.5,233.8 L195.8,233.8" fill="none" stroke="#008c00" stroke-width="1.4" stroke-linejoin="round"/>
<path d="M187.6,230.2 L188.49,232.58 L191.02,232.69 L189.04,234.27 L189.72,236.71 L187.6,235.31 L185.48,236.71 L186.16,234.27 L184.18,232.69 L186.71,232.58Z" fill="#008c00" stroke="none"/>
<text x="197.4" y="237.1" font-size="9.3" fill="#322c3c" stroke="#322c3c" stroke-width="0.08">TiO<tspan font-size="5.8" dy="3.0">2</tspan><tspan dy="-3.0">-DSL|D149</tspan></text>
<path d="M179.5,247.4 L195.8,247.4" fill="none" stroke="#ff0000" stroke-width="1.4" stroke-linejoin="round"/>
<path d="M184.8,247.4 a2.8,2.8 0 1,0 5.6,0 a2.8,2.8 0 1,0 -5.6,0Z" fill="#ff0000" stroke="none"/>
<text x="197.4" y="250.7" font-size="9.3" fill="#322c3c" stroke="#322c3c" stroke-width="0.08">TiO<tspan font-size="5.8" dy="3.0">2</tspan><tspan dy="-3.0">-HP25|D149</tspan></text>
<path d="M179.5,262.1 L195.8,262.1" fill="none" stroke="#000000" stroke-width="1.4" stroke-linejoin="round"/>
<path d="M185.35,259.85 h4.5 v4.5 h-4.5Z" fill="#000000" stroke="none"/>
<text x="197.4" y="265.4" font-size="9.3" fill="#322c3c" stroke="#322c3c" stroke-width="0.08">TiO<tspan font-size="5.8" dy="3.0">2</tspan><tspan dy="-3.0">-P25|D149</tspan></text>
<path d="M61.1,285 H77.5 L83.4,291.8 L87.7,278.7 L92.1,291.8 L96.5,278.7 L100.1,287.2 H115.3 M115.3,287.3 H121.9 L127.2,293.4 L130.9,280.7 L135.4,293.4 L139.9,280.7 L143.6,288.6 H159.4 M151.7,288.6 V313 H115.4 V287.3 M159.4,287.6 H166 L170.9,294.7 L174.9,281.9 L179.7,294.7 L183.7,281.9 L187.7,289.9 H196.5 V313 H159.4 V287.6 M196.5,299.8 H206.2 M131.5,309.6 L136,313 L131.5,316.4 M136.6,309.6 L141.1,313 L136.6,316.4 M175.3,309.6 L179.8,313 L175.3,316.4 M180.4,309.6 L184.9,313 L180.4,316.4" fill="none" stroke="#111" stroke-width="1.5" stroke-linejoin="miter"/>
<circle cx="115.3" cy="287.3" r="1.8" fill="#111"/>
<circle cx="159.4" cy="287.6" r="1.8" fill="#111"/>
<circle cx="196.5" cy="299.8" r="1.8" fill="#111"/>
<text x="86" y="305" font-size="9.8" font-weight="bold" font-style="italic" fill="#111" stroke="#111" stroke-width="0.45" textLength="5.5" lengthAdjust="spacingAndGlyphs">R</text>
<text x="91.5" y="307.2" font-size="6.5" font-weight="bold" font-style="italic" fill="#111" stroke="#111" stroke-width="0.3" textLength="2.7" lengthAdjust="spacingAndGlyphs">s</text>
<text x="128" y="274.8" font-size="9.8" font-weight="bold" font-style="italic" fill="#111" stroke="#111" stroke-width="0.45" textLength="5.5" lengthAdjust="spacingAndGlyphs">R</text>
<text x="133.4" y="277" font-size="6.5" font-weight="bold" font-style="italic" fill="#111" stroke="#111" stroke-width="0.3" textLength="7" lengthAdjust="spacingAndGlyphs">ct1</text>
<text x="172.5" y="275.3" font-size="9.8" font-weight="bold" font-style="italic" fill="#111" stroke="#111" stroke-width="0.45" textLength="5.5" lengthAdjust="spacingAndGlyphs">R</text>
<text x="177.9" y="277.5" font-size="6.5" font-weight="bold" font-style="italic" fill="#111" stroke="#111" stroke-width="0.3" textLength="7" lengthAdjust="spacingAndGlyphs">ct2</text>
<text x="128.4" y="330" font-size="10.4" font-weight="bold" font-style="italic" fill="#111" stroke="#111" stroke-width="0.45" textLength="13" lengthAdjust="spacingAndGlyphs">CPE</text>
<text x="141.6" y="332.4" font-size="7.2" font-weight="bold" font-style="italic" fill="#111" stroke="#111" stroke-width="0.3" textLength="3" lengthAdjust="spacingAndGlyphs">1</text>
<text x="174.2" y="330" font-size="10.4" font-weight="bold" font-style="italic" fill="#111" stroke="#111" stroke-width="0.45" textLength="13.3" lengthAdjust="spacingAndGlyphs">CPE</text>
<text x="187.7" y="332.6" font-size="7.2" font-weight="bold" font-style="italic" fill="#111" stroke="#111" stroke-width="0.3" textLength="3.4" lengthAdjust="spacingAndGlyphs">2</text>
<rect x="318.5" y="228" width="216.4" height="166.3" fill="none" stroke="#383838" stroke-width="1.2"/>
<path d="M315.9,228 H318.5M315.9,261.26 H318.5M315.9,294.52 H318.5M315.9,327.78 H318.5M315.9,361.04 H318.5M315.9,394.3 H318.5" stroke="#383838" stroke-width="1.1" fill="none"/>
<path d="M316.9,244.63 H318.5M316.9,277.89 H318.5M316.9,311.15 H318.5M316.9,344.41 H318.5M316.9,377.67 H318.5" stroke="#383838" stroke-width="1.1" fill="none"/>
<path d="M318.5,394.3 V397.3M354.57,394.3 V397.3M390.64,394.3 V397.3M426.71,394.3 V397.3M462.78,394.3 V397.3M498.85,394.3 V397.3M534.92,394.3 V397.3" stroke="#383838" stroke-width="1.1" fill="none"/>
<path d="M329.36,394.3 V396.1M335.71,394.3 V396.1M340.22,394.3 V396.1M343.71,394.3 V396.1M346.57,394.3 V396.1M348.98,394.3 V396.1M351.07,394.3 V396.1M352.92,394.3 V396.1M365.43,394.3 V396.1M371.78,394.3 V396.1M376.29,394.3 V396.1M379.78,394.3 V396.1M382.64,394.3 V396.1M385.05,394.3 V396.1M387.14,394.3 V396.1M388.99,394.3 V396.1M401.5,394.3 V396.1M407.85,394.3 V396.1M412.36,394.3 V396.1M415.85,394.3 V396.1M418.71,394.3 V396.1M421.12,394.3 V396.1M423.21,394.3 V396.1M425.06,394.3 V396.1M437.57,394.3 V396.1M443.92,394.3 V396.1M448.43,394.3 V396.1M451.92,394.3 V396.1M454.78,394.3 V396.1M457.19,394.3 V396.1M459.28,394.3 V396.1M461.13,394.3 V396.1M473.64,394.3 V396.1M479.99,394.3 V396.1M484.5,394.3 V396.1M487.99,394.3 V396.1M490.85,394.3 V396.1M493.26,394.3 V396.1M495.35,394.3 V396.1M497.2,394.3 V396.1M509.71,394.3 V396.1M516.06,394.3 V396.1M520.57,394.3 V396.1M524.06,394.3 V396.1M526.92,394.3 V396.1M529.33,394.3 V396.1M531.42,394.3 V396.1M533.27,394.3 V396.1" stroke="#383838" stroke-width="1.1" fill="none"/>
<text transform="translate(313.3,231.6) scale(1.06,1.0)" font-size="11.6" text-anchor="end" fill="#25232e" font-weight="normal" font-style="normal"  stroke="#25232e" stroke-width="0.2">-40</text>
<text transform="translate(313.3,264.86) scale(1.06,1.0)" font-size="11.6" text-anchor="end" fill="#25232e" font-weight="normal" font-style="normal"  stroke="#25232e" stroke-width="0.2">-30</text>
<text transform="translate(313.3,298.12) scale(1.06,1.0)" font-size="11.6" text-anchor="end" fill="#25232e" font-weight="normal" font-style="normal"  stroke="#25232e" stroke-width="0.2">-20</text>
<text transform="translate(313.3,331.38) scale(1.06,1.0)" font-size="11.6" text-anchor="end" fill="#25232e" font-weight="normal" font-style="normal"  stroke="#25232e" stroke-width="0.2">-10</text>
<text transform="translate(313.3,364.64) scale(1.06,1.0)" font-size="11.6" text-anchor="end" fill="#25232e" font-weight="normal" font-style="normal"  stroke="#25232e" stroke-width="0.2">0</text>
<text transform="translate(313.3,397.9) scale(1.06,1.0)" font-size="11.6" text-anchor="end" fill="#25232e" font-weight="normal" font-style="normal"  stroke="#25232e" stroke-width="0.2">10</text>
<text x="318.7" y="409.8" font-size="11.2" text-anchor="middle" fill="#25232e" stroke="#25232e" stroke-width="0.2">10<tspan font-size="7" dy="-5.5">0</tspan></text>
<text x="354.77" y="409.8" font-size="11.2" text-anchor="middle" fill="#25232e" stroke="#25232e" stroke-width="0.2">10<tspan font-size="7" dy="-5.5">1</tspan></text>
<text x="390.84" y="409.8" font-size="11.2" text-anchor="middle" fill="#25232e" stroke="#25232e" stroke-width="0.2">10<tspan font-size="7" dy="-5.5">2</tspan></text>
<text x="426.91" y="409.8" font-size="11.2" text-anchor="middle" fill="#25232e" stroke="#25232e" stroke-width="0.2">10<tspan font-size="7" dy="-5.5">3</tspan></text>
<text x="462.98" y="409.8" font-size="11.2" text-anchor="middle" fill="#25232e" stroke="#25232e" stroke-width="0.2">10<tspan font-size="7" dy="-5.5">4</tspan></text>
<text x="499.05" y="409.8" font-size="11.2" text-anchor="middle" fill="#25232e" stroke="#25232e" stroke-width="0.2">10<tspan font-size="7" dy="-5.5">5</tspan></text>
<text x="535.12" y="409.8" font-size="11.2" text-anchor="middle" fill="#25232e" stroke="#25232e" stroke-width="0.2">10<tspan font-size="7" dy="-5.5">6</tspan></text>
<text x="431" y="427.2" font-size="11.5" text-anchor="middle" fill="#25232e" font-weight="normal" font-style="normal" textLength="82" lengthAdjust="spacingAndGlyphs"  stroke="#25232e" stroke-width="0.2">Frequency (Hz)</text>
<text transform="translate(289.2,310.5) rotate(-90)" font-size="11.5" text-anchor="middle" fill="#25232e" textLength="80" lengthAdjust="spacingAndGlyphs" stroke="#25232e" stroke-width="0.2">Phase (degree)</text>
<text transform="translate(282.3,231.8) scale(0.87,1.02)" font-size="17.5" font-weight="bold" fill="#111" stroke="#111" stroke-width="0.35">d</text>
<g clip-path="url(#cd)">
<path d="M319.3,356.18 L319.8,355.94 L320.3,355.71 L320.8,355.48 L321.3,355.25 L321.8,355.03 L322.3,354.81 L322.8,354.58 L323.3,354.37 L323.8,354.15 L324.3,353.93 L324.8,353.71 L325.3,353.5 L325.8,353.28 L326.3,353.06 L326.8,352.84 L327.3,352.62 L327.8,352.4 L328.3,352.18 L328.8,351.96 L329.3,351.73 L329.8,351.5 L330.3,351.27 L330.8,351.03 L331.3,350.79 L331.8,350.55 L332.3,350.3 L332.8,350.05 L333.3,349.79 L333.8,349.53 L334.3,349.26 L334.8,348.99 L335.3,348.71 L335.8,348.43 L336.3,348.13 L336.8,347.83 L337.3,347.52 L337.8,347.21 L338.3,346.89 L338.8,346.55 L339.3,346.21 L339.8,345.86 L340.3,345.51 L340.8,345.14 L341.3,344.76 L341.8,344.37 L342.3,343.97 L342.8,343.56 L343.3,343.14 L343.8,342.7 L344.3,342.26 L344.8,341.8 L345.3,341.33 L345.8,340.85 L346.3,340.35 L346.8,339.84 L347.3,339.32 L347.8,338.78 L348.3,338.23 L348.8,337.66 L349.3,337.08 L349.8,336.49 L350.3,335.87 L350.8,335.24 L351.3,334.6 L351.8,333.94 L352.3,333.26 L352.8,332.56 L353.3,331.85 L353.8,331.12 L354.3,330.37 L354.8,329.6 L355.3,328.81 L355.8,328 L356.3,327.18 L356.8,326.33 L357.3,325.46 L357.8,324.58 L358.3,323.67 L358.8,322.74 L359.3,321.79 L359.8,320.82 L360.3,319.83 L360.8,318.82 L361.3,317.79 L361.8,316.73 L362.3,315.66 L362.8,314.57 L363.3,313.46 L363.8,312.32 L364.3,311.17 L364.8,310 L365.3,308.81 L365.8,307.59 L366.3,306.36 L366.8,305.11 L367.3,303.84 L367.8,302.55 L368.3,301.24 L368.8,299.91 L369.3,298.56 L369.8,297.19 L370.3,295.79 L370.8,294.38 L371.3,292.93 L371.8,291.45 L372.3,289.94 L372.8,288.39 L373.3,286.8 L373.8,285.19 L374.3,283.56 L374.8,281.95 L375.3,280.35 L375.8,278.8 L376.3,277.3 L376.8,275.88 L377.3,274.54 L377.8,273.28 L378.3,272.11 L378.8,271.01 L379.3,270 L379.8,269.06 L380.3,268.19 L380.8,267.4 L381.3,266.68 L381.8,266.03 L382.3,265.45 L382.8,264.94 L383.3,264.5 L383.8,264.12 L384.3,263.8 L384.8,263.54 L385.3,263.35 L385.8,263.21 L386.3,263.13 L386.8,263.11 L387.3,263.14 L387.8,263.23 L388.3,263.36 L388.8,263.55 L389.3,263.78 L389.8,264.06 L390.3,264.39 L390.8,264.76 L391.3,265.17 L391.8,265.62 L392.3,266.11 L392.8,266.64 L393.3,267.21 L393.8,267.81 L394.3,268.45 L394.8,269.11 L395.3,269.81 L395.8,270.54 L396.3,271.29 L396.8,272.07 L397.3,272.88 L397.8,273.7 L398.3,274.55 L398.8,275.42 L399.3,276.31 L399.8,277.22 L400.3,278.15 L400.8,279.09 L401.3,280.05 L401.8,281.03 L402.3,282.01 L402.8,283.01 L403.3,284.03 L403.8,285.05 L404.3,286.08 L404.8,287.12 L405.3,288.16 L405.8,289.22 L406.3,290.27 L406.8,291.34 L407.3,292.4 L407.8,293.47 L408.3,294.54 L408.8,295.6 L409.3,296.67 L409.8,297.73 L410.3,298.79 L410.8,299.85 L411.3,300.9 L411.8,301.94 L412.3,302.98 L412.8,304.01 L413.3,305.03 L413.8,306.04 L414.3,307.03 L414.8,308.02 L415.3,308.99 L415.8,309.94 L416.3,310.88 L416.8,311.8 L417.3,312.7 L417.8,313.59 L418.3,314.46 L418.8,315.31 L419.3,316.14 L419.8,316.96 L420.3,317.76 L420.8,318.54 L421.3,319.31 L421.8,320.06 L422.3,320.79 L422.8,321.5 L423.3,322.2 L423.8,322.88 L424.3,323.54 L424.8,324.19 L425.3,324.82 L425.8,325.43 L426.3,326.03 L426.8,326.61 L427.3,327.18 L427.8,327.73 L428.3,328.26 L428.8,328.77 L429.3,329.27 L429.8,329.76 L430.3,330.22 L430.8,330.68 L431.3,331.11 L431.8,331.53 L432.3,331.93 L432.8,332.32 L433.3,332.7 L433.8,333.05 L434.3,333.39 L434.8,333.72 L435.3,334.03 L435.8,334.33 L436.3,334.61 L436.8,334.87 L437.3,335.12 L437.8,335.36 L438.3,335.58 L438.8,335.78 L439.3,335.97 L439.8,336.15 L440.3,336.31 L440.8,336.45 L441.3,336.58 L441.8,336.7 L442.3,336.8 L442.8,336.89 L443.3,336.96 L443.8,337.02 L444.3,337.07 L444.8,337.1 L445.3,337.11 L445.8,337.11 L446.3,337.1 L446.8,337.08 L447.3,337.04 L447.8,336.98 L448.3,336.91 L448.8,336.83 L449.3,336.74 L449.8,336.63 L450.3,336.51 L450.8,336.37 L451.3,336.22 L451.8,336.06 L452.3,335.89 L452.8,335.7 L453.3,335.5 L453.8,335.28 L454.3,335.05 L454.8,334.81 L455.3,334.56 L455.8,334.29 L456.3,334.01 L456.8,333.72 L457.3,333.42 L457.8,333.1 L458.3,332.78 L458.8,332.44 L459.3,332.09 L459.8,331.74 L460.3,331.37 L460.8,331 L461.3,330.62 L461.8,330.24 L462.3,329.84 L462.8,329.45 L463.3,329.04 L463.8,328.63 L464.3,328.22 L464.8,327.81 L465.3,327.39 L465.8,326.97 L466.3,326.54 L466.8,326.12 L467.3,325.7 L467.8,325.27 L468.3,324.85 L468.8,324.42 L469.3,324 L469.8,323.58 L470.3,323.16 L470.8,322.75 L471.3,322.34 L471.8,321.93 L472.3,321.53 L472.8,321.14 L473.3,320.75 L473.8,320.37 L474.3,319.99 L474.8,319.62 L475.3,319.26 L475.8,318.91 L476.3,318.57 L476.8,318.24 L477.3,317.92 L477.8,317.61 L478.3,317.31 L478.8,317.03 L479.3,316.75 L479.8,316.5 L480.3,316.25 L480.8,316.02 L481.3,315.8 L481.8,315.6 L482.3,315.42 L482.8,315.25 L483.3,315.1 L483.8,314.97 L484.3,314.85 L484.8,314.76 L485.3,314.68 L485.8,314.63 L486.3,314.6 L486.8,314.58 L487.3,314.59 L487.8,314.62 L488.3,314.68 L488.8,314.75 L489.3,314.85 L489.8,314.98 L490.3,315.12 L490.8,315.29 L491.3,315.49 L491.8,315.7 L492.3,315.94 L492.8,316.19 L493.3,316.47 L493.8,316.77 L494.3,317.1 L494.8,317.44 L495.3,317.8 L495.8,318.18 L496.3,318.59 L496.8,319.01 L497.3,319.45 L497.8,319.91 L498.3,320.39 L498.8,320.89 L499.3,321.41 L499.8,321.95 L500.3,322.5 L500.8,323.07 L501.3,323.66 L501.8,324.27 L502.3,324.89 L502.8,325.54 L503.3,326.19 L503.8,326.87 L504.3,327.56 L504.8,328.26 L505.3,328.99 L505.8,329.72 L506.3,330.47 L506.8,331.24 L507.3,332.02 L507.8,332.82 L508.3,333.63 L508.8,334.45 L509.3,335.29 L509.8,336.14 L510.3,337.01 L510.8,337.89 L511.3,338.78 L511.8,339.68 L512.3,340.6 L512.8,341.52 L513.3,342.46 L513.8,343.41 L514.3,344.37 L514.8,345.35 L515.3,346.33 L515.8,347.32 L516.3,348.33 L516.8,349.34 L517.3,350.37 L517.8,351.4 L518.3,352.45 L518.8,353.51 L519.3,354.59 L519.8,355.67 L520.3,356.77 L520.8,357.89 L521.3,359.02 L521.8,360.16 L522.3,361.33 L522.8,362.51 L523.3,363.7 L523.8,364.92 L524.3,366.15 L524.8,367.4 L525.3,368.67 L525.8,369.97 L526.3,371.28 L526.8,372.61 L527.3,373.97 L527.8,375.35 L528.3,376.75 L528.8,378.17 L529.3,379.62 L529.8,381.1 L530.3,382.59 L530.8,384.12 L531.3,385.67 L531.8,387.25 L532.3,388.85" fill="none" stroke="#000000" stroke-width="1.5" stroke-linejoin="round"/>
<path d="M316.9,353.78 h4.8 v4.8 h-4.8ZM320.51,352.14 h4.8 v4.8 h-4.8ZM324.11,350.57 h4.8 v4.8 h-4.8ZM327.72,348.95 h4.8 v4.8 h-4.8ZM331.33,347.17 h4.8 v4.8 h-4.8ZM334.94,345.1 h4.8 v4.8 h-4.8ZM338.54,342.63 h4.8 v4.8 h-4.8ZM342.15,339.63 h4.8 v4.8 h-4.8ZM345.76,335.99 h4.8 v4.8 h-4.8ZM349.36,331.59 h4.8 v4.8 h-4.8ZM352.97,326.3 h4.8 v4.8 h-4.8ZM356.58,320.01 h4.8 v4.8 h-4.8ZM360.18,312.64 h4.8 v4.8 h-4.8ZM363.79,304.23 h4.8 v4.8 h-4.8ZM367.4,294.79 h4.8 v4.8 h-4.8ZM371.01,284.07 h4.8 v4.8 h-4.8ZM374.61,272.9 h4.8 v4.8 h-4.8ZM378.22,265.28 h4.8 v4.8 h-4.8ZM381.83,261.44 h4.8 v4.8 h-4.8ZM385.43,260.83 h4.8 v4.8 h-4.8ZM389.04,262.89 h4.8 v4.8 h-4.8ZM392.65,267.05 h4.8 v4.8 h-4.8ZM396.25,272.77 h4.8 v4.8 h-4.8ZM399.86,279.54 h4.8 v4.8 h-4.8ZM403.47,286.96 h4.8 v4.8 h-4.8ZM407.08,294.64 h4.8 v4.8 h-4.8ZM410.68,302.19 h4.8 v4.8 h-4.8ZM414.29,309.2 h4.8 v4.8 h-4.8ZM417.9,315.35 h4.8 v4.8 h-4.8ZM421.5,320.62 h4.8 v4.8 h-4.8ZM425.11,325.01 h4.8 v4.8 h-4.8ZM428.72,328.55 h4.8 v4.8 h-4.8ZM432.32,331.27 h4.8 v4.8 h-4.8ZM435.93,333.19 h4.8 v4.8 h-4.8ZM439.54,334.33 h4.8 v4.8 h-4.8ZM443.15,334.71 h4.8 v4.8 h-4.8ZM446.75,334.37 h4.8 v4.8 h-4.8ZM450.36,333.31 h4.8 v4.8 h-4.8ZM453.97,331.57 h4.8 v4.8 h-4.8ZM457.57,329.21 h4.8 v4.8 h-4.8ZM461.18,326.41 h4.8 v4.8 h-4.8ZM464.79,323.39 h4.8 v4.8 h-4.8ZM468.39,320.36 h4.8 v4.8 h-4.8ZM472,317.52 h4.8 v4.8 h-4.8ZM475.61,315.09 h4.8 v4.8 h-4.8ZM479.22,313.27 h4.8 v4.8 h-4.8ZM482.82,312.3 h4.8 v4.8 h-4.8ZM486.43,312.36 h4.8 v4.8 h-4.8ZM490.04,313.6 h4.8 v4.8 h-4.8ZM493.64,315.98 h4.8 v4.8 h-4.8ZM497.25,319.38 h4.8 v4.8 h-4.8ZM500.86,323.74 h4.8 v4.8 h-4.8ZM504.46,328.94 h4.8 v4.8 h-4.8ZM508.07,334.91 h4.8 v4.8 h-4.8ZM511.68,341.55 h4.8 v4.8 h-4.8ZM515.29,348.76 h4.8 v4.8 h-4.8ZM518.89,356.6 h4.8 v4.8 h-4.8ZM522.5,365.25 h4.8 v4.8 h-4.8ZM526.11,374.93 h4.8 v4.8 h-4.8ZM529.71,385.85 h4.8 v4.8 h-4.8Z" fill="#000000" stroke="none"/>
<path d="M319.3,349.63 L319.8,348.93 L320.3,348.25 L320.8,347.58 L321.3,346.93 L321.8,346.3 L322.3,345.68 L322.8,345.07 L323.3,344.48 L323.8,343.89 L324.3,343.31 L324.8,342.75 L325.3,342.19 L325.8,341.63 L326.3,341.08 L326.8,340.53 L327.3,339.99 L327.8,339.45 L328.3,338.91 L328.8,338.37 L329.3,337.82 L329.8,337.28 L330.3,336.73 L330.8,336.17 L331.3,335.61 L331.8,335.05 L332.3,334.47 L332.8,333.89 L333.3,333.29 L333.8,332.68 L334.3,332.06 L334.8,331.43 L335.3,330.78 L335.8,330.12 L336.3,329.44 L336.8,328.74 L337.3,328.02 L337.8,327.28 L338.3,326.53 L338.8,325.74 L339.3,324.94 L339.8,324.11 L340.3,323.25 L340.8,322.37 L341.3,321.46 L341.8,320.52 L342.3,319.55 L342.8,318.55 L343.3,317.52 L343.8,316.45 L344.3,315.35 L344.8,314.22 L345.3,313.05 L345.8,311.84 L346.3,310.61 L346.8,309.34 L347.3,308.05 L347.8,306.73 L348.3,305.39 L348.8,304.02 L349.3,302.63 L349.8,301.23 L350.3,299.8 L350.8,298.36 L351.3,296.9 L351.8,295.42 L352.3,293.94 L352.8,292.45 L353.3,290.94 L353.8,289.43 L354.3,287.92 L354.8,286.4 L355.3,284.87 L355.8,283.35 L356.3,281.83 L356.8,280.32 L357.3,278.81 L357.8,277.32 L358.3,275.85 L358.8,274.39 L359.3,272.96 L359.8,271.55 L360.3,270.17 L360.8,268.83 L361.3,267.53 L361.8,266.26 L362.3,265.04 L362.8,263.86 L363.3,262.73 L363.8,261.65 L364.3,260.61 L364.8,259.63 L365.3,258.68 L365.8,257.79 L366.3,256.95 L366.8,256.16 L367.3,255.42 L367.8,254.73 L368.3,254.09 L368.8,253.51 L369.3,252.98 L369.8,252.5 L370.3,252.08 L370.8,251.71 L371.3,251.4 L371.8,251.15 L372.3,250.95 L372.8,250.82 L373.3,250.74 L373.8,250.72 L374.3,250.76 L374.8,250.86 L375.3,251.02 L375.8,251.24 L376.3,251.52 L376.8,251.87 L377.3,252.29 L377.8,252.76 L378.3,253.3 L378.8,253.91 L379.3,254.59 L379.8,255.33 L380.3,256.13 L380.8,257.01 L381.3,257.95 L381.8,258.95 L382.3,260.01 L382.8,261.13 L383.3,262.29 L383.8,263.51 L384.3,264.77 L384.8,266.07 L385.3,267.42 L385.8,268.8 L386.3,270.22 L386.8,271.66 L387.3,273.14 L387.8,274.63 L388.3,276.15 L388.8,277.69 L389.3,279.25 L389.8,280.81 L390.3,282.39 L390.8,283.97 L391.3,285.55 L391.8,287.14 L392.3,288.72 L392.8,290.3 L393.3,291.86 L393.8,293.42 L394.3,294.95 L394.8,296.48 L395.3,297.97 L395.8,299.45 L396.3,300.9 L396.8,302.31 L397.3,303.7 L397.8,305.04 L398.3,306.35 L398.8,307.63 L399.3,308.87 L399.8,310.08 L400.3,311.25 L400.8,312.39 L401.3,313.5 L401.8,314.58 L402.3,315.62 L402.8,316.64 L403.3,317.62 L403.8,318.58 L404.3,319.51 L404.8,320.42 L405.3,321.29 L405.8,322.14 L406.3,322.97 L406.8,323.77 L407.3,324.54 L407.8,325.29 L408.3,326.02 L408.8,326.73 L409.3,327.42 L409.8,328.08 L410.3,328.73 L410.8,329.35 L411.3,329.96 L411.8,330.55 L412.3,331.12 L412.8,331.68 L413.3,332.22 L413.8,332.74 L414.3,333.25 L414.8,333.74 L415.3,334.23 L415.8,334.7 L416.3,335.15 L416.8,335.6 L417.3,336.03 L417.8,336.46 L418.3,336.87 L418.8,337.28 L419.3,337.68 L419.8,338.07 L420.3,338.45 L420.8,338.82 L421.3,339.18 L421.8,339.53 L422.3,339.88 L422.8,340.22 L423.3,340.54 L423.8,340.86 L424.3,341.17 L424.8,341.47 L425.3,341.77 L425.8,342.05 L426.3,342.33 L426.8,342.59 L427.3,342.85 L427.8,343.1 L428.3,343.34 L428.8,343.57 L429.3,343.79 L429.8,344 L430.3,344.21 L430.8,344.4 L431.3,344.59 L431.8,344.77 L432.3,344.93 L432.8,345.09 L433.3,345.25 L433.8,345.39 L434.3,345.52 L434.8,345.64 L435.3,345.76 L435.8,345.87 L436.3,345.96 L436.8,346.05 L437.3,346.13 L437.8,346.2 L438.3,346.26 L438.8,346.31 L439.3,346.36 L439.8,346.39 L440.3,346.42 L440.8,346.43 L441.3,346.44 L441.8,346.44 L442.3,346.43 L442.8,346.41 L443.3,346.38 L443.8,346.34 L444.3,346.29 L444.8,346.24 L445.3,346.17 L445.8,346.1 L446.3,346.02 L446.8,345.92 L447.3,345.82 L447.8,345.72 L448.3,345.6 L448.8,345.48 L449.3,345.35 L449.8,345.21 L450.3,345.07 L450.8,344.92 L451.3,344.77 L451.8,344.62 L452.3,344.46 L452.8,344.3 L453.3,344.13 L453.8,343.96 L454.3,343.79 L454.8,343.62 L455.3,343.44 L455.8,343.27 L456.3,343.09 L456.8,342.92 L457.3,342.74 L457.8,342.57 L458.3,342.4 L458.8,342.23 L459.3,342.06 L459.8,341.89 L460.3,341.73 L460.8,341.57 L461.3,341.41 L461.8,341.26 L462.3,341.11 L462.8,340.97 L463.3,340.84 L463.8,340.71 L464.3,340.58 L464.8,340.47 L465.3,340.36 L465.8,340.25 L466.3,340.16 L466.8,340.07 L467.3,339.99 L467.8,339.91 L468.3,339.84 L468.8,339.78 L469.3,339.73 L469.8,339.68 L470.3,339.64 L470.8,339.6 L471.3,339.57 L471.8,339.55 L472.3,339.54 L472.8,339.53 L473.3,339.53 L473.8,339.54 L474.3,339.55 L474.8,339.57 L475.3,339.6 L475.8,339.63 L476.3,339.68 L476.8,339.72 L477.3,339.78 L477.8,339.84 L478.3,339.91 L478.8,339.98 L479.3,340.06 L479.8,340.15 L480.3,340.25 L480.8,340.35 L481.3,340.46 L481.8,340.58 L482.3,340.7 L482.8,340.83 L483.3,340.96 L483.8,341.11 L484.3,341.26 L484.8,341.41 L485.3,341.58 L485.8,341.75 L486.3,341.93 L486.8,342.11 L487.3,342.3 L487.8,342.5 L488.3,342.7 L488.8,342.91 L489.3,343.13 L489.8,343.36 L490.3,343.59 L490.8,343.83 L491.3,344.07 L491.8,344.32 L492.3,344.58 L492.8,344.85 L493.3,345.12 L493.8,345.4 L494.3,345.68 L494.8,345.98 L495.3,346.28 L495.8,346.58 L496.3,346.9 L496.8,347.22 L497.3,347.54 L497.8,347.88 L498.3,348.22 L498.8,348.56 L499.3,348.92 L499.8,349.28 L500.3,349.64 L500.8,350.02 L501.3,350.4 L501.8,350.78 L502.3,351.18 L502.8,351.58 L503.3,351.99 L503.8,352.4 L504.3,352.82 L504.8,353.25 L505.3,353.68 L505.8,354.12 L506.3,354.56 L506.8,355.01 L507.3,355.47 L507.8,355.93 L508.3,356.4 L508.8,356.87 L509.3,357.35 L509.8,357.83 L510.3,358.32 L510.8,358.81 L511.3,359.31 L511.8,359.81 L512.3,360.32 L512.8,360.83 L513.3,361.35 L513.8,361.87 L514.3,362.4 L514.8,362.93 L515.3,363.46 L515.8,364 L516.3,364.54 L516.8,365.08 L517.3,365.63 L517.8,366.18 L518.3,366.73 L518.8,367.29 L519.3,367.85 L519.8,368.42 L520.3,368.98 L520.8,369.55 L521.3,370.12 L521.8,370.7 L522.3,371.28 L522.8,371.86 L523.3,372.44 L523.8,373.02 L524.3,373.61 L524.8,374.2 L525.3,374.79 L525.8,375.38 L526.3,375.97 L526.8,376.56 L527.3,377.16 L527.8,377.76 L528.3,378.36 L528.8,378.95 L529.3,379.55 L529.8,380.16 L530.3,380.76 L530.8,381.36 L531.3,381.96 L531.8,382.56 L532.3,383.17 L532.8,383.77 L533.3,384.38 L533.8,384.98" fill="none" stroke="#ff0000" stroke-width="1.5" stroke-linejoin="round"/>
<path d="M316.55,349.63 a2.75,2.75 0 1,0 5.5,0 a2.75,2.75 0 1,0 -5.5,0ZM320.16,344.94 a2.75,2.75 0 1,0 5.5,0 a2.75,2.75 0 1,0 -5.5,0ZM323.76,340.85 a2.75,2.75 0 1,0 5.5,0 a2.75,2.75 0 1,0 -5.5,0ZM327.37,336.93 a2.75,2.75 0 1,0 5.5,0 a2.75,2.75 0 1,0 -5.5,0ZM330.98,332.77 a2.75,2.75 0 1,0 5.5,0 a2.75,2.75 0 1,0 -5.5,0ZM334.59,327.97 a2.75,2.75 0 1,0 5.5,0 a2.75,2.75 0 1,0 -5.5,0ZM338.19,322.11 a2.75,2.75 0 1,0 5.5,0 a2.75,2.75 0 1,0 -5.5,0ZM341.8,314.79 a2.75,2.75 0 1,0 5.5,0 a2.75,2.75 0 1,0 -5.5,0ZM345.41,305.78 a2.75,2.75 0 1,0 5.5,0 a2.75,2.75 0 1,0 -5.5,0ZM349.01,295.53 a2.75,2.75 0 1,0 5.5,0 a2.75,2.75 0 1,0 -5.5,0ZM352.62,284.66 a2.75,2.75 0 1,0 5.5,0 a2.75,2.75 0 1,0 -5.5,0ZM356.23,273.88 a2.75,2.75 0 1,0 5.5,0 a2.75,2.75 0 1,0 -5.5,0ZM359.83,264.37 a2.75,2.75 0 1,0 5.5,0 a2.75,2.75 0 1,0 -5.5,0ZM363.44,257.13 a2.75,2.75 0 1,0 5.5,0 a2.75,2.75 0 1,0 -5.5,0ZM367.05,252.5 a2.75,2.75 0 1,0 5.5,0 a2.75,2.75 0 1,0 -5.5,0ZM370.66,250.73 a2.75,2.75 0 1,0 5.5,0 a2.75,2.75 0 1,0 -5.5,0ZM374.26,252.04 a2.75,2.75 0 1,0 5.5,0 a2.75,2.75 0 1,0 -5.5,0ZM377.87,256.69 a2.75,2.75 0 1,0 5.5,0 a2.75,2.75 0 1,0 -5.5,0ZM381.48,264.58 a2.75,2.75 0 1,0 5.5,0 a2.75,2.75 0 1,0 -5.5,0ZM385.08,274.73 a2.75,2.75 0 1,0 5.5,0 a2.75,2.75 0 1,0 -5.5,0ZM388.69,286 a2.75,2.75 0 1,0 5.5,0 a2.75,2.75 0 1,0 -5.5,0ZM392.3,297.22 a2.75,2.75 0 1,0 5.5,0 a2.75,2.75 0 1,0 -5.5,0ZM395.9,307.26 a2.75,2.75 0 1,0 5.5,0 a2.75,2.75 0 1,0 -5.5,0ZM399.51,315.54 a2.75,2.75 0 1,0 5.5,0 a2.75,2.75 0 1,0 -5.5,0ZM403.12,322.25 a2.75,2.75 0 1,0 5.5,0 a2.75,2.75 0 1,0 -5.5,0ZM406.73,327.65 a2.75,2.75 0 1,0 5.5,0 a2.75,2.75 0 1,0 -5.5,0ZM410.33,331.98 a2.75,2.75 0 1,0 5.5,0 a2.75,2.75 0 1,0 -5.5,0ZM413.94,335.5 a2.75,2.75 0 1,0 5.5,0 a2.75,2.75 0 1,0 -5.5,0ZM417.55,338.44 a2.75,2.75 0 1,0 5.5,0 a2.75,2.75 0 1,0 -5.5,0ZM421.15,340.93 a2.75,2.75 0 1,0 5.5,0 a2.75,2.75 0 1,0 -5.5,0ZM424.76,342.95 a2.75,2.75 0 1,0 5.5,0 a2.75,2.75 0 1,0 -5.5,0ZM428.37,344.52 a2.75,2.75 0 1,0 5.5,0 a2.75,2.75 0 1,0 -5.5,0ZM431.97,345.63 a2.75,2.75 0 1,0 5.5,0 a2.75,2.75 0 1,0 -5.5,0ZM435.58,346.27 a2.75,2.75 0 1,0 5.5,0 a2.75,2.75 0 1,0 -5.5,0ZM439.19,346.44 a2.75,2.75 0 1,0 5.5,0 a2.75,2.75 0 1,0 -5.5,0ZM442.8,346.14 a2.75,2.75 0 1,0 5.5,0 a2.75,2.75 0 1,0 -5.5,0ZM446.4,345.39 a2.75,2.75 0 1,0 5.5,0 a2.75,2.75 0 1,0 -5.5,0ZM450.01,344.31 a2.75,2.75 0 1,0 5.5,0 a2.75,2.75 0 1,0 -5.5,0ZM453.62,343.07 a2.75,2.75 0 1,0 5.5,0 a2.75,2.75 0 1,0 -5.5,0ZM457.22,341.83 a2.75,2.75 0 1,0 5.5,0 a2.75,2.75 0 1,0 -5.5,0ZM460.83,340.76 a2.75,2.75 0 1,0 5.5,0 a2.75,2.75 0 1,0 -5.5,0ZM464.44,340 a2.75,2.75 0 1,0 5.5,0 a2.75,2.75 0 1,0 -5.5,0ZM468.04,339.6 a2.75,2.75 0 1,0 5.5,0 a2.75,2.75 0 1,0 -5.5,0ZM471.65,339.56 a2.75,2.75 0 1,0 5.5,0 a2.75,2.75 0 1,0 -5.5,0ZM475.26,339.87 a2.75,2.75 0 1,0 5.5,0 a2.75,2.75 0 1,0 -5.5,0ZM478.87,340.53 a2.75,2.75 0 1,0 5.5,0 a2.75,2.75 0 1,0 -5.5,0ZM482.47,341.55 a2.75,2.75 0 1,0 5.5,0 a2.75,2.75 0 1,0 -5.5,0ZM486.08,342.93 a2.75,2.75 0 1,0 5.5,0 a2.75,2.75 0 1,0 -5.5,0ZM489.69,344.65 a2.75,2.75 0 1,0 5.5,0 a2.75,2.75 0 1,0 -5.5,0ZM493.29,346.73 a2.75,2.75 0 1,0 5.5,0 a2.75,2.75 0 1,0 -5.5,0ZM496.9,349.17 a2.75,2.75 0 1,0 5.5,0 a2.75,2.75 0 1,0 -5.5,0ZM500.51,351.95 a2.75,2.75 0 1,0 5.5,0 a2.75,2.75 0 1,0 -5.5,0ZM504.11,355.07 a2.75,2.75 0 1,0 5.5,0 a2.75,2.75 0 1,0 -5.5,0ZM507.72,358.49 a2.75,2.75 0 1,0 5.5,0 a2.75,2.75 0 1,0 -5.5,0ZM511.33,362.16 a2.75,2.75 0 1,0 5.5,0 a2.75,2.75 0 1,0 -5.5,0ZM514.94,366.05 a2.75,2.75 0 1,0 5.5,0 a2.75,2.75 0 1,0 -5.5,0ZM518.54,370.12 a2.75,2.75 0 1,0 5.5,0 a2.75,2.75 0 1,0 -5.5,0ZM522.15,374.31 a2.75,2.75 0 1,0 5.5,0 a2.75,2.75 0 1,0 -5.5,0ZM525.76,378.6 a2.75,2.75 0 1,0 5.5,0 a2.75,2.75 0 1,0 -5.5,0ZM529.36,382.94 a2.75,2.75 0 1,0 5.5,0 a2.75,2.75 0 1,0 -5.5,0Z" fill="#ff0000" stroke="none"/>
<path d="M319.3,339.18 L319.8,338.5 L320.3,337.83 L320.8,337.16 L321.3,336.49 L321.8,335.83 L322.3,335.17 L322.8,334.52 L323.3,333.87 L323.8,333.22 L324.3,332.57 L324.8,331.92 L325.3,331.27 L325.8,330.62 L326.3,329.97 L326.8,329.32 L327.3,328.67 L327.8,328.02 L328.3,327.36 L328.8,326.71 L329.3,326.04 L329.8,325.38 L330.3,324.71 L330.8,324.03 L331.3,323.35 L331.8,322.67 L332.3,321.97 L332.8,321.27 L333.3,320.57 L333.8,319.85 L334.3,319.13 L334.8,318.4 L335.3,317.66 L335.8,316.91 L336.3,316.15 L336.8,315.38 L337.3,314.6 L337.8,313.81 L338.3,313 L338.8,312.18 L339.3,311.35 L339.8,310.51 L340.3,309.65 L340.8,308.78 L341.3,307.89 L341.8,306.99 L342.3,306.07 L342.8,305.14 L343.3,304.19 L343.8,303.22 L344.3,302.23 L344.8,301.24 L345.3,300.23 L345.8,299.2 L346.3,298.18 L346.8,297.14 L347.3,296.1 L347.8,295.06 L348.3,294.02 L348.8,292.98 L349.3,291.94 L349.8,290.91 L350.3,289.89 L350.8,288.87 L351.3,287.87 L351.8,286.88 L352.3,285.91 L352.8,284.96 L353.3,284.02 L353.8,283.11 L354.3,282.22 L354.8,281.36 L355.3,280.52 L355.8,279.72 L356.3,278.94 L356.8,278.2 L357.3,277.5 L357.8,276.83 L358.3,276.21 L358.8,275.62 L359.3,275.08 L359.8,274.59 L360.3,274.14 L360.8,273.74 L361.3,273.39 L361.8,273.1 L362.3,272.87 L362.8,272.68 L363.3,272.56 L363.8,272.48 L364.3,272.46 L364.8,272.49 L365.3,272.56 L365.8,272.69 L366.3,272.86 L366.8,273.08 L367.3,273.34 L367.8,273.65 L368.3,274 L368.8,274.39 L369.3,274.82 L369.8,275.29 L370.3,275.8 L370.8,276.35 L371.3,276.93 L371.8,277.54 L372.3,278.19 L372.8,278.87 L373.3,279.58 L373.8,280.32 L374.3,281.09 L374.8,281.89 L375.3,282.71 L375.8,283.56 L376.3,284.43 L376.8,285.33 L377.3,286.25 L377.8,287.18 L378.3,288.14 L378.8,289.11 L379.3,290.11 L379.8,291.11 L380.3,292.14 L380.8,293.17 L381.3,294.22 L381.8,295.28 L382.3,296.35 L382.8,297.43 L383.3,298.52 L383.8,299.61 L384.3,300.71 L384.8,301.81 L385.3,302.92 L385.8,304.03 L386.3,305.14 L386.8,306.25 L387.3,307.36 L387.8,308.46 L388.3,309.56 L388.8,310.66 L389.3,311.75 L389.8,312.83 L390.3,313.91 L390.8,314.97 L391.3,316.02 L391.8,317.07 L392.3,318.1 L392.8,319.11 L393.3,320.11 L393.8,321.09 L394.3,322.06 L394.8,323.01 L395.3,323.93 L395.8,324.84 L396.3,325.73 L396.8,326.6 L397.3,327.45 L397.8,328.29 L398.3,329.1 L398.8,329.9 L399.3,330.68 L399.8,331.44 L400.3,332.18 L400.8,332.9 L401.3,333.61 L401.8,334.3 L402.3,334.98 L402.8,335.63 L403.3,336.27 L403.8,336.9 L404.3,337.5 L404.8,338.1 L405.3,338.67 L405.8,339.23 L406.3,339.78 L406.8,340.3 L407.3,340.82 L407.8,341.32 L408.3,341.8 L408.8,342.27 L409.3,342.72 L409.8,343.16 L410.3,343.59 L410.8,344 L411.3,344.4 L411.8,344.78 L412.3,345.15 L412.8,345.51 L413.3,345.85 L413.8,346.19 L414.3,346.5 L414.8,346.81 L415.3,347.1 L415.8,347.38 L416.3,347.65 L416.8,347.91 L417.3,348.16 L417.8,348.39 L418.3,348.61 L418.8,348.82 L419.3,349.03 L419.8,349.21 L420.3,349.39 L420.8,349.56 L421.3,349.72 L421.8,349.87 L422.3,350.01 L422.8,350.13 L423.3,350.25 L423.8,350.36 L424.3,350.46 L424.8,350.55 L425.3,350.63 L425.8,350.71 L426.3,350.77 L426.8,350.83 L427.3,350.87 L427.8,350.91 L428.3,350.94 L428.8,350.97 L429.3,350.98 L429.8,350.99 L430.3,351 L430.8,350.99 L431.3,350.98 L431.8,350.96 L432.3,350.94 L432.8,350.9 L433.3,350.87 L433.8,350.82 L434.3,350.77 L434.8,350.72 L435.3,350.66 L435.8,350.59 L436.3,350.52 L436.8,350.45 L437.3,350.37 L437.8,350.28 L438.3,350.19 L438.8,350.1 L439.3,350 L439.8,349.9 L440.3,349.8 L440.8,349.69 L441.3,349.58 L441.8,349.46 L442.3,349.34 L442.8,349.22 L443.3,349.1 L443.8,348.97 L444.3,348.85 L444.8,348.72 L445.3,348.58 L445.8,348.45 L446.3,348.32 L446.8,348.18 L447.3,348.04 L447.8,347.9 L448.3,347.76 L448.8,347.62 L449.3,347.48 L449.8,347.34 L450.3,347.2 L450.8,347.06 L451.3,346.91 L451.8,346.77 L452.3,346.63 L452.8,346.49 L453.3,346.35 L453.8,346.22 L454.3,346.08 L454.8,345.94 L455.3,345.81 L455.8,345.68 L456.3,345.55 L456.8,345.42 L457.3,345.3 L457.8,345.17 L458.3,345.05 L458.8,344.93 L459.3,344.82 L459.8,344.71 L460.3,344.6 L460.8,344.49 L461.3,344.39 L461.8,344.3 L462.3,344.2 L462.8,344.11 L463.3,344.03 L463.8,343.95 L464.3,343.87 L464.8,343.8 L465.3,343.74 L465.8,343.68 L466.3,343.62 L466.8,343.58 L467.3,343.53 L467.8,343.49 L468.3,343.46 L468.8,343.44 L469.3,343.42 L469.8,343.41 L470.3,343.4 L470.8,343.4 L471.3,343.41 L471.8,343.42 L472.3,343.44 L472.8,343.46 L473.3,343.49 L473.8,343.53 L474.3,343.57 L474.8,343.62 L475.3,343.68 L475.8,343.74 L476.3,343.81 L476.8,343.88 L477.3,343.96 L477.8,344.05 L478.3,344.14 L478.8,344.24 L479.3,344.35 L479.8,344.46 L480.3,344.58 L480.8,344.71 L481.3,344.84 L481.8,344.97 L482.3,345.12 L482.8,345.27 L483.3,345.42 L483.8,345.59 L484.3,345.76 L484.8,345.93 L485.3,346.11 L485.8,346.3 L486.3,346.5 L486.8,346.7 L487.3,346.91 L487.8,347.12 L488.3,347.34 L488.8,347.57 L489.3,347.8 L489.8,348.04 L490.3,348.28 L490.8,348.54 L491.3,348.79 L491.8,349.06 L492.3,349.33 L492.8,349.61 L493.3,349.89 L493.8,350.18 L494.3,350.48 L494.8,350.79 L495.3,351.1 L495.8,351.41 L496.3,351.74 L496.8,352.07 L497.3,352.4 L497.8,352.75 L498.3,353.09 L498.8,353.45 L499.3,353.81 L499.8,354.18 L500.3,354.56 L500.8,354.94 L501.3,355.33 L501.8,355.72 L502.3,356.12 L502.8,356.53 L503.3,356.95 L503.8,357.37 L504.3,357.8 L504.8,358.23 L505.3,358.67 L505.8,359.12 L506.3,359.57 L506.8,360.03 L507.3,360.5 L507.8,360.98 L508.3,361.46 L508.8,361.94 L509.3,362.44 L509.8,362.94 L510.3,363.44 L510.8,363.96 L511.3,364.48 L511.8,365.01 L512.3,365.54 L512.8,366.08 L513.3,366.63 L513.8,367.18 L514.3,367.74 L514.8,368.31 L515.3,368.88 L515.8,369.46 L516.3,370.05 L516.8,370.65 L517.3,371.25 L517.8,371.85 L518.3,372.47 L518.8,373.09 L519.3,373.72 L519.8,374.35 L520.3,374.99 L520.8,375.64 L521.3,376.3 L521.8,376.96 L522.3,377.63 L522.8,378.3 L523.3,378.98 L523.8,379.67 L524.3,380.37 L524.8,381.07 L525.3,381.78 L525.8,382.5 L526.3,383.22 L526.8,383.95 L527.3,384.68 L527.8,385.43 L528.3,386.18 L528.8,386.94 L529.3,387.7 L529.8,388.47 L530.3,389.25 L530.8,390.03 L531.3,390.82 L531.8,391.62 L532.3,392.43 L532.8,393.24 L533.3,394.06 L533.8,394.89" fill="none" stroke="#008c00" stroke-width="1.5" stroke-linejoin="round"/>
<path d="M319.3,335.68 L320.16,337.99 L322.63,338.1 L320.7,339.63 L321.36,342.01 L319.3,340.65 L317.24,342.01 L317.9,339.63 L315.97,338.1 L318.44,337.99ZM322.91,330.88 L323.77,333.19 L326.24,333.3 L324.31,334.83 L324.96,337.21 L322.91,335.85 L320.85,337.21 L321.51,334.83 L319.58,333.3 L322.04,333.19ZM326.51,326.2 L327.38,328.51 L329.84,328.61 L327.91,330.15 L328.57,332.53 L326.51,331.17 L324.46,332.53 L325.12,330.15 L323.19,328.61 L325.65,328.51ZM330.12,321.45 L330.99,323.76 L333.45,323.87 L331.52,325.4 L332.18,327.78 L330.12,326.42 L328.06,327.78 L328.72,325.4 L326.79,323.87 L329.26,323.76ZM333.73,316.46 L334.59,318.77 L337.06,318.88 L335.13,320.41 L335.79,322.79 L333.73,321.43 L331.67,322.79 L332.33,320.41 L330.4,318.88 L332.86,318.77ZM337.34,311.04 L338.2,313.35 L340.66,313.46 L338.73,315 L339.39,317.37 L337.34,316.01 L335.28,317.37 L335.94,315 L334.01,313.46 L336.47,313.35ZM340.94,305.03 L341.81,307.34 L344.27,307.45 L342.34,308.98 L343,311.36 L340.94,310 L338.88,311.36 L339.54,308.98 L337.61,307.45 L340.08,307.34ZM344.55,298.24 L345.41,300.55 L347.88,300.66 L345.95,302.19 L346.61,304.57 L344.55,303.21 L342.49,304.57 L343.15,302.19 L341.22,300.66 L343.68,300.55ZM348.16,290.82 L349.02,293.13 L351.48,293.23 L349.55,294.77 L350.21,297.15 L348.16,295.79 L346.1,297.15 L346.76,294.77 L344.83,293.23 L347.29,293.13ZM351.76,283.46 L352.63,285.77 L355.09,285.87 L353.16,287.41 L353.82,289.79 L351.76,288.43 L349.71,289.79 L350.36,287.41 L348.43,285.87 L350.9,285.77ZM355.37,276.91 L356.23,279.22 L358.7,279.33 L356.77,280.86 L357.43,283.24 L355.37,281.88 L353.31,283.24 L353.97,280.86 L352.04,279.33 L354.51,279.22ZM358.98,271.93 L359.84,274.24 L362.31,274.34 L360.38,275.88 L361.03,278.26 L358.98,276.9 L356.92,278.26 L357.58,275.88 L355.65,274.34 L358.11,274.24ZM362.58,269.26 L363.45,271.57 L365.91,271.67 L363.98,273.21 L364.64,275.59 L362.58,274.23 L360.53,275.59 L361.19,273.21 L359.26,271.67 L361.72,271.57ZM366.19,269.32 L367.06,271.63 L369.52,271.74 L367.59,273.28 L368.25,275.65 L366.19,274.29 L364.13,275.65 L364.79,273.28 L362.86,271.74 L365.33,271.63ZM369.8,271.79 L370.66,274.1 L373.13,274.21 L371.2,275.75 L371.86,278.12 L369.8,276.76 L367.74,278.12 L368.4,275.75 L366.47,274.21 L368.93,274.1ZM373.41,276.23 L374.27,278.55 L376.73,278.65 L374.8,280.19 L375.46,282.57 L373.41,281.2 L371.35,282.57 L372.01,280.19 L370.08,278.65 L372.54,278.55ZM377.01,282.21 L377.88,284.53 L380.34,284.63 L378.41,286.17 L379.07,288.55 L377.01,287.18 L374.95,288.55 L375.61,286.17 L373.68,284.63 L376.15,284.53ZM380.62,289.3 L381.48,291.61 L383.95,291.72 L382.02,293.25 L382.68,295.63 L380.62,294.27 L378.56,295.63 L379.22,293.25 L377.29,291.72 L379.75,291.61ZM384.23,297.05 L385.09,299.36 L387.55,299.47 L385.62,301 L386.28,303.38 L384.23,302.02 L382.17,303.38 L382.83,301 L380.9,299.47 L383.36,299.36ZM387.83,305.03 L388.7,307.34 L391.16,307.45 L389.23,308.99 L389.89,311.36 L387.83,310 L385.78,311.36 L386.43,308.99 L384.5,307.45 L386.97,307.34ZM391.44,312.82 L392.3,315.13 L394.77,315.24 L392.84,316.77 L393.5,319.15 L391.44,317.79 L389.38,319.15 L390.04,316.77 L388.11,315.24 L390.58,315.13ZM395.05,319.97 L395.91,322.28 L398.38,322.39 L396.45,323.92 L397.1,326.3 L395.05,324.94 L392.99,326.3 L393.65,323.92 L391.72,322.39 L394.18,322.28ZM398.65,326.17 L399.52,328.48 L401.98,328.59 L400.05,330.12 L400.71,332.5 L398.65,331.14 L396.6,332.5 L397.26,330.12 L395.33,328.59 L397.79,328.48ZM402.26,331.42 L403.13,333.74 L405.59,333.84 L403.66,335.38 L404.32,337.76 L402.26,336.39 L400.2,337.76 L400.86,335.38 L398.93,333.84 L401.4,333.74ZM405.87,335.81 L406.73,338.12 L409.2,338.22 L407.27,339.76 L407.93,342.14 L405.87,340.78 L403.81,342.14 L404.47,339.76 L402.54,338.22 L405,338.12ZM409.48,339.38 L410.34,341.69 L412.8,341.8 L410.87,343.33 L411.53,345.71 L409.48,344.35 L407.42,345.71 L408.08,343.33 L406.15,341.8 L408.61,341.69ZM413.08,342.21 L413.95,344.52 L416.41,344.62 L414.48,346.16 L415.14,348.54 L413.08,347.18 L411.02,348.54 L411.68,346.16 L409.75,344.62 L412.22,344.52ZM416.69,344.36 L417.55,346.67 L420.02,346.77 L418.09,348.31 L418.75,350.69 L416.69,349.33 L414.63,350.69 L415.29,348.31 L413.36,346.77 L415.82,346.67ZM420.3,345.89 L421.16,348.2 L423.62,348.31 L421.69,349.85 L422.35,352.22 L420.3,350.86 L418.24,352.22 L418.9,349.85 L416.97,348.31 L419.43,348.2ZM423.9,346.88 L424.77,349.19 L427.23,349.3 L425.3,350.84 L425.96,353.21 L423.9,351.85 L421.85,353.21 L422.5,350.84 L420.57,349.3 L423.04,349.19ZM427.51,347.39 L428.37,349.7 L430.84,349.81 L428.91,351.34 L429.57,353.72 L427.51,352.36 L425.45,353.72 L426.11,351.34 L424.18,349.81 L426.65,349.7ZM431.12,347.48 L431.98,349.79 L434.45,349.9 L432.52,351.44 L433.17,353.82 L431.12,352.45 L429.06,353.82 L429.72,351.44 L427.79,349.9 L430.25,349.79ZM434.72,347.23 L435.59,349.54 L438.05,349.65 L436.12,351.18 L436.78,353.56 L434.72,352.2 L432.67,353.56 L433.33,351.18 L431.4,349.65 L433.86,349.54ZM438.33,346.69 L439.2,349 L441.66,349.11 L439.73,350.64 L440.39,353.02 L438.33,351.66 L436.27,353.02 L436.93,350.64 L435,349.11 L437.47,349ZM441.94,345.93 L442.8,348.24 L445.27,348.35 L443.34,349.88 L444,352.26 L441.94,350.9 L439.88,352.26 L440.54,349.88 L438.61,348.35 L441.07,348.24ZM445.55,345.02 L446.41,347.33 L448.87,347.44 L446.94,348.97 L447.6,351.35 L445.55,349.99 L443.49,351.35 L444.15,348.97 L442.22,347.44 L444.68,347.33ZM449.15,344.02 L450.02,346.33 L452.48,346.44 L450.55,347.98 L451.21,350.35 L449.15,348.99 L447.09,350.35 L447.75,347.98 L445.82,346.44 L448.29,346.33ZM452.76,343 L453.62,345.32 L456.09,345.42 L454.16,346.96 L454.82,349.34 L452.76,347.97 L450.7,349.34 L451.36,346.96 L449.43,345.42 L451.89,345.32ZM456.37,342.03 L457.23,344.34 L459.69,344.45 L457.76,345.99 L458.42,348.36 L456.37,347 L454.31,348.36 L454.97,345.99 L453.04,344.45 L455.5,344.34ZM459.97,341.17 L460.84,343.48 L463.3,343.59 L461.37,345.12 L462.03,347.5 L459.97,346.14 L457.92,347.5 L458.57,345.12 L456.64,343.59 L459.11,343.48ZM463.58,340.48 L464.44,342.8 L466.91,342.9 L464.98,344.44 L465.64,346.82 L463.58,345.45 L461.52,346.82 L462.18,344.44 L460.25,342.9 L462.72,342.8ZM467.19,340.04 L468.05,342.35 L470.52,342.46 L468.59,344 L469.24,346.37 L467.19,345.01 L465.13,346.37 L465.79,344 L463.86,342.46 L466.32,342.35ZM470.79,339.9 L471.66,342.21 L474.12,342.32 L472.19,343.85 L472.85,346.23 L470.79,344.87 L468.74,346.23 L469.4,343.85 L467.47,342.32 L469.93,342.21ZM474.4,340.08 L475.27,342.39 L477.73,342.5 L475.8,344.04 L476.46,346.41 L474.4,345.05 L472.34,346.41 L473,344.04 L471.07,342.5 L473.54,342.39ZM478.01,340.59 L478.87,342.9 L481.34,343.01 L479.41,344.54 L480.07,346.92 L478.01,345.56 L475.95,346.92 L476.61,344.54 L474.68,343.01 L477.14,342.9ZM481.62,341.42 L482.48,343.73 L484.94,343.84 L483.01,345.38 L483.67,347.75 L481.62,346.39 L479.56,347.75 L480.22,345.38 L478.29,343.84 L480.75,343.73ZM485.22,342.58 L486.09,344.9 L488.55,345 L486.62,346.54 L487.28,348.92 L485.22,347.55 L483.16,348.92 L483.82,346.54 L481.89,345 L484.36,344.9ZM488.83,344.08 L489.69,346.39 L492.16,346.5 L490.23,348.03 L490.89,350.41 L488.83,349.05 L486.77,350.41 L487.43,348.03 L485.5,346.5 L487.96,346.39ZM492.44,345.91 L493.3,348.22 L495.76,348.32 L493.83,349.86 L494.49,352.24 L492.44,350.88 L490.38,352.24 L491.04,349.86 L489.11,348.32 L491.57,348.22ZM496.04,348.07 L496.91,350.38 L499.37,350.49 L497.44,352.02 L498.1,354.4 L496.04,353.04 L493.99,354.4 L494.64,352.02 L492.71,350.49 L495.18,350.38ZM499.65,350.57 L500.51,352.88 L502.98,352.99 L501.05,354.52 L501.71,356.9 L499.65,355.54 L497.59,356.9 L498.25,354.52 L496.32,352.99 L498.79,352.88ZM503.26,353.41 L504.12,355.72 L506.59,355.83 L504.66,357.36 L505.31,359.74 L503.26,358.38 L501.2,359.74 L501.86,357.36 L499.93,355.83 L502.39,355.72ZM506.86,356.59 L507.73,358.9 L510.19,359.01 L508.26,360.55 L508.92,362.92 L506.86,361.56 L504.81,362.92 L505.47,360.55 L503.54,359.01 L506,358.9ZM510.47,360.12 L511.34,362.43 L513.8,362.54 L511.87,364.07 L512.53,366.45 L510.47,365.09 L508.41,366.45 L509.07,364.07 L507.14,362.54 L509.61,362.43ZM514.08,363.99 L514.94,366.3 L517.41,366.41 L515.48,367.95 L516.14,370.32 L514.08,368.96 L512.02,370.32 L512.68,367.95 L510.75,366.41 L513.21,366.3ZM517.69,368.21 L518.55,370.52 L521.01,370.63 L519.08,372.17 L519.74,374.55 L517.69,373.18 L515.63,374.55 L516.29,372.17 L514.36,370.63 L516.82,370.52ZM521.29,372.79 L522.16,375.1 L524.62,375.2 L522.69,376.74 L523.35,379.12 L521.29,377.76 L519.23,379.12 L519.89,376.74 L517.96,375.2 L520.43,375.1ZM524.9,377.71 L525.76,380.02 L528.23,380.13 L526.3,381.66 L526.96,384.04 L524.9,382.68 L522.84,384.04 L523.5,381.66 L521.57,380.13 L524.03,380.02ZM528.51,382.99 L529.37,385.3 L531.83,385.41 L529.9,386.94 L530.56,389.32 L528.51,387.96 L526.45,389.32 L527.11,386.94 L525.18,385.41 L527.64,385.3ZM532.11,388.63 L532.98,390.94 L535.44,391.04 L533.51,392.58 L534.17,394.96 L532.11,393.6 L530.06,394.96 L530.71,392.58 L528.78,391.04 L531.25,390.94Z" fill="#008c00" stroke="none"/>
</g>
<path d="M447,236.6 L465,236.6" fill="none" stroke="#008c00" stroke-width="1.4" stroke-linejoin="round"/>
<path d="M456,233 L456.89,235.38 L459.42,235.49 L457.44,237.07 L458.12,239.51 L456,238.11 L453.88,239.51 L454.56,237.07 L452.58,235.49 L455.11,235.38Z" fill="#008c00" stroke="none"/>
<text x="466" y="239.9" font-size="9.1" fill="#322c3c" stroke="#322c3c" stroke-width="0.08">TiO<tspan font-size="5.8" dy="3.0">2</tspan><tspan dy="-3.0">-DSL|D149</tspan></text>
<path d="M447,249.4 L465,249.4" fill="none" stroke="#ff0000" stroke-width="1.4" stroke-linejoin="round"/>
<path d="M453.2,249.4 a2.8,2.8 0 1,0 5.6,0 a2.8,2.8 0 1,0 -5.6,0Z" fill="#ff0000" stroke="none"/>
<text x="466" y="252.7" font-size="9.1" fill="#322c3c" stroke="#322c3c" stroke-width="0.08">TiO<tspan font-size="5.8" dy="3.0">2</tspan><tspan dy="-3.0">-HP25|D149</tspan></text>
<path d="M447,263.4 L465,263.4" fill="none" stroke="#000000" stroke-width="1.4" stroke-linejoin="round"/>
<path d="M453.75,261.15 h4.5 v4.5 h-4.5Z" fill="#000000" stroke="none"/>
<text x="466" y="266.7" font-size="9.1" fill="#322c3c" stroke="#322c3c" stroke-width="0.08">TiO<tspan font-size="5.8" dy="3.0">2</tspan><tspan dy="-3.0">-P25|D149</tspan></text>
<text x="337.5" y="237.8" font-size="9" text-anchor="start" fill="#ff2a2a" font-weight="normal" font-style="normal" textLength="22.9" lengthAdjust="spacingAndGlyphs"  stroke="#ff2a2a" stroke-width="0.2">31 Hz</text>
<text x="403.6" y="242" font-size="9" text-anchor="start" fill="#333" font-weight="normal" font-style="normal" textLength="22.9" lengthAdjust="spacingAndGlyphs"  stroke="#333" stroke-width="0.2">79 Hz</text>
<text x="324.4" y="259.6" font-size="9" text-anchor="start" fill="#1a9a3a" font-weight="normal" font-style="normal" textLength="22.9" lengthAdjust="spacingAndGlyphs"  stroke="#1a9a3a" stroke-width="0.2">20 Hz</text>
<path d="M363.8,237.7 L369.67,244.9" stroke="#ff0000" stroke-width="1.0" fill="none"/>
<path d="M372.2,248 L368.12,246.16 L371.22,243.64Z" fill="#ff0000"/>
<path d="M402.9,246.5 L392.39,255.84" stroke="#000000" stroke-width="1.0" fill="none"/>
<path d="M389.4,258.5 L391.06,254.35 L393.72,257.34Z" fill="#000000"/>
<path d="M351.4,257.8 L359.88,267.58" stroke="#008c00" stroke-width="1.0" fill="none"/>
<path d="M362.5,270.6 L358.37,268.89 L361.39,266.27Z" fill="#008c00"/>
</svg>
</body></html>
